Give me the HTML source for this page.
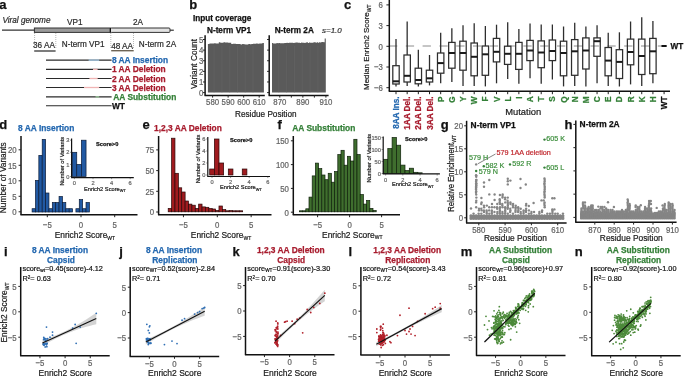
<!DOCTYPE html>
<html><head><meta charset="utf-8"><style>
html,body{margin:0;padding:0;background:#fff;}
svg{display:block;font-family:"Liberation Sans", sans-serif;will-change:transform;}
</style></head><body>
<svg width="685" height="376" viewBox="0 0 685 376">
<rect width="685" height="376" fill="#fff"/>
<text x="-0.8" y="9.1" font-size="13" font-weight="bold" fill="#111" stroke="#111" stroke-width="0.25">a</text>
<text x="2.4" y="23" font-size="8.2" font-style="italic" fill="#2a2a2a" stroke="#2a2a2a" stroke-width="0.2">Viral genome</text>
<text x="67" y="24.7" font-size="8.2" fill="#2a2a2a" stroke="#2a2a2a" stroke-width="0.2">VP1</text>
<text x="133" y="24.8" font-size="8.2" fill="#2a2a2a" stroke="#2a2a2a" stroke-width="0.2">2A</text>
<line x1="2" y1="30.2" x2="35" y2="30.2" stroke="#333" stroke-width="1.2"/>
<line x1="169" y1="30.2" x2="173.8" y2="30.2" stroke="#333" stroke-width="1.2"/>
<rect x="34.4" y="28" width="76" height="4.4" fill="#9a9a9a" stroke="#333" stroke-width="1.0"/>
<rect x="110.4" y="28" width="59.6" height="4.4" fill="#e2e2e2" stroke="#333" stroke-width="1.0" rx="1"/>
<line x1="110.4" y1="28" x2="110.4" y2="32.4" stroke="#111" stroke-width="1.2"/>
<line x1="34.6" y1="33" x2="34.6" y2="48" stroke="#999" stroke-width="0.7" stroke-dasharray="1 1"/>
<line x1="55.8" y1="33" x2="55.8" y2="48" stroke="#999" stroke-width="0.7" stroke-dasharray="1 1"/>
<line x1="110.8" y1="33" x2="110.8" y2="48" stroke="#999" stroke-width="0.7" stroke-dasharray="1 1"/>
<line x1="133.5" y1="33" x2="133.5" y2="48" stroke="#999" stroke-width="0.7" stroke-dasharray="1 1"/>
<text x="33" y="48.4" font-size="8.2" fill="#2a2a2a" stroke="#2a2a2a" stroke-width="0.2">36 AA</text>
<text x="111.2" y="48.6" font-size="8.2" fill="#2a2a2a" stroke="#2a2a2a" stroke-width="0.2">48 AA</text>
<line x1="34.2" y1="51" x2="55.6" y2="51" stroke="#444" stroke-width="1.4"/>
<line x1="111.2" y1="50.7" x2="133.7" y2="50.7" stroke="#6e6455" stroke-width="1.4"/>
<text x="61.8" y="46.9" font-size="8.2" fill="#2a2a2a" stroke="#2a2a2a" stroke-width="0.2">N-term VP1</text>
<text x="138.8" y="46.9" font-size="8.2" fill="#2a2a2a" stroke="#2a2a2a" stroke-width="0.2">N-term 2A</text>
<line x1="46" y1="60.1" x2="111.6" y2="60.1" stroke="#2a2a2a" stroke-width="1.15"/>
<line x1="88.6" y1="60.1" x2="99.2" y2="60.1" stroke="#a8cde8" stroke-width="1.3"/>
<text x="111.9" y="63.1" font-size="8.4" font-weight="bold" fill="#2468b0" stroke="#2468b0" stroke-width="0.25">8 AA Insertion</text>
<line x1="46" y1="69.4" x2="111.6" y2="69.4" stroke="#2a2a2a" stroke-width="1.15"/>
<line x1="93" y1="69.4" x2="97.6" y2="69.4" stroke="#f0b4b4" stroke-width="1.3"/>
<text x="111.9" y="72.4" font-size="8.4" font-weight="bold" fill="#a81c2e" stroke="#a81c2e" stroke-width="0.25">1 AA Deletion</text>
<line x1="46" y1="78.5" x2="111.6" y2="78.5" stroke="#2a2a2a" stroke-width="1.15"/>
<line x1="89.4" y1="78.5" x2="97.7" y2="78.5" stroke="#f0b4b4" stroke-width="1.3"/>
<text x="111.9" y="81.5" font-size="8.4" font-weight="bold" fill="#a81c2e" stroke="#a81c2e" stroke-width="0.25">2 AA Deletion</text>
<line x1="46" y1="87.5" x2="111.6" y2="87.5" stroke="#2a2a2a" stroke-width="1.15"/>
<line x1="84" y1="87.5" x2="99.2" y2="87.5" stroke="#f0b4b4" stroke-width="1.3"/>
<text x="111.9" y="90.5" font-size="8.4" font-weight="bold" fill="#a81c2e" stroke="#a81c2e" stroke-width="0.25">3 AA Deletion</text>
<line x1="46" y1="96.9" x2="111.6" y2="96.9" stroke="#2a2a2a" stroke-width="1.15"/>
<line x1="95.5" y1="96.9" x2="99.2" y2="96.9" stroke="#9ccc9c" stroke-width="1.3"/>
<text x="113.3" y="99.9" font-size="8.4" font-weight="bold" fill="#358039" stroke="#358039" stroke-width="0.25">AA Substitution</text>
<line x1="46" y1="105.7" x2="111.6" y2="105.7" stroke="#2a2a2a" stroke-width="1.15"/>
<text x="111.9" y="108.7" font-size="8.4" font-weight="bold" fill="#111" stroke="#111" stroke-width="0.25">WT</text>
<text x="189.2" y="9.4" font-size="13" font-weight="bold" fill="#111" stroke="#111" stroke-width="0.25">b</text>
<text x="193" y="20.8" font-size="8.2" font-weight="bold" fill="#111" stroke="#111" stroke-width="0.25">Input coverage</text>
<text x="207" y="33.2" font-size="8.2" font-weight="bold" fill="#111" stroke="#111" stroke-width="0.25">N-term VP1</text>
<text x="274.7" y="33.2" font-size="8.2" font-weight="bold" fill="#111" stroke="#111" stroke-width="0.25">N-term 2A</text>
<text x="322" y="32.6" font-size="8.0" font-style="italic" fill="#333" stroke="#333" stroke-width="0.2">s=1.0</text>
<polygon points="207.9,92.6 207.9,43.91 209.46,43.91 209.46,43.61 211.01,43.61 211.01,43.62 212.57,43.62 212.57,43.38 214.12,43.38 214.12,43.29 215.68,43.29 215.68,43.58 217.23,43.58 217.23,43.56 218.79,43.56 218.79,42.27 220.34,42.27 220.34,42.63 221.9,42.63 221.9,42.66 223.46,42.66 223.46,42.21 225.01,42.21 225.01,42.59 226.57,42.59 226.57,42.43 228.12,42.43 228.12,42.75 229.68,42.75 229.68,42.74 231.23,42.74 231.23,43.9 232.79,43.9 232.79,43.69 234.34,43.69 234.34,43.65 235.9,43.65 235.9,43.97 237.46,43.97 237.46,43.92 239.01,43.92 239.01,44.04 240.57,44.04 240.57,44.49 242.12,44.49 242.12,44.09 243.68,44.09 243.68,44.22 245.23,44.22 245.23,44.4 246.79,44.4 246.79,44.56 248.34,44.56 248.34,43.98 249.9,43.98 249.9,44.18 251.46,44.18 251.46,43.94 253.01,43.94 253.01,43.75 254.57,43.75 254.57,43.76 256.12,43.76 256.12,43.52 257.68,43.52 257.68,43.75 259.23,43.75 259.23,43.39 260.79,43.39 260.79,43.52 262.34,43.52 262.34,43.12 263.9,43.12 263.9,92.6" fill="#5a5a5a"/>
<line x1="214.12" y1="46" x2="214.12" y2="92.6" stroke="#6a6a6a" stroke-width="0.4"/>
<line x1="221.9" y1="46" x2="221.9" y2="92.6" stroke="#6a6a6a" stroke-width="0.4"/>
<line x1="229.68" y1="46" x2="229.68" y2="92.6" stroke="#6a6a6a" stroke-width="0.4"/>
<line x1="237.46" y1="46" x2="237.46" y2="92.6" stroke="#6a6a6a" stroke-width="0.4"/>
<line x1="245.23" y1="46" x2="245.23" y2="92.6" stroke="#6a6a6a" stroke-width="0.4"/>
<line x1="253.01" y1="46" x2="253.01" y2="92.6" stroke="#6a6a6a" stroke-width="0.4"/>
<polygon points="272,92.6 272,43.08 273.12,43.08 273.12,43.56 274.24,43.56 274.24,43.51 275.36,43.51 275.36,43.44 276.48,43.44 276.48,42.94 277.6,42.94 277.6,43.25 278.73,43.25 278.73,43.11 279.85,43.11 279.85,43.3 280.97,43.3 280.97,43.14 282.09,43.14 282.09,43.2 283.21,43.2 283.21,43.2 284.33,43.2 284.33,43.03 285.45,43.03 285.45,43 286.57,43 286.57,42.78 287.69,42.78 287.69,42.9 288.81,42.9 288.81,42.72 289.93,42.72 289.93,42.74 291.05,42.74 291.05,42.63 292.18,42.63 292.18,42.82 293.3,42.82 293.3,43.12 294.42,43.12 294.42,42.65 295.54,42.65 295.54,42.56 296.66,42.56 296.66,42.58 297.78,42.58 297.78,42.77 298.9,42.77 298.9,42.66 300.02,42.66 300.02,42.95 301.14,42.95 301.14,42.54 302.26,42.54 302.26,42.68 303.38,42.68 303.38,42.84 304.5,42.84 304.5,42.96 305.62,42.96 305.62,42.43 306.75,42.43 306.75,42.33 307.87,42.33 307.87,42.88 308.99,42.88 308.99,42.4 310.11,42.4 310.11,42.63 311.23,42.63 311.23,42.77 312.35,42.77 312.35,42.66 313.47,42.66 313.47,42.33 314.59,42.33 314.59,42.24 315.71,42.24 315.71,42.75 316.83,42.75 316.83,42.37 317.95,42.37 317.95,42.71 319.07,42.71 319.07,42.25 320.2,42.25 320.2,42.48 321.32,42.48 321.32,42.11 322.44,42.11 322.44,42.02 323.56,42.02 323.56,42.3 324.68,42.3 324.68,38.44 325.8,38.44 325.8,92.6" fill="#5a5a5a"/>
<line x1="278.73" y1="46" x2="278.73" y2="92.6" stroke="#6a6a6a" stroke-width="0.4"/>
<line x1="286.57" y1="46" x2="286.57" y2="92.6" stroke="#6a6a6a" stroke-width="0.4"/>
<line x1="294.42" y1="46" x2="294.42" y2="92.6" stroke="#6a6a6a" stroke-width="0.4"/>
<line x1="302.26" y1="46" x2="302.26" y2="92.6" stroke="#6a6a6a" stroke-width="0.4"/>
<line x1="310.11" y1="46" x2="310.11" y2="92.6" stroke="#6a6a6a" stroke-width="0.4"/>
<line x1="317.95" y1="46" x2="317.95" y2="92.6" stroke="#6a6a6a" stroke-width="0.4"/>
<line x1="205.1" y1="35.3" x2="205.1" y2="95.4" stroke="#111" stroke-width="1.5"/>
<line x1="204.5" y1="95.4" x2="264.8" y2="95.4" stroke="#111" stroke-width="1.5"/>
<line x1="269.2" y1="35.3" x2="269.2" y2="95.4" stroke="#111" stroke-width="1.5"/>
<line x1="268.6" y1="95.4" x2="328.6" y2="95.4" stroke="#111" stroke-width="1.5"/>
<line x1="203" y1="92.6" x2="205.1" y2="92.6" stroke="#222" stroke-width="1.0"/>
<text x="203.4" y="95.4" font-size="7.8" fill="#646464" stroke="#646464" stroke-width="0.2" text-anchor="end" transform="matrix(1 0 0 1.18 0 -16.67)">0</text>
<line x1="267.1" y1="92.6" x2="269.2" y2="92.6" stroke="#222" stroke-width="1.0"/>
<line x1="203" y1="81.98" x2="205.1" y2="81.98" stroke="#222" stroke-width="1.0"/>
<text x="203.4" y="84.78" font-size="7.8" fill="#646464" stroke="#646464" stroke-width="0.2" text-anchor="end" transform="matrix(1 0 0 1.18 0 -14.75)">1</text>
<line x1="267.1" y1="81.98" x2="269.2" y2="81.98" stroke="#222" stroke-width="1.0"/>
<line x1="203" y1="71.36" x2="205.1" y2="71.36" stroke="#222" stroke-width="1.0"/>
<text x="203.4" y="74.16" font-size="7.8" fill="#646464" stroke="#646464" stroke-width="0.2" text-anchor="end" transform="matrix(1 0 0 1.18 0 -12.84)">2</text>
<line x1="267.1" y1="71.36" x2="269.2" y2="71.36" stroke="#222" stroke-width="1.0"/>
<line x1="203" y1="60.74" x2="205.1" y2="60.74" stroke="#222" stroke-width="1.0"/>
<text x="203.4" y="63.54" font-size="7.8" fill="#646464" stroke="#646464" stroke-width="0.2" text-anchor="end" transform="matrix(1 0 0 1.18 0 -10.93)">3</text>
<line x1="267.1" y1="60.74" x2="269.2" y2="60.74" stroke="#222" stroke-width="1.0"/>
<line x1="203" y1="50.12" x2="205.1" y2="50.12" stroke="#222" stroke-width="1.0"/>
<text x="203.4" y="52.92" font-size="7.8" fill="#646464" stroke="#646464" stroke-width="0.2" text-anchor="end" transform="matrix(1 0 0 1.18 0 -9.02)">4</text>
<line x1="267.1" y1="50.12" x2="269.2" y2="50.12" stroke="#222" stroke-width="1.0"/>
<line x1="203" y1="39.5" x2="205.1" y2="39.5" stroke="#222" stroke-width="1.0"/>
<text x="203.4" y="42.3" font-size="7.8" fill="#646464" stroke="#646464" stroke-width="0.2" text-anchor="end" transform="matrix(1 0 0 1.18 0 -7.11)">5</text>
<line x1="267.1" y1="39.5" x2="269.2" y2="39.5" stroke="#222" stroke-width="1.0"/>
<line x1="212.6" y1="95.4" x2="212.6" y2="97.6" stroke="#222" stroke-width="1.0"/>
<text x="212.6" y="104.4" font-size="7.8" fill="#646464" stroke="#646464" stroke-width="0.2" text-anchor="middle" transform="matrix(1 0 0 1.18 0 -18.29)">580</text>
<line x1="228.13" y1="95.4" x2="228.13" y2="97.6" stroke="#222" stroke-width="1.0"/>
<text x="228.13" y="104.4" font-size="7.8" fill="#646464" stroke="#646464" stroke-width="0.2" text-anchor="middle" transform="matrix(1 0 0 1.18 0 -18.29)">590</text>
<line x1="243.66" y1="95.4" x2="243.66" y2="97.6" stroke="#222" stroke-width="1.0"/>
<text x="243.66" y="104.4" font-size="7.8" fill="#646464" stroke="#646464" stroke-width="0.2" text-anchor="middle" transform="matrix(1 0 0 1.18 0 -18.29)">600</text>
<line x1="259.19" y1="95.4" x2="259.19" y2="97.6" stroke="#222" stroke-width="1.0"/>
<text x="259.19" y="104.4" font-size="7.8" fill="#646464" stroke="#646464" stroke-width="0.2" text-anchor="middle" transform="matrix(1 0 0 1.18 0 -18.29)">610</text>
<line x1="279.8" y1="95.4" x2="279.8" y2="97.6" stroke="#222" stroke-width="1.0"/>
<text x="279.8" y="104.4" font-size="7.8" fill="#646464" stroke="#646464" stroke-width="0.2" text-anchor="middle" transform="matrix(1 0 0 1.18 0 -18.29)">870</text>
<line x1="291.33" y1="95.4" x2="291.33" y2="97.6" stroke="#222" stroke-width="1.0"/>
<line x1="302.86" y1="95.4" x2="302.86" y2="97.6" stroke="#222" stroke-width="1.0"/>
<text x="302.86" y="104.4" font-size="7.8" fill="#646464" stroke="#646464" stroke-width="0.2" text-anchor="middle" transform="matrix(1 0 0 1.18 0 -18.29)">890</text>
<line x1="314.39" y1="95.4" x2="314.39" y2="97.6" stroke="#222" stroke-width="1.0"/>
<line x1="325.92" y1="95.4" x2="325.92" y2="97.6" stroke="#222" stroke-width="1.0"/>
<text x="325.92" y="104.4" font-size="7.8" fill="#646464" stroke="#646464" stroke-width="0.2" text-anchor="middle" transform="matrix(1 0 0 1.18 0 -18.29)">910</text>
<text x="265.8" y="116.6" font-size="8.2" fill="#1a1a1a" stroke="#1a1a1a" stroke-width="0.2" text-anchor="middle">Residue Position</text>
<text x="196.7" y="64" font-size="8.3" fill="#1a1a1a" stroke="#1a1a1a" stroke-width="0.2" text-anchor="middle" transform="rotate(-90 196.7 64)">Variant Count</text>
<text x="344" y="8.8" font-size="13" font-weight="bold" fill="#111" stroke="#111" stroke-width="0.25">c</text>
<line x1="386.4" y1="4.9" x2="389.3" y2="4.9" stroke="#222" stroke-width="1.0"/>
<text x="382.8" y="7.7" font-size="7.8" fill="#646464" stroke="#646464" stroke-width="0.2" text-anchor="end" transform="matrix(1 0 0 1.18 0 -0.88)">6</text>
<line x1="386.4" y1="25.6" x2="389.3" y2="25.6" stroke="#222" stroke-width="1.0"/>
<text x="382.8" y="28.4" font-size="7.8" fill="#646464" stroke="#646464" stroke-width="0.2" text-anchor="end" transform="matrix(1 0 0 1.18 0 -4.61)">3</text>
<line x1="386.4" y1="46.3" x2="389.3" y2="46.3" stroke="#222" stroke-width="1.0"/>
<text x="382.8" y="49.1" font-size="7.8" fill="#646464" stroke="#646464" stroke-width="0.2" text-anchor="end" transform="matrix(1 0 0 1.18 0 -8.33)">0</text>
<line x1="386.4" y1="67" x2="389.3" y2="67" stroke="#222" stroke-width="1.0"/>
<text x="382.8" y="69.8" font-size="7.8" fill="#646464" stroke="#646464" stroke-width="0.2" text-anchor="end" transform="matrix(1 0 0 1.18 0 -12.06)">−3</text>
<line x1="386.4" y1="87.7" x2="389.3" y2="87.7" stroke="#222" stroke-width="1.0"/>
<text x="382.8" y="90.5" font-size="7.8" fill="#646464" stroke="#646464" stroke-width="0.2" text-anchor="end" transform="matrix(1 0 0 1.18 0 -15.78)">−6</text>
<line x1="389" y1="46" x2="666" y2="46" stroke="#8c8c8c" stroke-width="1.0" stroke-dasharray="8.3 8.5"/>
<line x1="396" y1="39" x2="396" y2="65.7" stroke="#2e2e2e" stroke-width="1.3"/>
<line x1="396" y1="84" x2="396" y2="86.6" stroke="#2e2e2e" stroke-width="1.3"/>
<rect x="392.8" y="65.7" width="6.4" height="18.3" fill="none" stroke="#2e2e2e" stroke-width="1.25"/>
<line x1="392.8" y1="81.3" x2="399.2" y2="81.3" stroke="#1a1a1a" stroke-width="2.0"/>
<line x1="396" y1="91.2" x2="396" y2="94.2" stroke="#222" stroke-width="1.0"/>
<text x="399" y="96.4" font-size="8.2" font-weight="bold" fill="#2468b0" stroke="#2468b0" stroke-width="0.25" text-anchor="end" transform="rotate(-90 399 96.4)">8AA Ins.</text>
<line x1="407.17" y1="21.5" x2="407.17" y2="55" stroke="#2e2e2e" stroke-width="1.3"/>
<line x1="407.17" y1="82" x2="407.17" y2="86" stroke="#2e2e2e" stroke-width="1.3"/>
<rect x="403.97" y="55" width="6.4" height="27" fill="none" stroke="#2e2e2e" stroke-width="1.25"/>
<line x1="403.97" y1="75.8" x2="410.37" y2="75.8" stroke="#1a1a1a" stroke-width="2.0"/>
<line x1="407.17" y1="91.2" x2="407.17" y2="94.2" stroke="#222" stroke-width="1.0"/>
<text x="410.17" y="96.4" font-size="8.2" font-weight="bold" fill="#a81c2e" stroke="#a81c2e" stroke-width="0.25" text-anchor="end" transform="rotate(-90 410.17 96.4)">1AA Del.</text>
<line x1="418.34" y1="49.7" x2="418.34" y2="68.2" stroke="#2e2e2e" stroke-width="1.3"/>
<line x1="418.34" y1="83.8" x2="418.34" y2="86.6" stroke="#2e2e2e" stroke-width="1.3"/>
<rect x="415.14" y="68.2" width="6.4" height="15.6" fill="none" stroke="#2e2e2e" stroke-width="1.25"/>
<line x1="415.14" y1="80" x2="421.54" y2="80" stroke="#1a1a1a" stroke-width="2.0"/>
<line x1="418.34" y1="91.2" x2="418.34" y2="94.2" stroke="#222" stroke-width="1.0"/>
<text x="421.34" y="96.4" font-size="8.2" font-weight="bold" fill="#a81c2e" stroke="#a81c2e" stroke-width="0.25" text-anchor="end" transform="rotate(-90 421.34 96.4)">2AA Del.</text>
<line x1="429.51" y1="55" x2="429.51" y2="70.2" stroke="#2e2e2e" stroke-width="1.3"/>
<line x1="429.51" y1="82" x2="429.51" y2="85.4" stroke="#2e2e2e" stroke-width="1.3"/>
<rect x="426.31" y="70.2" width="6.4" height="11.8" fill="none" stroke="#2e2e2e" stroke-width="1.25"/>
<line x1="426.31" y1="78.3" x2="432.71" y2="78.3" stroke="#1a1a1a" stroke-width="2.0"/>
<line x1="429.51" y1="91.2" x2="429.51" y2="94.2" stroke="#222" stroke-width="1.0"/>
<text x="432.51" y="96.4" font-size="8.2" font-weight="bold" fill="#a81c2e" stroke="#a81c2e" stroke-width="0.25" text-anchor="end" transform="rotate(-90 432.51 96.4)">3AA Del.</text>
<line x1="440.68" y1="32.8" x2="440.68" y2="53" stroke="#2e2e2e" stroke-width="1.3"/>
<line x1="440.68" y1="73.2" x2="440.68" y2="83.3" stroke="#2e2e2e" stroke-width="1.3"/>
<rect x="437.48" y="53" width="6.4" height="20.2" fill="none" stroke="#2e2e2e" stroke-width="1.25"/>
<line x1="437.48" y1="63.1" x2="443.88" y2="63.1" stroke="#1a1a1a" stroke-width="2.0"/>
<line x1="440.68" y1="91.2" x2="440.68" y2="94.2" stroke="#222" stroke-width="1.0"/>
<text x="443.68" y="96.4" font-size="8.2" font-weight="bold" fill="#358039" stroke="#358039" stroke-width="0.25" text-anchor="end" transform="rotate(-90 443.68 96.4)">P</text>
<line x1="451.85" y1="28.3" x2="451.85" y2="42.4" stroke="#2e2e2e" stroke-width="1.3"/>
<line x1="451.85" y1="68.2" x2="451.85" y2="82" stroke="#2e2e2e" stroke-width="1.3"/>
<rect x="448.65" y="42.4" width="6.4" height="25.8" fill="none" stroke="#2e2e2e" stroke-width="1.25"/>
<line x1="448.65" y1="53" x2="455.05" y2="53" stroke="#1a1a1a" stroke-width="2.0"/>
<line x1="451.85" y1="91.2" x2="451.85" y2="94.2" stroke="#222" stroke-width="1.0"/>
<text x="454.85" y="96.4" font-size="8.2" font-weight="bold" fill="#358039" stroke="#358039" stroke-width="0.25" text-anchor="end" transform="rotate(-90 454.85 96.4)">G</text>
<line x1="463.02" y1="25.3" x2="463.02" y2="41.2" stroke="#2e2e2e" stroke-width="1.3"/>
<line x1="463.02" y1="70.2" x2="463.02" y2="85.9" stroke="#2e2e2e" stroke-width="1.3"/>
<rect x="459.82" y="41.2" width="6.4" height="29" fill="none" stroke="#2e2e2e" stroke-width="1.25"/>
<line x1="459.82" y1="53" x2="466.22" y2="53" stroke="#1a1a1a" stroke-width="2.0"/>
<line x1="463.02" y1="91.2" x2="463.02" y2="94.2" stroke="#222" stroke-width="1.0"/>
<text x="466.02" y="96.4" font-size="8.2" font-weight="bold" fill="#358039" stroke="#358039" stroke-width="0.25" text-anchor="end" transform="rotate(-90 466.02 96.4)">Y</text>
<line x1="474.19" y1="23.2" x2="474.19" y2="43" stroke="#2e2e2e" stroke-width="1.3"/>
<line x1="474.19" y1="75.8" x2="474.19" y2="85.9" stroke="#2e2e2e" stroke-width="1.3"/>
<rect x="470.99" y="43" width="6.4" height="32.8" fill="none" stroke="#2e2e2e" stroke-width="1.25"/>
<line x1="470.99" y1="56.8" x2="477.39" y2="56.8" stroke="#1a1a1a" stroke-width="2.0"/>
<line x1="474.19" y1="91.2" x2="474.19" y2="94.2" stroke="#222" stroke-width="1.0"/>
<text x="477.19" y="96.4" font-size="8.2" font-weight="bold" fill="#358039" stroke="#358039" stroke-width="0.25" text-anchor="end" transform="rotate(-90 477.19 96.4)">W</text>
<line x1="485.36" y1="26" x2="485.36" y2="46" stroke="#2e2e2e" stroke-width="1.3"/>
<line x1="485.36" y1="75.3" x2="485.36" y2="86.4" stroke="#2e2e2e" stroke-width="1.3"/>
<rect x="482.16" y="46" width="6.4" height="29.3" fill="none" stroke="#2e2e2e" stroke-width="1.25"/>
<line x1="482.16" y1="54.3" x2="488.56" y2="54.3" stroke="#1a1a1a" stroke-width="2.0"/>
<line x1="485.36" y1="91.2" x2="485.36" y2="94.2" stroke="#222" stroke-width="1.0"/>
<text x="488.36" y="96.4" font-size="8.2" font-weight="bold" fill="#358039" stroke="#358039" stroke-width="0.25" text-anchor="end" transform="rotate(-90 488.36 96.4)">F</text>
<line x1="496.53" y1="24.7" x2="496.53" y2="38.4" stroke="#2e2e2e" stroke-width="1.3"/>
<line x1="496.53" y1="61.9" x2="496.53" y2="83.3" stroke="#2e2e2e" stroke-width="1.3"/>
<rect x="493.33" y="38.4" width="6.4" height="23.5" fill="none" stroke="#2e2e2e" stroke-width="1.25"/>
<line x1="493.33" y1="51.8" x2="499.73" y2="51.8" stroke="#1a1a1a" stroke-width="2.0"/>
<line x1="496.53" y1="91.2" x2="496.53" y2="94.2" stroke="#222" stroke-width="1.0"/>
<text x="499.53" y="96.4" font-size="8.2" font-weight="bold" fill="#358039" stroke="#358039" stroke-width="0.25" text-anchor="end" transform="rotate(-90 499.53 96.4)">V</text>
<line x1="507.7" y1="22.2" x2="507.7" y2="46.2" stroke="#2e2e2e" stroke-width="1.3"/>
<line x1="507.7" y1="64.4" x2="507.7" y2="79" stroke="#2e2e2e" stroke-width="1.3"/>
<rect x="504.5" y="46.2" width="6.4" height="18.2" fill="none" stroke="#2e2e2e" stroke-width="1.25"/>
<line x1="504.5" y1="53.8" x2="510.9" y2="53.8" stroke="#1a1a1a" stroke-width="2.0"/>
<line x1="507.7" y1="91.2" x2="507.7" y2="94.2" stroke="#222" stroke-width="1.0"/>
<text x="510.7" y="96.4" font-size="8.2" font-weight="bold" fill="#358039" stroke="#358039" stroke-width="0.25" text-anchor="end" transform="rotate(-90 510.7 96.4)">L</text>
<line x1="518.87" y1="29" x2="518.87" y2="42.4" stroke="#2e2e2e" stroke-width="1.3"/>
<line x1="518.87" y1="69.4" x2="518.87" y2="83.8" stroke="#2e2e2e" stroke-width="1.3"/>
<rect x="515.67" y="42.4" width="6.4" height="27" fill="none" stroke="#2e2e2e" stroke-width="1.25"/>
<line x1="515.67" y1="53.8" x2="522.07" y2="53.8" stroke="#1a1a1a" stroke-width="2.0"/>
<line x1="518.87" y1="91.2" x2="518.87" y2="94.2" stroke="#222" stroke-width="1.0"/>
<text x="521.87" y="96.4" font-size="8.2" font-weight="bold" fill="#358039" stroke="#358039" stroke-width="0.25" text-anchor="end" transform="rotate(-90 521.87 96.4)">I</text>
<line x1="530.04" y1="23.5" x2="530.04" y2="40.4" stroke="#2e2e2e" stroke-width="1.3"/>
<line x1="530.04" y1="60.6" x2="530.04" y2="78.3" stroke="#2e2e2e" stroke-width="1.3"/>
<rect x="526.84" y="40.4" width="6.4" height="20.2" fill="none" stroke="#2e2e2e" stroke-width="1.25"/>
<line x1="526.84" y1="50.5" x2="533.24" y2="50.5" stroke="#1a1a1a" stroke-width="2.0"/>
<line x1="530.04" y1="91.2" x2="530.04" y2="94.2" stroke="#222" stroke-width="1.0"/>
<text x="533.04" y="96.4" font-size="8.2" font-weight="bold" fill="#358039" stroke="#358039" stroke-width="0.25" text-anchor="end" transform="rotate(-90 533.04 96.4)">A</text>
<line x1="541.21" y1="24.5" x2="541.21" y2="40.9" stroke="#2e2e2e" stroke-width="1.3"/>
<line x1="541.21" y1="67.7" x2="541.21" y2="83.8" stroke="#2e2e2e" stroke-width="1.3"/>
<rect x="538.01" y="40.9" width="6.4" height="26.8" fill="none" stroke="#2e2e2e" stroke-width="1.25"/>
<line x1="538.01" y1="52.5" x2="544.41" y2="52.5" stroke="#1a1a1a" stroke-width="2.0"/>
<line x1="541.21" y1="91.2" x2="541.21" y2="94.2" stroke="#222" stroke-width="1.0"/>
<text x="544.21" y="96.4" font-size="8.2" font-weight="bold" fill="#358039" stroke="#358039" stroke-width="0.25" text-anchor="end" transform="rotate(-90 544.21 96.4)">T</text>
<line x1="552.38" y1="24.5" x2="552.38" y2="40" stroke="#2e2e2e" stroke-width="1.3"/>
<line x1="552.38" y1="60.6" x2="552.38" y2="79.5" stroke="#2e2e2e" stroke-width="1.3"/>
<rect x="549.18" y="40" width="6.4" height="20.6" fill="none" stroke="#2e2e2e" stroke-width="1.25"/>
<line x1="549.18" y1="51" x2="555.58" y2="51" stroke="#1a1a1a" stroke-width="2.0"/>
<line x1="552.38" y1="91.2" x2="552.38" y2="94.2" stroke="#222" stroke-width="1.0"/>
<text x="555.38" y="96.4" font-size="8.2" font-weight="bold" fill="#358039" stroke="#358039" stroke-width="0.25" text-anchor="end" transform="rotate(-90 555.38 96.4)">S</text>
<line x1="563.55" y1="26.5" x2="563.55" y2="41.2" stroke="#2e2e2e" stroke-width="1.3"/>
<line x1="563.55" y1="75.8" x2="563.55" y2="86.4" stroke="#2e2e2e" stroke-width="1.3"/>
<rect x="560.35" y="41.2" width="6.4" height="34.6" fill="none" stroke="#2e2e2e" stroke-width="1.25"/>
<line x1="560.35" y1="53" x2="566.75" y2="53" stroke="#1a1a1a" stroke-width="2.0"/>
<line x1="563.55" y1="91.2" x2="563.55" y2="94.2" stroke="#222" stroke-width="1.0"/>
<text x="566.55" y="96.4" font-size="8.2" font-weight="bold" fill="#358039" stroke="#358039" stroke-width="0.25" text-anchor="end" transform="rotate(-90 566.55 96.4)">Q</text>
<line x1="574.72" y1="22.7" x2="574.72" y2="39.6" stroke="#2e2e2e" stroke-width="1.3"/>
<line x1="574.72" y1="75.3" x2="574.72" y2="85.9" stroke="#2e2e2e" stroke-width="1.3"/>
<rect x="571.52" y="39.6" width="6.4" height="35.7" fill="none" stroke="#2e2e2e" stroke-width="1.25"/>
<line x1="571.52" y1="51.3" x2="577.92" y2="51.3" stroke="#1a1a1a" stroke-width="2.0"/>
<line x1="574.72" y1="91.2" x2="574.72" y2="94.2" stroke="#222" stroke-width="1.0"/>
<text x="577.72" y="96.4" font-size="8.2" font-weight="bold" fill="#358039" stroke="#358039" stroke-width="0.25" text-anchor="end" transform="rotate(-90 577.72 96.4)">N</text>
<line x1="585.89" y1="26.5" x2="585.89" y2="37.9" stroke="#2e2e2e" stroke-width="1.3"/>
<line x1="585.89" y1="69" x2="585.89" y2="86.4" stroke="#2e2e2e" stroke-width="1.3"/>
<rect x="582.69" y="37.9" width="6.4" height="31.1" fill="none" stroke="#2e2e2e" stroke-width="1.25"/>
<line x1="582.69" y1="50.5" x2="589.09" y2="50.5" stroke="#1a1a1a" stroke-width="2.0"/>
<line x1="585.89" y1="91.2" x2="585.89" y2="94.2" stroke="#222" stroke-width="1.0"/>
<text x="588.89" y="96.4" font-size="8.2" font-weight="bold" fill="#358039" stroke="#358039" stroke-width="0.25" text-anchor="end" transform="rotate(-90 588.89 96.4)">M</text>
<line x1="597.06" y1="25.3" x2="597.06" y2="37.9" stroke="#2e2e2e" stroke-width="1.3"/>
<line x1="597.06" y1="56.3" x2="597.06" y2="83.3" stroke="#2e2e2e" stroke-width="1.3"/>
<rect x="593.86" y="37.9" width="6.4" height="18.4" fill="none" stroke="#2e2e2e" stroke-width="1.25"/>
<line x1="593.86" y1="41.2" x2="600.26" y2="41.2" stroke="#1a1a1a" stroke-width="2.0"/>
<line x1="597.06" y1="91.2" x2="597.06" y2="94.2" stroke="#222" stroke-width="1.0"/>
<text x="600.06" y="96.4" font-size="8.2" font-weight="bold" fill="#358039" stroke="#358039" stroke-width="0.25" text-anchor="end" transform="rotate(-90 600.06 96.4)">C</text>
<line x1="608.23" y1="32.8" x2="608.23" y2="47.5" stroke="#2e2e2e" stroke-width="1.3"/>
<line x1="608.23" y1="75.8" x2="608.23" y2="85.9" stroke="#2e2e2e" stroke-width="1.3"/>
<rect x="605.03" y="47.5" width="6.4" height="28.3" fill="none" stroke="#2e2e2e" stroke-width="1.25"/>
<line x1="605.03" y1="60.6" x2="611.43" y2="60.6" stroke="#1a1a1a" stroke-width="2.0"/>
<line x1="608.23" y1="91.2" x2="608.23" y2="94.2" stroke="#222" stroke-width="1.0"/>
<text x="611.23" y="96.4" font-size="8.2" font-weight="bold" fill="#358039" stroke="#358039" stroke-width="0.25" text-anchor="end" transform="rotate(-90 611.23 96.4)">E</text>
<line x1="619.4" y1="32.3" x2="619.4" y2="49.7" stroke="#2e2e2e" stroke-width="1.3"/>
<line x1="619.4" y1="78.5" x2="619.4" y2="86.5" stroke="#2e2e2e" stroke-width="1.3"/>
<rect x="616.2" y="49.7" width="6.4" height="28.8" fill="none" stroke="#2e2e2e" stroke-width="1.25"/>
<line x1="616.2" y1="61.9" x2="622.6" y2="61.9" stroke="#1a1a1a" stroke-width="2.0"/>
<line x1="619.4" y1="91.2" x2="619.4" y2="94.2" stroke="#222" stroke-width="1.0"/>
<text x="622.4" y="96.4" font-size="8.2" font-weight="bold" fill="#358039" stroke="#358039" stroke-width="0.25" text-anchor="end" transform="rotate(-90 622.4 96.4)">D</text>
<line x1="630.57" y1="21.5" x2="630.57" y2="39.1" stroke="#2e2e2e" stroke-width="1.3"/>
<line x1="630.57" y1="64.8" x2="630.57" y2="84.4" stroke="#2e2e2e" stroke-width="1.3"/>
<rect x="627.37" y="39.1" width="6.4" height="25.7" fill="none" stroke="#2e2e2e" stroke-width="1.25"/>
<line x1="627.37" y1="52" x2="633.77" y2="52" stroke="#1a1a1a" stroke-width="2.0"/>
<line x1="630.57" y1="91.2" x2="630.57" y2="94.2" stroke="#222" stroke-width="1.0"/>
<text x="633.57" y="96.4" font-size="8.2" font-weight="bold" fill="#358039" stroke="#358039" stroke-width="0.25" text-anchor="end" transform="rotate(-90 633.57 96.4)">R</text>
<line x1="641.74" y1="17.2" x2="641.74" y2="39.1" stroke="#2e2e2e" stroke-width="1.3"/>
<line x1="641.74" y1="74.5" x2="641.74" y2="85.9" stroke="#2e2e2e" stroke-width="1.3"/>
<rect x="638.54" y="39.1" width="6.4" height="35.4" fill="none" stroke="#2e2e2e" stroke-width="1.25"/>
<line x1="638.54" y1="56" x2="644.94" y2="56" stroke="#1a1a1a" stroke-width="2.0"/>
<line x1="641.74" y1="91.2" x2="641.74" y2="94.2" stroke="#222" stroke-width="1.0"/>
<text x="644.74" y="96.4" font-size="8.2" font-weight="bold" fill="#358039" stroke="#358039" stroke-width="0.25" text-anchor="end" transform="rotate(-90 644.74 96.4)">K</text>
<line x1="652.91" y1="21" x2="652.91" y2="38.4" stroke="#2e2e2e" stroke-width="1.3"/>
<line x1="652.91" y1="73.7" x2="652.91" y2="83.3" stroke="#2e2e2e" stroke-width="1.3"/>
<rect x="649.71" y="38.4" width="6.4" height="35.3" fill="none" stroke="#2e2e2e" stroke-width="1.25"/>
<line x1="649.71" y1="51.3" x2="656.11" y2="51.3" stroke="#1a1a1a" stroke-width="2.0"/>
<line x1="652.91" y1="91.2" x2="652.91" y2="94.2" stroke="#222" stroke-width="1.0"/>
<text x="655.91" y="96.4" font-size="8.2" font-weight="bold" fill="#358039" stroke="#358039" stroke-width="0.25" text-anchor="end" transform="rotate(-90 655.91 96.4)">H</text>
<line x1="661.48" y1="46" x2="666.68" y2="46" stroke="#111" stroke-width="2.0"/>
<line x1="664.08" y1="91.2" x2="664.08" y2="94.2" stroke="#222" stroke-width="1.0"/>
<text x="667.08" y="96.4" font-size="8.2" font-weight="bold" fill="#111" stroke="#111" stroke-width="0.25" text-anchor="end" transform="rotate(-90 667.08 96.4)">WT</text>
<text x="670.6" y="49" font-size="8.2" font-weight="bold" fill="#111" stroke="#111" stroke-width="0.25">WT</text>
<text x="505.2" y="115.3" font-size="9.4" fill="#1a1a1a" stroke="#1a1a1a" stroke-width="0.2">Mutation</text>
<text x="368.7" y="47.2" font-size="7.9" fill="#1a1a1a" stroke="#1a1a1a" stroke-width="0.2" text-anchor="middle" transform="rotate(-90 368.7 47.2)">Median Enrich2 Score<tspan font-size="5" dy="1.8">WT</tspan></text>
<line x1="389.3" y1="0" x2="389.3" y2="91.2" stroke="#111" stroke-width="1.5"/>
<line x1="388.7" y1="91.2" x2="670" y2="91.2" stroke="#111" stroke-width="1.5"/>
<text x="-0.8" y="128.6" font-size="13" font-weight="bold" fill="#111" stroke="#111" stroke-width="0.25">d</text>
<text x="18.1" y="131.1" font-size="8.4" font-weight="bold" fill="#2468b0" stroke="#2468b0" stroke-width="0.25">8 AA Insertion</text>
<rect x="32.1" y="208.7" width="3.37" height="3.3" fill="#2159a3" stroke="#0c1c38" stroke-width="0.7"/>
<rect x="35.47" y="180.4" width="3.37" height="31.6" fill="#2159a3" stroke="#0c1c38" stroke-width="0.7"/>
<rect x="38.84" y="155.4" width="3.37" height="56.6" fill="#2159a3" stroke="#0c1c38" stroke-width="0.7"/>
<rect x="42.21" y="139.4" width="3.37" height="72.6" fill="#2159a3" stroke="#0c1c38" stroke-width="0.7"/>
<rect x="45.58" y="193" width="3.37" height="19" fill="#2159a3" stroke="#0c1c38" stroke-width="0.7"/>
<rect x="48.95" y="208.7" width="3.37" height="3.3" fill="#2159a3" stroke="#0c1c38" stroke-width="0.7"/>
<rect x="52.32" y="202.5" width="3.37" height="9.5" fill="#2159a3" stroke="#0c1c38" stroke-width="0.7"/>
<rect x="55.69" y="202.5" width="3.37" height="9.5" fill="#2159a3" stroke="#0c1c38" stroke-width="0.7"/>
<rect x="59.06" y="196.5" width="3.37" height="15.5" fill="#2159a3" stroke="#0c1c38" stroke-width="0.7"/>
<rect x="62.43" y="202.5" width="3.37" height="9.5" fill="#2159a3" stroke="#0c1c38" stroke-width="0.7"/>
<rect x="65.8" y="208.7" width="3.37" height="3.3" fill="#2159a3" stroke="#0c1c38" stroke-width="0.7"/>
<rect x="69.17" y="208.7" width="3.37" height="3.3" fill="#2159a3" stroke="#0c1c38" stroke-width="0.7"/>
<rect x="75.91" y="208.7" width="3.37" height="3.3" fill="#2159a3" stroke="#0c1c38" stroke-width="0.7"/>
<rect x="79.28" y="199.6" width="3.37" height="12.4" fill="#2159a3" stroke="#0c1c38" stroke-width="0.7"/>
<rect x="82.65" y="208.7" width="3.37" height="3.3" fill="#2159a3" stroke="#0c1c38" stroke-width="0.7"/>
<rect x="86.02" y="202.5" width="3.37" height="9.5" fill="#2159a3" stroke="#0c1c38" stroke-width="0.7"/>
<line x1="21" y1="136" x2="21" y2="214.8" stroke="#111" stroke-width="1.5"/>
<line x1="20.4" y1="214.8" x2="137.5" y2="214.8" stroke="#111" stroke-width="1.5"/>
<line x1="18.6" y1="211.8" x2="21" y2="211.8" stroke="#222" stroke-width="1.0"/>
<text x="16.6" y="214.6" font-size="7.8" fill="#646464" stroke="#646464" stroke-width="0.2" text-anchor="end" transform="matrix(1 0 0 1.18 0 -38.12)">0</text>
<line x1="18.6" y1="196.3" x2="21" y2="196.3" stroke="#222" stroke-width="1.0"/>
<text x="16.6" y="199.1" font-size="7.8" fill="#646464" stroke="#646464" stroke-width="0.2" text-anchor="end" transform="matrix(1 0 0 1.18 0 -35.33)">5</text>
<line x1="18.6" y1="180.8" x2="21" y2="180.8" stroke="#222" stroke-width="1.0"/>
<text x="16.6" y="183.6" font-size="7.8" fill="#646464" stroke="#646464" stroke-width="0.2" text-anchor="end" transform="matrix(1 0 0 1.18 0 -32.54)">10</text>
<line x1="18.6" y1="165.3" x2="21" y2="165.3" stroke="#222" stroke-width="1.0"/>
<text x="16.6" y="168.1" font-size="7.8" fill="#646464" stroke="#646464" stroke-width="0.2" text-anchor="end" transform="matrix(1 0 0 1.18 0 -29.75)">15</text>
<line x1="18.6" y1="149.8" x2="21" y2="149.8" stroke="#222" stroke-width="1.0"/>
<text x="16.6" y="152.6" font-size="7.8" fill="#646464" stroke="#646464" stroke-width="0.2" text-anchor="end" transform="matrix(1 0 0 1.18 0 -26.96)">20</text>
<line x1="47.3" y1="214.8" x2="47.3" y2="217.2" stroke="#222" stroke-width="1.0"/>
<text x="47.3" y="227.2" font-size="7.8" fill="#646464" stroke="#646464" stroke-width="0.2" text-anchor="middle" transform="matrix(1 0 0 1.18 0 -40.39)">−5</text>
<line x1="81" y1="214.8" x2="81" y2="217.2" stroke="#222" stroke-width="1.0"/>
<text x="81" y="227.2" font-size="7.8" fill="#646464" stroke="#646464" stroke-width="0.2" text-anchor="middle" transform="matrix(1 0 0 1.18 0 -40.39)">0</text>
<line x1="114.7" y1="214.8" x2="114.7" y2="217.2" stroke="#222" stroke-width="1.0"/>
<text x="114.7" y="227.2" font-size="7.8" fill="#646464" stroke="#646464" stroke-width="0.2" text-anchor="middle" transform="matrix(1 0 0 1.18 0 -40.39)">5</text>
<text x="5.9" y="177.7" font-size="8.3" fill="#1a1a1a" stroke="#1a1a1a" stroke-width="0.2" text-anchor="middle" transform="rotate(-90 5.9 177.7)">Number of Variants</text>
<text x="54.7" y="237.8" font-size="8.4" fill="#1a1a1a" stroke="#1a1a1a" stroke-width="0.2">Enrich2 Score<tspan font-size="5" dy="1.8">WT</tspan></text>
<rect x="72.1" y="152.3" width="4.65" height="24.2" fill="#2159a3" stroke="#0c1c38" stroke-width="0.7"/>
<rect x="76.75" y="164.4" width="4.65" height="12.1" fill="#2159a3" stroke="#0c1c38" stroke-width="0.7"/>
<rect x="81.4" y="140.2" width="4.65" height="36.3" fill="#2159a3" stroke="#0c1c38" stroke-width="0.7"/>
<line x1="71.6" y1="138.5" x2="71.6" y2="177.6" stroke="#111" stroke-width="1.2"/>
<line x1="71.1" y1="177.6" x2="133.8" y2="177.6" stroke="#111" stroke-width="1.2"/>
<line x1="70" y1="176.5" x2="71.6" y2="176.5" stroke="#333" stroke-width="0.5"/>
<text x="69.3" y="178.6" font-size="5.7" fill="#646464" stroke="#646464" stroke-width="0.2" text-anchor="end">0</text>
<line x1="70" y1="164.4" x2="71.6" y2="164.4" stroke="#333" stroke-width="0.5"/>
<text x="69.3" y="166.5" font-size="5.7" fill="#646464" stroke="#646464" stroke-width="0.2" text-anchor="end">1</text>
<line x1="70" y1="152.3" x2="71.6" y2="152.3" stroke="#333" stroke-width="0.5"/>
<text x="69.3" y="154.4" font-size="5.7" fill="#646464" stroke="#646464" stroke-width="0.2" text-anchor="end">2</text>
<line x1="70" y1="140.2" x2="71.6" y2="140.2" stroke="#333" stroke-width="0.5"/>
<text x="69.3" y="142.3" font-size="5.7" fill="#646464" stroke="#646464" stroke-width="0.2" text-anchor="end">3</text>
<line x1="74.4" y1="177.6" x2="74.4" y2="179.2" stroke="#333" stroke-width="0.5"/>
<text x="74.4" y="185.4" font-size="5.7" fill="#646464" stroke="#646464" stroke-width="0.2" text-anchor="middle">0</text>
<line x1="93" y1="177.6" x2="93" y2="179.2" stroke="#333" stroke-width="0.5"/>
<text x="93" y="185.4" font-size="5.7" fill="#646464" stroke="#646464" stroke-width="0.2" text-anchor="middle">2</text>
<line x1="111.6" y1="177.6" x2="111.6" y2="179.2" stroke="#333" stroke-width="0.5"/>
<text x="111.6" y="185.4" font-size="5.7" fill="#646464" stroke="#646464" stroke-width="0.2" text-anchor="middle">4</text>
<line x1="130.2" y1="177.6" x2="130.2" y2="179.2" stroke="#333" stroke-width="0.5"/>
<text x="130.2" y="185.4" font-size="5.7" fill="#646464" stroke="#646464" stroke-width="0.2" text-anchor="middle">6</text>
<text x="63.8" y="161.2" font-size="5.7" fill="#1a1a1a" stroke="#1a1a1a" stroke-width="0.2" text-anchor="middle" transform="rotate(-90 63.8 161.2)">Number of Variants</text>
<text x="96" y="146" font-size="5.7" font-weight="bold" fill="#111" stroke="#111" stroke-width="0.25">Score&gt;0</text>
<text x="84" y="190.8" font-size="5.7" fill="#1a1a1a" stroke="#1a1a1a" stroke-width="0.2">Enrich2 Score<tspan font-size="3.9" dy="1.3">WT</tspan></text>
<text x="142.6" y="128.7" font-size="13" font-weight="bold" fill="#111" stroke="#111" stroke-width="0.25">e</text>
<text x="154" y="131.1" font-size="8.4" font-weight="bold" fill="#a81c2e" stroke="#a81c2e" stroke-width="0.25">1,2,3 AA Deletion</text>
<rect x="168.2" y="208.4" width="3.38" height="3.4" fill="#a01b1f" stroke="#2a0808" stroke-width="0.7"/>
<rect x="171.58" y="138.2" width="3.38" height="73.6" fill="#a01b1f" stroke="#2a0808" stroke-width="0.7"/>
<rect x="174.97" y="173.3" width="3.38" height="38.5" fill="#a01b1f" stroke="#2a0808" stroke-width="0.7"/>
<rect x="178.35" y="187.8" width="3.38" height="24" fill="#a01b1f" stroke="#2a0808" stroke-width="0.7"/>
<rect x="181.74" y="192" width="3.38" height="19.8" fill="#a01b1f" stroke="#2a0808" stroke-width="0.7"/>
<rect x="185.12" y="201" width="3.38" height="10.8" fill="#a01b1f" stroke="#2a0808" stroke-width="0.7"/>
<rect x="188.51" y="204.1" width="3.38" height="7.7" fill="#a01b1f" stroke="#2a0808" stroke-width="0.7"/>
<rect x="191.89" y="205.2" width="3.38" height="6.6" fill="#a01b1f" stroke="#2a0808" stroke-width="0.7"/>
<rect x="195.28" y="208.4" width="3.38" height="3.4" fill="#a01b1f" stroke="#2a0808" stroke-width="0.7"/>
<rect x="198.66" y="204.1" width="3.38" height="7.7" fill="#a01b1f" stroke="#2a0808" stroke-width="0.7"/>
<rect x="202.05" y="206.9" width="3.38" height="4.9" fill="#a01b1f" stroke="#2a0808" stroke-width="0.7"/>
<rect x="205.44" y="207.3" width="3.38" height="4.5" fill="#a01b1f" stroke="#2a0808" stroke-width="0.7"/>
<rect x="208.82" y="208.5" width="3.38" height="3.3" fill="#a01b1f" stroke="#2a0808" stroke-width="0.7"/>
<rect x="212.2" y="209" width="3.38" height="2.8" fill="#a01b1f" stroke="#2a0808" stroke-width="0.7"/>
<rect x="215.59" y="210.5" width="3.38" height="1.3" fill="#a01b1f" stroke="#2a0808" stroke-width="0.7"/>
<rect x="218.97" y="206" width="3.38" height="5.8" fill="#a01b1f" stroke="#2a0808" stroke-width="0.7"/>
<rect x="222.36" y="209.6" width="3.38" height="2.2" fill="#a01b1f" stroke="#2a0808" stroke-width="0.7"/>
<rect x="225.74" y="210.8" width="3.38" height="1" fill="#a01b1f" stroke="#2a0808" stroke-width="0.7"/>
<rect x="229.13" y="210.6" width="3.38" height="1.2" fill="#a01b1f" stroke="#2a0808" stroke-width="0.7"/>
<rect x="232.51" y="210.8" width="3.38" height="1" fill="#a01b1f" stroke="#2a0808" stroke-width="0.7"/>
<rect x="235.9" y="210.8" width="3.38" height="1" fill="#a01b1f" stroke="#2a0808" stroke-width="0.7"/>
<rect x="239.28" y="210.8" width="3.38" height="1" fill="#a01b1f" stroke="#2a0808" stroke-width="0.7"/>
<line x1="158.6" y1="136" x2="158.6" y2="214.8" stroke="#111" stroke-width="1.5"/>
<line x1="158" y1="214.8" x2="271.5" y2="214.8" stroke="#111" stroke-width="1.5"/>
<line x1="156.2" y1="212" x2="158.6" y2="212" stroke="#222" stroke-width="1.0"/>
<text x="154.2" y="214.8" font-size="7.8" fill="#646464" stroke="#646464" stroke-width="0.2" text-anchor="end" transform="matrix(1 0 0 1.18 0 -38.16)">0</text>
<line x1="156.2" y1="191.3" x2="158.6" y2="191.3" stroke="#222" stroke-width="1.0"/>
<text x="154.2" y="194.1" font-size="7.8" fill="#646464" stroke="#646464" stroke-width="0.2" text-anchor="end" transform="matrix(1 0 0 1.18 0 -34.43)">25</text>
<line x1="156.2" y1="170.6" x2="158.6" y2="170.6" stroke="#222" stroke-width="1.0"/>
<text x="154.2" y="173.4" font-size="7.8" fill="#646464" stroke="#646464" stroke-width="0.2" text-anchor="end" transform="matrix(1 0 0 1.18 0 -30.71)">50</text>
<line x1="156.2" y1="149.9" x2="158.6" y2="149.9" stroke="#222" stroke-width="1.0"/>
<text x="154.2" y="152.7" font-size="7.8" fill="#646464" stroke="#646464" stroke-width="0.2" text-anchor="end" transform="matrix(1 0 0 1.18 0 -26.98)">75</text>
<line x1="183.45" y1="214.8" x2="183.45" y2="217.2" stroke="#222" stroke-width="1.0"/>
<text x="183.45" y="227.2" font-size="7.8" fill="#646464" stroke="#646464" stroke-width="0.2" text-anchor="middle" transform="matrix(1 0 0 1.18 0 -40.39)">−5</text>
<line x1="217.3" y1="214.8" x2="217.3" y2="217.2" stroke="#222" stroke-width="1.0"/>
<text x="217.3" y="227.2" font-size="7.8" fill="#646464" stroke="#646464" stroke-width="0.2" text-anchor="middle" transform="matrix(1 0 0 1.18 0 -40.39)">0</text>
<line x1="251.15" y1="214.8" x2="251.15" y2="217.2" stroke="#222" stroke-width="1.0"/>
<text x="251.15" y="227.2" font-size="7.8" fill="#646464" stroke="#646464" stroke-width="0.2" text-anchor="middle" transform="matrix(1 0 0 1.18 0 -40.39)">5</text>
<text x="190.8" y="237.8" font-size="8.4" fill="#1a1a1a" stroke="#1a1a1a" stroke-width="0.2">Enrich2 Score<tspan font-size="5" dy="1.8">WT</tspan></text>
<rect x="209.7" y="169" width="4.65" height="6" fill="#a01b1f" stroke="#2a0808" stroke-width="0.7"/>
<rect x="214.35" y="139" width="4.65" height="36" fill="#a01b1f" stroke="#2a0808" stroke-width="0.7"/>
<rect x="219" y="163" width="4.65" height="12" fill="#a01b1f" stroke="#2a0808" stroke-width="0.7"/>
<rect x="228.3" y="169" width="4.65" height="6" fill="#a01b1f" stroke="#2a0808" stroke-width="0.7"/>
<rect x="242.25" y="169" width="4.65" height="6" fill="#a01b1f" stroke="#2a0808" stroke-width="0.7"/>
<line x1="207.8" y1="137" x2="207.8" y2="176.5" stroke="#111" stroke-width="1.2"/>
<line x1="207.3" y1="176.5" x2="270" y2="176.5" stroke="#111" stroke-width="1.2"/>
<line x1="206.2" y1="175" x2="207.8" y2="175" stroke="#333" stroke-width="0.5"/>
<text x="205.5" y="177.1" font-size="5.7" fill="#646464" stroke="#646464" stroke-width="0.2" text-anchor="end">0</text>
<line x1="206.2" y1="163" x2="207.8" y2="163" stroke="#333" stroke-width="0.5"/>
<text x="205.5" y="165.1" font-size="5.7" fill="#646464" stroke="#646464" stroke-width="0.2" text-anchor="end">2</text>
<line x1="206.2" y1="151" x2="207.8" y2="151" stroke="#333" stroke-width="0.5"/>
<text x="205.5" y="153.1" font-size="5.7" fill="#646464" stroke="#646464" stroke-width="0.2" text-anchor="end">4</text>
<line x1="206.2" y1="139" x2="207.8" y2="139" stroke="#333" stroke-width="0.5"/>
<text x="205.5" y="141.1" font-size="5.7" fill="#646464" stroke="#646464" stroke-width="0.2" text-anchor="end">6</text>
<line x1="212" y1="176.5" x2="212" y2="178.1" stroke="#333" stroke-width="0.5"/>
<text x="212" y="184.3" font-size="5.7" fill="#646464" stroke="#646464" stroke-width="0.2" text-anchor="middle">0</text>
<line x1="230.6" y1="176.5" x2="230.6" y2="178.1" stroke="#333" stroke-width="0.5"/>
<text x="230.6" y="184.3" font-size="5.7" fill="#646464" stroke="#646464" stroke-width="0.2" text-anchor="middle">2</text>
<line x1="249.2" y1="176.5" x2="249.2" y2="178.1" stroke="#333" stroke-width="0.5"/>
<text x="249.2" y="184.3" font-size="5.7" fill="#646464" stroke="#646464" stroke-width="0.2" text-anchor="middle">4</text>
<line x1="267.8" y1="176.5" x2="267.8" y2="178.1" stroke="#333" stroke-width="0.5"/>
<text x="267.8" y="184.3" font-size="5.7" fill="#646464" stroke="#646464" stroke-width="0.2" text-anchor="middle">6</text>
<text x="200.1" y="159" font-size="5.7" fill="#1a1a1a" stroke="#1a1a1a" stroke-width="0.2" text-anchor="middle" transform="rotate(-90 200.1 159)">Number of Variants</text>
<text x="230" y="142" font-size="5.7" font-weight="bold" fill="#111" stroke="#111" stroke-width="0.25">Score&gt;0</text>
<text x="220" y="189.2" font-size="5.7" fill="#1a1a1a" stroke="#1a1a1a" stroke-width="0.2">Enrich2 Score<tspan font-size="3.9" dy="1.3">WT</tspan></text>
<text x="277.6" y="128.7" font-size="13" font-weight="bold" fill="#111" stroke="#111" stroke-width="0.25">f</text>
<text x="292.3" y="131.1" font-size="8.4" font-weight="bold" fill="#358039" stroke="#358039" stroke-width="0.25">AA Substitution</text>
<rect x="299.4" y="210.8" width="3.2" height="1" fill="#3f6e2e" stroke="#0f200b" stroke-width="0.7"/>
<rect x="302.6" y="210.8" width="3.2" height="1" fill="#3f6e2e" stroke="#0f200b" stroke-width="0.7"/>
<rect x="305.8" y="208.8" width="3.2" height="3" fill="#3f6e2e" stroke="#0f200b" stroke-width="0.7"/>
<rect x="309" y="197.1" width="3.2" height="14.7" fill="#3f6e2e" stroke="#0f200b" stroke-width="0.7"/>
<rect x="312.2" y="175.9" width="3.2" height="35.9" fill="#3f6e2e" stroke="#0f200b" stroke-width="0.7"/>
<rect x="315.4" y="163.1" width="3.2" height="48.7" fill="#3f6e2e" stroke="#0f200b" stroke-width="0.7"/>
<rect x="318.6" y="168.6" width="3.2" height="43.2" fill="#3f6e2e" stroke="#0f200b" stroke-width="0.7"/>
<rect x="321.8" y="175" width="3.2" height="36.8" fill="#3f6e2e" stroke="#0f200b" stroke-width="0.7"/>
<rect x="325" y="179.7" width="3.2" height="32.1" fill="#3f6e2e" stroke="#0f200b" stroke-width="0.7"/>
<rect x="328.2" y="173.3" width="3.2" height="38.5" fill="#3f6e2e" stroke="#0f200b" stroke-width="0.7"/>
<rect x="331.4" y="182.2" width="3.2" height="29.6" fill="#3f6e2e" stroke="#0f200b" stroke-width="0.7"/>
<rect x="334.6" y="171.6" width="3.2" height="40.2" fill="#3f6e2e" stroke="#0f200b" stroke-width="0.7"/>
<rect x="337.8" y="154.6" width="3.2" height="57.2" fill="#3f6e2e" stroke="#0f200b" stroke-width="0.7"/>
<rect x="341" y="150.3" width="3.2" height="61.5" fill="#3f6e2e" stroke="#0f200b" stroke-width="0.7"/>
<rect x="344.2" y="165.2" width="3.2" height="46.6" fill="#3f6e2e" stroke="#0f200b" stroke-width="0.7"/>
<rect x="347.4" y="156.3" width="3.2" height="55.5" fill="#3f6e2e" stroke="#0f200b" stroke-width="0.7"/>
<rect x="350.6" y="161" width="3.2" height="50.8" fill="#3f6e2e" stroke="#0f200b" stroke-width="0.7"/>
<rect x="353.8" y="139.3" width="3.2" height="72.5" fill="#3f6e2e" stroke="#0f200b" stroke-width="0.7"/>
<rect x="357" y="154.6" width="3.2" height="57.2" fill="#3f6e2e" stroke="#0f200b" stroke-width="0.7"/>
<rect x="360.2" y="194.6" width="3.2" height="17.2" fill="#3f6e2e" stroke="#0f200b" stroke-width="0.7"/>
<rect x="363.4" y="204.1" width="3.2" height="7.7" fill="#3f6e2e" stroke="#0f200b" stroke-width="0.7"/>
<rect x="366.6" y="200.5" width="3.2" height="11.3" fill="#3f6e2e" stroke="#0f200b" stroke-width="0.7"/>
<rect x="369.8" y="208.4" width="3.2" height="3.4" fill="#3f6e2e" stroke="#0f200b" stroke-width="0.7"/>
<rect x="373" y="210.5" width="3.2" height="1.3" fill="#3f6e2e" stroke="#0f200b" stroke-width="0.7"/>
<line x1="293.3" y1="136" x2="293.3" y2="214.8" stroke="#111" stroke-width="1.5"/>
<line x1="292.7" y1="214.8" x2="400" y2="214.8" stroke="#111" stroke-width="1.5"/>
<line x1="290.9" y1="212.2" x2="293.3" y2="212.2" stroke="#222" stroke-width="1.0"/>
<text x="288.9" y="215" font-size="7.8" fill="#646464" stroke="#646464" stroke-width="0.2" text-anchor="end" transform="matrix(1 0 0 1.18 0 -38.19)">0</text>
<line x1="290.9" y1="188.4" x2="293.3" y2="188.4" stroke="#222" stroke-width="1.0"/>
<text x="288.9" y="191.2" font-size="7.8" fill="#646464" stroke="#646464" stroke-width="0.2" text-anchor="end" transform="matrix(1 0 0 1.18 0 -33.91)">50</text>
<line x1="290.9" y1="164.6" x2="293.3" y2="164.6" stroke="#222" stroke-width="1.0"/>
<text x="288.9" y="167.4" font-size="7.8" fill="#646464" stroke="#646464" stroke-width="0.2" text-anchor="end" transform="matrix(1 0 0 1.18 0 -29.63)">100</text>
<line x1="290.9" y1="140.8" x2="293.3" y2="140.8" stroke="#222" stroke-width="1.0"/>
<text x="288.9" y="143.6" font-size="7.8" fill="#646464" stroke="#646464" stroke-width="0.2" text-anchor="end" transform="matrix(1 0 0 1.18 0 -25.34)">150</text>
<line x1="317.6" y1="214.8" x2="317.6" y2="217.2" stroke="#222" stroke-width="1.0"/>
<text x="317.6" y="227.2" font-size="7.8" fill="#646464" stroke="#646464" stroke-width="0.2" text-anchor="middle" transform="matrix(1 0 0 1.18 0 -40.39)">−5</text>
<line x1="349.6" y1="214.8" x2="349.6" y2="217.2" stroke="#222" stroke-width="1.0"/>
<text x="349.6" y="227.2" font-size="7.8" fill="#646464" stroke="#646464" stroke-width="0.2" text-anchor="middle" transform="matrix(1 0 0 1.18 0 -40.39)">0</text>
<line x1="381.6" y1="214.8" x2="381.6" y2="217.2" stroke="#222" stroke-width="1.0"/>
<text x="381.6" y="227.2" font-size="7.8" fill="#646464" stroke="#646464" stroke-width="0.2" text-anchor="middle" transform="matrix(1 0 0 1.18 0 -40.39)">5</text>
<text x="322.1" y="237.6" font-size="8.4" fill="#1a1a1a" stroke="#1a1a1a" stroke-width="0.2">Enrich2 Score<tspan font-size="5" dy="1.8">WT</tspan></text>
<rect x="383.5" y="159.3" width="4.3" height="14.2" fill="#3f6e2e" stroke="#0f200b" stroke-width="0.7"/>
<rect x="387.8" y="148.6" width="4.3" height="24.9" fill="#3f6e2e" stroke="#0f200b" stroke-width="0.7"/>
<rect x="392.1" y="137.5" width="4.3" height="36" fill="#3f6e2e" stroke="#0f200b" stroke-width="0.7"/>
<rect x="396.4" y="145.2" width="4.3" height="28.3" fill="#3f6e2e" stroke="#0f200b" stroke-width="0.7"/>
<rect x="400.7" y="165.1" width="4.3" height="8.4" fill="#3f6e2e" stroke="#0f200b" stroke-width="0.7"/>
<rect x="405" y="170.6" width="4.3" height="2.9" fill="#3f6e2e" stroke="#0f200b" stroke-width="0.7"/>
<rect x="409.3" y="168.2" width="4.3" height="5.3" fill="#3f6e2e" stroke="#0f200b" stroke-width="0.7"/>
<rect x="413.6" y="172.3" width="4.3" height="1.2" fill="#3f6e2e" stroke="#0f200b" stroke-width="0.7"/>
<rect x="417.9" y="172.8" width="4.3" height="0.7" fill="#3f6e2e" stroke="#0f200b" stroke-width="0.7"/>
<line x1="383.2" y1="136.5" x2="383.2" y2="173.9" stroke="#111" stroke-width="1.2"/>
<line x1="382.7" y1="173.9" x2="439.9" y2="173.9" stroke="#111" stroke-width="1.2"/>
<line x1="381.6" y1="173.5" x2="383.2" y2="173.5" stroke="#333" stroke-width="0.5"/>
<text x="380.9" y="175.6" font-size="5.7" fill="#646464" stroke="#646464" stroke-width="0.2" text-anchor="end">0</text>
<line x1="381.6" y1="161.5" x2="383.2" y2="161.5" stroke="#333" stroke-width="0.5"/>
<text x="380.9" y="163.6" font-size="5.7" fill="#646464" stroke="#646464" stroke-width="0.2" text-anchor="end">50</text>
<line x1="381.6" y1="149.5" x2="383.2" y2="149.5" stroke="#333" stroke-width="0.5"/>
<text x="380.9" y="151.6" font-size="5.7" fill="#646464" stroke="#646464" stroke-width="0.2" text-anchor="end">100</text>
<line x1="381.6" y1="137.5" x2="383.2" y2="137.5" stroke="#333" stroke-width="0.5"/>
<text x="380.9" y="139.6" font-size="5.7" fill="#646464" stroke="#646464" stroke-width="0.2" text-anchor="end">150</text>
<line x1="385.6" y1="173.9" x2="385.6" y2="175.5" stroke="#333" stroke-width="0.5"/>
<text x="385.6" y="181.7" font-size="5.7" fill="#646464" stroke="#646464" stroke-width="0.2" text-anchor="middle">0</text>
<line x1="402.8" y1="173.9" x2="402.8" y2="175.5" stroke="#333" stroke-width="0.5"/>
<text x="402.8" y="181.7" font-size="5.7" fill="#646464" stroke="#646464" stroke-width="0.2" text-anchor="middle">2</text>
<line x1="420" y1="173.9" x2="420" y2="175.5" stroke="#333" stroke-width="0.5"/>
<text x="420" y="181.7" font-size="5.7" fill="#646464" stroke="#646464" stroke-width="0.2" text-anchor="middle">4</text>
<line x1="437.2" y1="173.9" x2="437.2" y2="175.5" stroke="#333" stroke-width="0.5"/>
<text x="437.2" y="181.7" font-size="5.7" fill="#646464" stroke="#646464" stroke-width="0.2" text-anchor="middle">6</text>
<text x="371.3" y="158.1" font-size="5.7" fill="#1a1a1a" stroke="#1a1a1a" stroke-width="0.2" text-anchor="middle" transform="rotate(-90 371.3 158.1)">Number of Variants</text>
<text x="405" y="140.6" font-size="5.7" font-weight="bold" fill="#111" stroke="#111" stroke-width="0.25">Score&gt;0</text>
<text x="392" y="186.2" font-size="5.7" fill="#1a1a1a" stroke="#1a1a1a" stroke-width="0.2">Enrich2 Score<tspan font-size="3.9" dy="1.3">WT</tspan></text>
<text x="440.8" y="129" font-size="13" font-weight="bold" fill="#111" stroke="#111" stroke-width="0.25">g</text>
<text x="564.6" y="128.8" font-size="13" font-weight="bold" fill="#111" stroke="#111" stroke-width="0.25">h</text>
<rect x="469.71" y="215" width="94.45" height="4.6" fill="#858585"/>
<circle cx="470.91" cy="218.4" r="1.3" fill="#858585"/>
<circle cx="470.91" cy="217" r="1.3" fill="#858585"/>
<circle cx="470.91" cy="215.6" r="1.3" fill="#858585"/>
<circle cx="473.54" cy="218.4" r="1.3" fill="#858585"/>
<circle cx="473.54" cy="217" r="1.3" fill="#858585"/>
<circle cx="473.54" cy="215.6" r="1.3" fill="#858585"/>
<circle cx="473.56" cy="213.6" r="1.2" fill="#858585"/>
<circle cx="476.17" cy="218.4" r="1.3" fill="#858585"/>
<circle cx="476.17" cy="217" r="1.3" fill="#858585"/>
<circle cx="476.17" cy="215.6" r="1.3" fill="#858585"/>
<circle cx="476.17" cy="207.2" r="1.2" fill="#858585"/>
<circle cx="476.09" cy="202.4" r="1.2" fill="#858585"/>
<circle cx="476.29" cy="200.8" r="1.2" fill="#858585"/>
<circle cx="476.36" cy="197.6" r="1.2" fill="#858585"/>
<circle cx="476.03" cy="192.8" r="1.2" fill="#858585"/>
<circle cx="476.18" cy="191.2" r="1.2" fill="#858585"/>
<circle cx="476.05" cy="189.6" r="1.2" fill="#858585"/>
<circle cx="475.98" cy="188" r="1.2" fill="#858585"/>
<circle cx="476.15" cy="186.4" r="1.2" fill="#858585"/>
<circle cx="476.18" cy="184.8" r="1.2" fill="#858585"/>
<circle cx="476.17" cy="183.2" r="1.2" fill="#858585"/>
<circle cx="476.15" cy="181.6" r="1.2" fill="#858585"/>
<circle cx="476.37" cy="180" r="1.2" fill="#858585"/>
<circle cx="476.25" cy="176.8" r="1.2" fill="#858585"/>
<circle cx="476.06" cy="175.2" r="1.2" fill="#858585"/>
<circle cx="478.8" cy="218.4" r="1.3" fill="#858585"/>
<circle cx="478.8" cy="217" r="1.3" fill="#858585"/>
<circle cx="478.8" cy="215.6" r="1.3" fill="#858585"/>
<circle cx="478.63" cy="213.6" r="1.2" fill="#858585"/>
<circle cx="478.94" cy="210.4" r="1.2" fill="#858585"/>
<circle cx="478.98" cy="208.8" r="1.2" fill="#858585"/>
<circle cx="481.43" cy="218.4" r="1.3" fill="#858585"/>
<circle cx="481.43" cy="217" r="1.3" fill="#858585"/>
<circle cx="481.43" cy="215.6" r="1.3" fill="#858585"/>
<circle cx="481.31" cy="213.6" r="1.2" fill="#858585"/>
<circle cx="481.62" cy="210.4" r="1.2" fill="#858585"/>
<circle cx="481.26" cy="208.8" r="1.2" fill="#858585"/>
<circle cx="481.26" cy="204" r="1.2" fill="#858585"/>
<circle cx="481.62" cy="202.4" r="1.2" fill="#858585"/>
<circle cx="484.06" cy="218.4" r="1.3" fill="#858585"/>
<circle cx="484.06" cy="217" r="1.3" fill="#858585"/>
<circle cx="484.06" cy="215.6" r="1.3" fill="#858585"/>
<circle cx="483.96" cy="212" r="1.2" fill="#858585"/>
<circle cx="483.88" cy="210.4" r="1.2" fill="#858585"/>
<circle cx="484.08" cy="207.2" r="1.2" fill="#858585"/>
<circle cx="483.94" cy="205.6" r="1.2" fill="#858585"/>
<circle cx="486.69" cy="218.4" r="1.3" fill="#858585"/>
<circle cx="486.69" cy="217" r="1.3" fill="#858585"/>
<circle cx="486.69" cy="215.6" r="1.3" fill="#858585"/>
<circle cx="486.75" cy="213.6" r="1.2" fill="#858585"/>
<circle cx="486.66" cy="212" r="1.2" fill="#858585"/>
<circle cx="486.6" cy="210.4" r="1.2" fill="#858585"/>
<circle cx="486.84" cy="205.6" r="1.2" fill="#858585"/>
<circle cx="489.32" cy="218.4" r="1.3" fill="#858585"/>
<circle cx="489.32" cy="217" r="1.3" fill="#858585"/>
<circle cx="489.32" cy="215.6" r="1.3" fill="#858585"/>
<circle cx="489.28" cy="213.6" r="1.2" fill="#858585"/>
<circle cx="489.16" cy="210.4" r="1.2" fill="#858585"/>
<circle cx="489.22" cy="207.2" r="1.2" fill="#858585"/>
<circle cx="491.95" cy="218.4" r="1.3" fill="#858585"/>
<circle cx="491.95" cy="217" r="1.3" fill="#858585"/>
<circle cx="491.95" cy="215.6" r="1.3" fill="#858585"/>
<circle cx="491.87" cy="213.6" r="1.2" fill="#858585"/>
<circle cx="491.79" cy="212" r="1.2" fill="#858585"/>
<circle cx="491.85" cy="210.4" r="1.2" fill="#858585"/>
<circle cx="491.93" cy="207.2" r="1.2" fill="#858585"/>
<circle cx="491.98" cy="204" r="1.2" fill="#858585"/>
<circle cx="494.58" cy="218.4" r="1.3" fill="#858585"/>
<circle cx="494.58" cy="217" r="1.3" fill="#858585"/>
<circle cx="494.58" cy="215.6" r="1.3" fill="#858585"/>
<circle cx="494.44" cy="212" r="1.2" fill="#858585"/>
<circle cx="494.46" cy="207.2" r="1.2" fill="#858585"/>
<circle cx="497.21" cy="218.4" r="1.3" fill="#858585"/>
<circle cx="497.21" cy="217" r="1.3" fill="#858585"/>
<circle cx="497.21" cy="215.6" r="1.3" fill="#858585"/>
<circle cx="497.39" cy="213.6" r="1.2" fill="#858585"/>
<circle cx="497.39" cy="212" r="1.2" fill="#858585"/>
<circle cx="497.18" cy="208.8" r="1.2" fill="#858585"/>
<circle cx="497.03" cy="207.2" r="1.2" fill="#858585"/>
<circle cx="497.29" cy="204" r="1.2" fill="#858585"/>
<circle cx="499.84" cy="218.4" r="1.3" fill="#858585"/>
<circle cx="499.84" cy="217" r="1.3" fill="#858585"/>
<circle cx="499.84" cy="215.6" r="1.3" fill="#858585"/>
<circle cx="499.97" cy="213.6" r="1.2" fill="#858585"/>
<circle cx="499.76" cy="212" r="1.2" fill="#858585"/>
<circle cx="499.93" cy="210.4" r="1.2" fill="#858585"/>
<circle cx="499.73" cy="208.8" r="1.2" fill="#858585"/>
<circle cx="499.98" cy="207.2" r="1.2" fill="#858585"/>
<circle cx="500.01" cy="204" r="1.2" fill="#858585"/>
<circle cx="499.65" cy="202.4" r="1.2" fill="#858585"/>
<circle cx="499.82" cy="200.8" r="1.2" fill="#858585"/>
<circle cx="499.71" cy="199.2" r="1.2" fill="#858585"/>
<circle cx="502.47" cy="218.4" r="1.3" fill="#858585"/>
<circle cx="502.47" cy="217" r="1.3" fill="#858585"/>
<circle cx="502.47" cy="215.6" r="1.3" fill="#858585"/>
<circle cx="502.5" cy="213.6" r="1.2" fill="#858585"/>
<circle cx="502.41" cy="212" r="1.2" fill="#858585"/>
<circle cx="502.55" cy="207.2" r="1.2" fill="#858585"/>
<circle cx="502.33" cy="205.6" r="1.2" fill="#858585"/>
<circle cx="502.28" cy="204" r="1.2" fill="#858585"/>
<circle cx="502.52" cy="197.6" r="1.2" fill="#858585"/>
<circle cx="502.56" cy="196" r="1.2" fill="#858585"/>
<circle cx="502.67" cy="194.4" r="1.2" fill="#858585"/>
<circle cx="505.1" cy="218.4" r="1.3" fill="#858585"/>
<circle cx="505.1" cy="217" r="1.3" fill="#858585"/>
<circle cx="505.1" cy="215.6" r="1.3" fill="#858585"/>
<circle cx="505.12" cy="213.6" r="1.2" fill="#858585"/>
<circle cx="505.26" cy="212" r="1.2" fill="#858585"/>
<circle cx="505.18" cy="210.4" r="1.2" fill="#858585"/>
<circle cx="505.27" cy="208.8" r="1.2" fill="#858585"/>
<circle cx="505.17" cy="207.2" r="1.2" fill="#858585"/>
<circle cx="505.22" cy="202.4" r="1.2" fill="#858585"/>
<circle cx="505.15" cy="199.2" r="1.2" fill="#858585"/>
<circle cx="505.13" cy="197.6" r="1.2" fill="#858585"/>
<circle cx="507.73" cy="218.4" r="1.3" fill="#858585"/>
<circle cx="507.73" cy="217" r="1.3" fill="#858585"/>
<circle cx="507.73" cy="215.6" r="1.3" fill="#858585"/>
<circle cx="507.79" cy="213.6" r="1.2" fill="#858585"/>
<circle cx="507.69" cy="208.8" r="1.2" fill="#858585"/>
<circle cx="507.76" cy="207.2" r="1.2" fill="#858585"/>
<circle cx="507.87" cy="205.6" r="1.2" fill="#858585"/>
<circle cx="507.83" cy="204" r="1.2" fill="#858585"/>
<circle cx="507.77" cy="202.4" r="1.2" fill="#858585"/>
<circle cx="507.62" cy="200.8" r="1.2" fill="#858585"/>
<circle cx="507.78" cy="197.6" r="1.2" fill="#858585"/>
<circle cx="510.36" cy="218.4" r="1.3" fill="#858585"/>
<circle cx="510.36" cy="217" r="1.3" fill="#858585"/>
<circle cx="510.36" cy="215.6" r="1.3" fill="#858585"/>
<circle cx="510.16" cy="212" r="1.2" fill="#858585"/>
<circle cx="510.43" cy="210.4" r="1.2" fill="#858585"/>
<circle cx="510.23" cy="208.8" r="1.2" fill="#858585"/>
<circle cx="510.52" cy="204" r="1.2" fill="#858585"/>
<circle cx="510.43" cy="202.4" r="1.2" fill="#858585"/>
<circle cx="512.99" cy="218.4" r="1.3" fill="#858585"/>
<circle cx="512.99" cy="217" r="1.3" fill="#858585"/>
<circle cx="512.99" cy="215.6" r="1.3" fill="#858585"/>
<circle cx="512.96" cy="213.6" r="1.2" fill="#858585"/>
<circle cx="513.02" cy="207.2" r="1.2" fill="#858585"/>
<circle cx="512.84" cy="205.6" r="1.2" fill="#858585"/>
<circle cx="513.12" cy="204" r="1.2" fill="#858585"/>
<circle cx="515.62" cy="218.4" r="1.3" fill="#858585"/>
<circle cx="515.62" cy="217" r="1.3" fill="#858585"/>
<circle cx="515.62" cy="215.6" r="1.3" fill="#858585"/>
<circle cx="515.49" cy="212" r="1.2" fill="#858585"/>
<circle cx="515.53" cy="210.4" r="1.2" fill="#858585"/>
<circle cx="515.59" cy="208.8" r="1.2" fill="#858585"/>
<circle cx="515.62" cy="207.2" r="1.2" fill="#858585"/>
<circle cx="515.76" cy="205.6" r="1.2" fill="#858585"/>
<circle cx="518.25" cy="218.4" r="1.3" fill="#858585"/>
<circle cx="518.25" cy="217" r="1.3" fill="#858585"/>
<circle cx="518.25" cy="215.6" r="1.3" fill="#858585"/>
<circle cx="518.08" cy="212" r="1.2" fill="#858585"/>
<circle cx="518.4" cy="210.4" r="1.2" fill="#858585"/>
<circle cx="518.33" cy="208.8" r="1.2" fill="#858585"/>
<circle cx="518.17" cy="207.2" r="1.2" fill="#858585"/>
<circle cx="520.88" cy="218.4" r="1.3" fill="#858585"/>
<circle cx="520.88" cy="217" r="1.3" fill="#858585"/>
<circle cx="520.88" cy="215.6" r="1.3" fill="#858585"/>
<circle cx="520.73" cy="213.6" r="1.2" fill="#858585"/>
<circle cx="520.69" cy="212" r="1.2" fill="#858585"/>
<circle cx="520.74" cy="208.8" r="1.2" fill="#858585"/>
<circle cx="523.51" cy="218.4" r="1.3" fill="#858585"/>
<circle cx="523.51" cy="217" r="1.3" fill="#858585"/>
<circle cx="523.51" cy="215.6" r="1.3" fill="#858585"/>
<circle cx="523.56" cy="213.6" r="1.2" fill="#858585"/>
<circle cx="523.56" cy="212" r="1.2" fill="#858585"/>
<circle cx="523.63" cy="210.4" r="1.2" fill="#858585"/>
<circle cx="526.14" cy="218.4" r="1.3" fill="#858585"/>
<circle cx="526.14" cy="217" r="1.3" fill="#858585"/>
<circle cx="526.14" cy="215.6" r="1.3" fill="#858585"/>
<circle cx="526.02" cy="212" r="1.2" fill="#858585"/>
<circle cx="526.01" cy="210.4" r="1.2" fill="#858585"/>
<circle cx="526.13" cy="208.8" r="1.2" fill="#858585"/>
<circle cx="526.05" cy="205.6" r="1.2" fill="#858585"/>
<circle cx="526.22" cy="204" r="1.2" fill="#858585"/>
<circle cx="528.77" cy="218.4" r="1.3" fill="#858585"/>
<circle cx="528.77" cy="217" r="1.3" fill="#858585"/>
<circle cx="528.77" cy="215.6" r="1.3" fill="#858585"/>
<circle cx="528.89" cy="213.6" r="1.2" fill="#858585"/>
<circle cx="528.94" cy="210.4" r="1.2" fill="#858585"/>
<circle cx="531.4" cy="218.4" r="1.3" fill="#858585"/>
<circle cx="531.4" cy="217" r="1.3" fill="#858585"/>
<circle cx="531.4" cy="215.6" r="1.3" fill="#858585"/>
<circle cx="531.25" cy="213.6" r="1.2" fill="#858585"/>
<circle cx="531.45" cy="212" r="1.2" fill="#858585"/>
<circle cx="534.03" cy="218.4" r="1.3" fill="#858585"/>
<circle cx="534.03" cy="217" r="1.3" fill="#858585"/>
<circle cx="534.03" cy="215.6" r="1.3" fill="#858585"/>
<circle cx="534.06" cy="212" r="1.2" fill="#858585"/>
<circle cx="536.66" cy="218.4" r="1.3" fill="#858585"/>
<circle cx="536.66" cy="217" r="1.3" fill="#858585"/>
<circle cx="536.66" cy="215.6" r="1.3" fill="#858585"/>
<circle cx="539.29" cy="218.4" r="1.3" fill="#858585"/>
<circle cx="539.29" cy="217" r="1.3" fill="#858585"/>
<circle cx="539.29" cy="215.6" r="1.3" fill="#858585"/>
<circle cx="539.35" cy="213.6" r="1.2" fill="#858585"/>
<circle cx="539.38" cy="212" r="1.2" fill="#858585"/>
<circle cx="541.92" cy="218.4" r="1.3" fill="#858585"/>
<circle cx="541.92" cy="217" r="1.3" fill="#858585"/>
<circle cx="541.92" cy="215.6" r="1.3" fill="#858585"/>
<circle cx="542.01" cy="212" r="1.2" fill="#858585"/>
<circle cx="542.08" cy="210.4" r="1.2" fill="#858585"/>
<circle cx="544.55" cy="218.4" r="1.3" fill="#858585"/>
<circle cx="544.55" cy="217" r="1.3" fill="#858585"/>
<circle cx="544.55" cy="215.6" r="1.3" fill="#858585"/>
<circle cx="544.71" cy="207.2" r="1.2" fill="#858585"/>
<circle cx="544.38" cy="204" r="1.2" fill="#858585"/>
<circle cx="544.57" cy="202.4" r="1.2" fill="#858585"/>
<circle cx="544.67" cy="197.6" r="1.2" fill="#858585"/>
<circle cx="544.67" cy="196" r="1.2" fill="#858585"/>
<circle cx="544.48" cy="194.4" r="1.2" fill="#858585"/>
<circle cx="544.41" cy="192.8" r="1.2" fill="#858585"/>
<circle cx="544.56" cy="191.2" r="1.2" fill="#858585"/>
<circle cx="544.69" cy="189.6" r="1.2" fill="#858585"/>
<circle cx="544.73" cy="188" r="1.2" fill="#858585"/>
<circle cx="544.73" cy="186.4" r="1.2" fill="#858585"/>
<circle cx="544.44" cy="184.8" r="1.2" fill="#858585"/>
<circle cx="544.47" cy="183.2" r="1.2" fill="#858585"/>
<circle cx="544.61" cy="181.6" r="1.2" fill="#858585"/>
<circle cx="544.69" cy="180" r="1.2" fill="#858585"/>
<circle cx="544.47" cy="178.4" r="1.2" fill="#858585"/>
<circle cx="547.18" cy="218.4" r="1.3" fill="#858585"/>
<circle cx="547.18" cy="217" r="1.3" fill="#858585"/>
<circle cx="547.18" cy="215.6" r="1.3" fill="#858585"/>
<circle cx="547.32" cy="213.6" r="1.2" fill="#858585"/>
<circle cx="549.81" cy="218.4" r="1.3" fill="#858585"/>
<circle cx="549.81" cy="217" r="1.3" fill="#858585"/>
<circle cx="549.81" cy="215.6" r="1.3" fill="#858585"/>
<circle cx="549.95" cy="213.6" r="1.2" fill="#858585"/>
<circle cx="552.44" cy="218.4" r="1.3" fill="#858585"/>
<circle cx="552.44" cy="217" r="1.3" fill="#858585"/>
<circle cx="552.44" cy="215.6" r="1.3" fill="#858585"/>
<circle cx="552.47" cy="213.6" r="1.2" fill="#858585"/>
<circle cx="552.45" cy="212" r="1.2" fill="#858585"/>
<circle cx="552.48" cy="210.4" r="1.2" fill="#858585"/>
<circle cx="555.07" cy="218.4" r="1.3" fill="#858585"/>
<circle cx="555.07" cy="217" r="1.3" fill="#858585"/>
<circle cx="555.07" cy="215.6" r="1.3" fill="#858585"/>
<circle cx="555.26" cy="213.6" r="1.2" fill="#858585"/>
<circle cx="557.7" cy="218.4" r="1.3" fill="#858585"/>
<circle cx="557.7" cy="217" r="1.3" fill="#858585"/>
<circle cx="557.7" cy="215.6" r="1.3" fill="#858585"/>
<circle cx="557.66" cy="213.6" r="1.2" fill="#858585"/>
<circle cx="560.33" cy="218.4" r="1.3" fill="#858585"/>
<circle cx="560.33" cy="217" r="1.3" fill="#858585"/>
<circle cx="560.33" cy="215.6" r="1.3" fill="#858585"/>
<circle cx="562.96" cy="218.4" r="1.3" fill="#858585"/>
<circle cx="562.96" cy="217" r="1.3" fill="#858585"/>
<circle cx="562.96" cy="215.6" r="1.3" fill="#858585"/>
<circle cx="562.96" cy="213.6" r="1.2" fill="#858585"/>
<circle cx="471" cy="208.5" r="1.2" fill="#858585"/>
<circle cx="476.2" cy="175.6" r="1.2" fill="#858585"/>
<circle cx="476.2" cy="180" r="1.2" fill="#858585"/>
<circle cx="476.2" cy="183.4" r="1.2" fill="#858585"/>
<circle cx="476.2" cy="185.2" r="1.2" fill="#858585"/>
<circle cx="476.2" cy="187.7" r="1.2" fill="#858585"/>
<circle cx="476.2" cy="194.6" r="1.2" fill="#858585"/>
<circle cx="484" cy="182.5" r="1.2" fill="#858585"/>
<circle cx="484" cy="186.8" r="1.2" fill="#858585"/>
<circle cx="489.3" cy="180" r="1.2" fill="#858585"/>
<circle cx="489.3" cy="194.4" r="1.2" fill="#858585"/>
<circle cx="494.6" cy="200" r="1.2" fill="#858585"/>
<circle cx="494.6" cy="194.5" r="1.2" fill="#858585"/>
<circle cx="507.8" cy="181.3" r="1.2" fill="#858585"/>
<circle cx="507.8" cy="184.4" r="1.2" fill="#858585"/>
<circle cx="507.8" cy="178.8" r="1.2" fill="#858585"/>
<circle cx="510.4" cy="180.6" r="1.2" fill="#858585"/>
<circle cx="520.5" cy="179" r="1.2" fill="#858585"/>
<circle cx="520.5" cy="188" r="1.2" fill="#858585"/>
<circle cx="525.8" cy="184.5" r="1.2" fill="#858585"/>
<circle cx="528.8" cy="206" r="1.2" fill="#858585"/>
<circle cx="533.6" cy="203" r="1.2" fill="#858585"/>
<circle cx="543.7" cy="200.4" r="1.2" fill="#858585"/>
<circle cx="541.5" cy="200.4" r="1.2" fill="#858585"/>
<circle cx="552.3" cy="198.3" r="1.2" fill="#858585"/>
<circle cx="554.4" cy="198.3" r="1.2" fill="#858585"/>
<circle cx="552.3" cy="209.4" r="1.2" fill="#858585"/>
<circle cx="554.4" cy="209.4" r="1.2" fill="#858585"/>
<circle cx="544.6" cy="205.6" r="1.2" fill="#858585"/>
<circle cx="499.9" cy="195" r="1.2" fill="#858585"/>
<circle cx="481.4" cy="198" r="1.2" fill="#858585"/>
<circle cx="476.17" cy="164.4" r="1.2" fill="#858585"/>
<circle cx="476.17" cy="171" r="1.2" fill="#358039"/>
<circle cx="483.8" cy="166.3" r="1.2" fill="#358039"/>
<circle cx="510" cy="164.4" r="1.2" fill="#358039"/>
<circle cx="544.5" cy="139.6" r="1.2" fill="#358039"/>
<circle cx="544.5" cy="167.6" r="1.2" fill="#358039"/>
<line x1="477.8" y1="163.8" x2="495.5" y2="154" stroke="#333" stroke-width="0.6"/>
<text x="468.9" y="160.4" font-size="7.2" fill="#3d8f3d" stroke="#3d8f3d" stroke-width="0.2">579 H</text>
<text x="496.5" y="155.4" font-size="7.2" fill="#c0272d" stroke="#c0272d" stroke-width="0.2">579 1AA deletion</text>
<text x="485.6" y="167.9" font-size="7.2" fill="#3d8f3d" stroke="#3d8f3d" stroke-width="0.2">582 K</text>
<text x="512.3" y="166.4" font-size="7.2" fill="#3d8f3d" stroke="#3d8f3d" stroke-width="0.2">592 R</text>
<text x="478.8" y="173.5" font-size="7.2" fill="#3d8f3d" stroke="#3d8f3d" stroke-width="0.2">579 N</text>
<text x="546.3" y="141.3" font-size="7.2" fill="#3d8f3d" stroke="#3d8f3d" stroke-width="0.2">605 K</text>
<text x="546.3" y="169.8" font-size="7.2" fill="#3d8f3d" stroke="#3d8f3d" stroke-width="0.2">605 L</text>
<rect x="580.12" y="212.4" width="95.32" height="6.6" fill="#858585"/>
<circle cx="581.22" cy="218.4" r="1.2" fill="#858585"/>
<circle cx="581.22" cy="217" r="1.2" fill="#858585"/>
<circle cx="581.22" cy="215.6" r="1.2" fill="#858585"/>
<circle cx="581.22" cy="214.2" r="1.2" fill="#858585"/>
<circle cx="581.29" cy="213" r="1.2" fill="#858585"/>
<circle cx="581.37" cy="211.5" r="1.2" fill="#858585"/>
<circle cx="581.49" cy="210" r="1.2" fill="#858585"/>
<circle cx="581.47" cy="208.5" r="1.2" fill="#858585"/>
<circle cx="583.16" cy="218.4" r="1.2" fill="#858585"/>
<circle cx="583.16" cy="217" r="1.2" fill="#858585"/>
<circle cx="583.16" cy="215.6" r="1.2" fill="#858585"/>
<circle cx="583.16" cy="214.2" r="1.2" fill="#858585"/>
<circle cx="582.88" cy="213" r="1.2" fill="#858585"/>
<circle cx="583.14" cy="211.5" r="1.2" fill="#858585"/>
<circle cx="583.4" cy="208.5" r="1.2" fill="#858585"/>
<circle cx="583.14" cy="207" r="1.2" fill="#858585"/>
<circle cx="583.19" cy="205.5" r="1.2" fill="#858585"/>
<circle cx="582.87" cy="204" r="1.2" fill="#858585"/>
<circle cx="583.03" cy="202.5" r="1.2" fill="#858585"/>
<circle cx="585.1" cy="218.4" r="1.2" fill="#858585"/>
<circle cx="585.1" cy="217" r="1.2" fill="#858585"/>
<circle cx="585.1" cy="215.6" r="1.2" fill="#858585"/>
<circle cx="585.1" cy="214.2" r="1.2" fill="#858585"/>
<circle cx="585.26" cy="213" r="1.2" fill="#858585"/>
<circle cx="584.9" cy="211.5" r="1.2" fill="#858585"/>
<circle cx="584.88" cy="210" r="1.2" fill="#858585"/>
<circle cx="584.88" cy="208.5" r="1.2" fill="#858585"/>
<circle cx="585.32" cy="207" r="1.2" fill="#858585"/>
<circle cx="584.93" cy="205.5" r="1.2" fill="#858585"/>
<circle cx="584.97" cy="202.5" r="1.2" fill="#858585"/>
<circle cx="587.04" cy="218.4" r="1.2" fill="#858585"/>
<circle cx="587.04" cy="217" r="1.2" fill="#858585"/>
<circle cx="587.04" cy="215.6" r="1.2" fill="#858585"/>
<circle cx="587.04" cy="214.2" r="1.2" fill="#858585"/>
<circle cx="587.06" cy="213" r="1.2" fill="#858585"/>
<circle cx="587.15" cy="211.5" r="1.2" fill="#858585"/>
<circle cx="587.3" cy="210" r="1.2" fill="#858585"/>
<circle cx="587.32" cy="208.5" r="1.2" fill="#858585"/>
<circle cx="588.98" cy="218.4" r="1.2" fill="#858585"/>
<circle cx="588.98" cy="217" r="1.2" fill="#858585"/>
<circle cx="588.98" cy="215.6" r="1.2" fill="#858585"/>
<circle cx="588.98" cy="214.2" r="1.2" fill="#858585"/>
<circle cx="588.86" cy="213" r="1.2" fill="#858585"/>
<circle cx="588.9" cy="211.5" r="1.2" fill="#858585"/>
<circle cx="588.77" cy="210" r="1.2" fill="#858585"/>
<circle cx="588.86" cy="208.5" r="1.2" fill="#858585"/>
<circle cx="588.68" cy="207" r="1.2" fill="#858585"/>
<circle cx="590.92" cy="218.4" r="1.2" fill="#858585"/>
<circle cx="590.92" cy="217" r="1.2" fill="#858585"/>
<circle cx="590.92" cy="215.6" r="1.2" fill="#858585"/>
<circle cx="590.92" cy="214.2" r="1.2" fill="#858585"/>
<circle cx="591.03" cy="213" r="1.2" fill="#858585"/>
<circle cx="590.82" cy="211.5" r="1.2" fill="#858585"/>
<circle cx="591.11" cy="210" r="1.2" fill="#858585"/>
<circle cx="590.81" cy="208.5" r="1.2" fill="#858585"/>
<circle cx="591.04" cy="207" r="1.2" fill="#858585"/>
<circle cx="591.21" cy="205.5" r="1.2" fill="#858585"/>
<circle cx="592.86" cy="218.4" r="1.2" fill="#858585"/>
<circle cx="592.86" cy="217" r="1.2" fill="#858585"/>
<circle cx="592.86" cy="215.6" r="1.2" fill="#858585"/>
<circle cx="592.86" cy="214.2" r="1.2" fill="#858585"/>
<circle cx="592.57" cy="213" r="1.2" fill="#858585"/>
<circle cx="593.01" cy="211.5" r="1.2" fill="#858585"/>
<circle cx="592.57" cy="210" r="1.2" fill="#858585"/>
<circle cx="592.78" cy="208.5" r="1.2" fill="#858585"/>
<circle cx="592.57" cy="207" r="1.2" fill="#858585"/>
<circle cx="592.67" cy="205.5" r="1.2" fill="#858585"/>
<circle cx="594.8" cy="218.4" r="1.2" fill="#858585"/>
<circle cx="594.8" cy="217" r="1.2" fill="#858585"/>
<circle cx="594.8" cy="215.6" r="1.2" fill="#858585"/>
<circle cx="594.8" cy="214.2" r="1.2" fill="#858585"/>
<circle cx="595.07" cy="213" r="1.2" fill="#858585"/>
<circle cx="594.62" cy="211.5" r="1.2" fill="#858585"/>
<circle cx="595.06" cy="210" r="1.2" fill="#858585"/>
<circle cx="596.74" cy="218.4" r="1.2" fill="#858585"/>
<circle cx="596.74" cy="217" r="1.2" fill="#858585"/>
<circle cx="596.74" cy="215.6" r="1.2" fill="#858585"/>
<circle cx="596.74" cy="214.2" r="1.2" fill="#858585"/>
<circle cx="597.01" cy="213" r="1.2" fill="#858585"/>
<circle cx="596.65" cy="211.5" r="1.2" fill="#858585"/>
<circle cx="596.75" cy="210" r="1.2" fill="#858585"/>
<circle cx="598.68" cy="218.4" r="1.2" fill="#858585"/>
<circle cx="598.68" cy="217" r="1.2" fill="#858585"/>
<circle cx="598.68" cy="215.6" r="1.2" fill="#858585"/>
<circle cx="598.68" cy="214.2" r="1.2" fill="#858585"/>
<circle cx="598.85" cy="213" r="1.2" fill="#858585"/>
<circle cx="598.44" cy="211.5" r="1.2" fill="#858585"/>
<circle cx="598.86" cy="210" r="1.2" fill="#858585"/>
<circle cx="600.62" cy="218.4" r="1.2" fill="#858585"/>
<circle cx="600.62" cy="217" r="1.2" fill="#858585"/>
<circle cx="600.62" cy="215.6" r="1.2" fill="#858585"/>
<circle cx="600.62" cy="214.2" r="1.2" fill="#858585"/>
<circle cx="600.84" cy="213" r="1.2" fill="#858585"/>
<circle cx="600.34" cy="211.5" r="1.2" fill="#858585"/>
<circle cx="600.52" cy="208.5" r="1.2" fill="#858585"/>
<circle cx="600.87" cy="207" r="1.2" fill="#858585"/>
<circle cx="602.56" cy="218.4" r="1.2" fill="#858585"/>
<circle cx="602.56" cy="217" r="1.2" fill="#858585"/>
<circle cx="602.56" cy="215.6" r="1.2" fill="#858585"/>
<circle cx="602.56" cy="214.2" r="1.2" fill="#858585"/>
<circle cx="602.46" cy="213" r="1.2" fill="#858585"/>
<circle cx="602.81" cy="211.5" r="1.2" fill="#858585"/>
<circle cx="602.45" cy="210" r="1.2" fill="#858585"/>
<circle cx="602.37" cy="208.5" r="1.2" fill="#858585"/>
<circle cx="602.35" cy="207" r="1.2" fill="#858585"/>
<circle cx="604.5" cy="218.4" r="1.2" fill="#858585"/>
<circle cx="604.5" cy="217" r="1.2" fill="#858585"/>
<circle cx="604.5" cy="215.6" r="1.2" fill="#858585"/>
<circle cx="604.5" cy="214.2" r="1.2" fill="#858585"/>
<circle cx="604.61" cy="213" r="1.2" fill="#858585"/>
<circle cx="604.8" cy="211.5" r="1.2" fill="#858585"/>
<circle cx="604.23" cy="210" r="1.2" fill="#858585"/>
<circle cx="604.44" cy="207" r="1.2" fill="#858585"/>
<circle cx="606.44" cy="218.4" r="1.2" fill="#858585"/>
<circle cx="606.44" cy="217" r="1.2" fill="#858585"/>
<circle cx="606.44" cy="215.6" r="1.2" fill="#858585"/>
<circle cx="606.44" cy="214.2" r="1.2" fill="#858585"/>
<circle cx="606.28" cy="213" r="1.2" fill="#858585"/>
<circle cx="606.5" cy="211.5" r="1.2" fill="#858585"/>
<circle cx="606.41" cy="210" r="1.2" fill="#858585"/>
<circle cx="606.17" cy="208.5" r="1.2" fill="#858585"/>
<circle cx="608.38" cy="218.4" r="1.2" fill="#858585"/>
<circle cx="608.38" cy="217" r="1.2" fill="#858585"/>
<circle cx="608.38" cy="215.6" r="1.2" fill="#858585"/>
<circle cx="608.38" cy="214.2" r="1.2" fill="#858585"/>
<circle cx="608.1" cy="213" r="1.2" fill="#858585"/>
<circle cx="608.38" cy="211.5" r="1.2" fill="#858585"/>
<circle cx="608.16" cy="210" r="1.2" fill="#858585"/>
<circle cx="610.32" cy="218.4" r="1.2" fill="#858585"/>
<circle cx="610.32" cy="217" r="1.2" fill="#858585"/>
<circle cx="610.32" cy="215.6" r="1.2" fill="#858585"/>
<circle cx="610.32" cy="214.2" r="1.2" fill="#858585"/>
<circle cx="610.46" cy="213" r="1.2" fill="#858585"/>
<circle cx="610.59" cy="211.5" r="1.2" fill="#858585"/>
<circle cx="610.49" cy="210" r="1.2" fill="#858585"/>
<circle cx="612.26" cy="218.4" r="1.2" fill="#858585"/>
<circle cx="612.26" cy="217" r="1.2" fill="#858585"/>
<circle cx="612.26" cy="215.6" r="1.2" fill="#858585"/>
<circle cx="612.26" cy="214.2" r="1.2" fill="#858585"/>
<circle cx="612.02" cy="213" r="1.2" fill="#858585"/>
<circle cx="612.22" cy="211.5" r="1.2" fill="#858585"/>
<circle cx="612.47" cy="210" r="1.2" fill="#858585"/>
<circle cx="614.2" cy="218.4" r="1.2" fill="#858585"/>
<circle cx="614.2" cy="217" r="1.2" fill="#858585"/>
<circle cx="614.2" cy="215.6" r="1.2" fill="#858585"/>
<circle cx="614.2" cy="214.2" r="1.2" fill="#858585"/>
<circle cx="614.08" cy="213" r="1.2" fill="#858585"/>
<circle cx="614.17" cy="211.5" r="1.2" fill="#858585"/>
<circle cx="616.14" cy="218.4" r="1.2" fill="#858585"/>
<circle cx="616.14" cy="217" r="1.2" fill="#858585"/>
<circle cx="616.14" cy="215.6" r="1.2" fill="#858585"/>
<circle cx="616.14" cy="214.2" r="1.2" fill="#858585"/>
<circle cx="616.35" cy="213" r="1.2" fill="#858585"/>
<circle cx="616.43" cy="211.5" r="1.2" fill="#858585"/>
<circle cx="618.08" cy="218.4" r="1.2" fill="#858585"/>
<circle cx="618.08" cy="217" r="1.2" fill="#858585"/>
<circle cx="618.08" cy="215.6" r="1.2" fill="#858585"/>
<circle cx="618.08" cy="214.2" r="1.2" fill="#858585"/>
<circle cx="618.05" cy="213" r="1.2" fill="#858585"/>
<circle cx="618.07" cy="211.5" r="1.2" fill="#858585"/>
<circle cx="620.02" cy="218.4" r="1.2" fill="#858585"/>
<circle cx="620.02" cy="217" r="1.2" fill="#858585"/>
<circle cx="620.02" cy="215.6" r="1.2" fill="#858585"/>
<circle cx="620.02" cy="214.2" r="1.2" fill="#858585"/>
<circle cx="620.16" cy="213" r="1.2" fill="#858585"/>
<circle cx="620.01" cy="211.5" r="1.2" fill="#858585"/>
<circle cx="621.96" cy="218.4" r="1.2" fill="#858585"/>
<circle cx="621.96" cy="217" r="1.2" fill="#858585"/>
<circle cx="621.96" cy="215.6" r="1.2" fill="#858585"/>
<circle cx="621.96" cy="214.2" r="1.2" fill="#858585"/>
<circle cx="621.83" cy="213" r="1.2" fill="#858585"/>
<circle cx="621.9" cy="211.5" r="1.2" fill="#858585"/>
<circle cx="623.9" cy="218.4" r="1.2" fill="#858585"/>
<circle cx="623.9" cy="217" r="1.2" fill="#858585"/>
<circle cx="623.9" cy="215.6" r="1.2" fill="#858585"/>
<circle cx="623.9" cy="214.2" r="1.2" fill="#858585"/>
<circle cx="623.69" cy="213" r="1.2" fill="#858585"/>
<circle cx="623.83" cy="211.5" r="1.2" fill="#858585"/>
<circle cx="625.84" cy="218.4" r="1.2" fill="#858585"/>
<circle cx="625.84" cy="217" r="1.2" fill="#858585"/>
<circle cx="625.84" cy="215.6" r="1.2" fill="#858585"/>
<circle cx="625.84" cy="214.2" r="1.2" fill="#858585"/>
<circle cx="626.13" cy="213" r="1.2" fill="#858585"/>
<circle cx="626.12" cy="211.5" r="1.2" fill="#858585"/>
<circle cx="625.84" cy="210" r="1.2" fill="#858585"/>
<circle cx="627.78" cy="218.4" r="1.2" fill="#858585"/>
<circle cx="627.78" cy="217" r="1.2" fill="#858585"/>
<circle cx="627.78" cy="215.6" r="1.2" fill="#858585"/>
<circle cx="627.78" cy="214.2" r="1.2" fill="#858585"/>
<circle cx="627.68" cy="213" r="1.2" fill="#858585"/>
<circle cx="627.53" cy="211.5" r="1.2" fill="#858585"/>
<circle cx="627.95" cy="210" r="1.2" fill="#858585"/>
<circle cx="627.7" cy="208.5" r="1.2" fill="#858585"/>
<circle cx="627.94" cy="207" r="1.2" fill="#858585"/>
<circle cx="627.88" cy="205.5" r="1.2" fill="#858585"/>
<circle cx="627.7" cy="204" r="1.2" fill="#858585"/>
<circle cx="627.65" cy="202.5" r="1.2" fill="#858585"/>
<circle cx="627.94" cy="201" r="1.2" fill="#858585"/>
<circle cx="627.66" cy="199.5" r="1.2" fill="#858585"/>
<circle cx="629.72" cy="218.4" r="1.2" fill="#858585"/>
<circle cx="629.72" cy="217" r="1.2" fill="#858585"/>
<circle cx="629.72" cy="215.6" r="1.2" fill="#858585"/>
<circle cx="629.72" cy="214.2" r="1.2" fill="#858585"/>
<circle cx="629.99" cy="213" r="1.2" fill="#858585"/>
<circle cx="629.81" cy="211.5" r="1.2" fill="#858585"/>
<circle cx="629.43" cy="210" r="1.2" fill="#858585"/>
<circle cx="629.57" cy="208.5" r="1.2" fill="#858585"/>
<circle cx="629.7" cy="207" r="1.2" fill="#858585"/>
<circle cx="629.81" cy="205.5" r="1.2" fill="#858585"/>
<circle cx="629.63" cy="204" r="1.2" fill="#858585"/>
<circle cx="631.66" cy="218.4" r="1.2" fill="#858585"/>
<circle cx="631.66" cy="217" r="1.2" fill="#858585"/>
<circle cx="631.66" cy="215.6" r="1.2" fill="#858585"/>
<circle cx="631.66" cy="214.2" r="1.2" fill="#858585"/>
<circle cx="631.75" cy="213" r="1.2" fill="#858585"/>
<circle cx="631.8" cy="211.5" r="1.2" fill="#858585"/>
<circle cx="633.6" cy="218.4" r="1.2" fill="#858585"/>
<circle cx="633.6" cy="217" r="1.2" fill="#858585"/>
<circle cx="633.6" cy="215.6" r="1.2" fill="#858585"/>
<circle cx="633.6" cy="214.2" r="1.2" fill="#858585"/>
<circle cx="633.8" cy="213" r="1.2" fill="#858585"/>
<circle cx="633.51" cy="211.5" r="1.2" fill="#858585"/>
<circle cx="635.54" cy="218.4" r="1.2" fill="#858585"/>
<circle cx="635.54" cy="217" r="1.2" fill="#858585"/>
<circle cx="635.54" cy="215.6" r="1.2" fill="#858585"/>
<circle cx="635.54" cy="214.2" r="1.2" fill="#858585"/>
<circle cx="635.75" cy="213" r="1.2" fill="#858585"/>
<circle cx="635.76" cy="211.5" r="1.2" fill="#858585"/>
<circle cx="635.83" cy="210" r="1.2" fill="#858585"/>
<circle cx="635.56" cy="207" r="1.2" fill="#858585"/>
<circle cx="635.74" cy="205.5" r="1.2" fill="#858585"/>
<circle cx="637.48" cy="218.4" r="1.2" fill="#858585"/>
<circle cx="637.48" cy="217" r="1.2" fill="#858585"/>
<circle cx="637.48" cy="215.6" r="1.2" fill="#858585"/>
<circle cx="637.48" cy="214.2" r="1.2" fill="#858585"/>
<circle cx="637.47" cy="213" r="1.2" fill="#858585"/>
<circle cx="637.59" cy="211.5" r="1.2" fill="#858585"/>
<circle cx="637.62" cy="210" r="1.2" fill="#858585"/>
<circle cx="637.65" cy="208.5" r="1.2" fill="#858585"/>
<circle cx="637.58" cy="207" r="1.2" fill="#858585"/>
<circle cx="639.42" cy="218.4" r="1.2" fill="#858585"/>
<circle cx="639.42" cy="217" r="1.2" fill="#858585"/>
<circle cx="639.42" cy="215.6" r="1.2" fill="#858585"/>
<circle cx="639.42" cy="214.2" r="1.2" fill="#858585"/>
<circle cx="639.37" cy="213" r="1.2" fill="#858585"/>
<circle cx="639.49" cy="211.5" r="1.2" fill="#858585"/>
<circle cx="639.5" cy="210" r="1.2" fill="#858585"/>
<circle cx="639.14" cy="208.5" r="1.2" fill="#858585"/>
<circle cx="639.38" cy="207" r="1.2" fill="#858585"/>
<circle cx="641.36" cy="218.4" r="1.2" fill="#858585"/>
<circle cx="641.36" cy="217" r="1.2" fill="#858585"/>
<circle cx="641.36" cy="215.6" r="1.2" fill="#858585"/>
<circle cx="641.36" cy="214.2" r="1.2" fill="#858585"/>
<circle cx="641.45" cy="213" r="1.2" fill="#858585"/>
<circle cx="641.19" cy="211.5" r="1.2" fill="#858585"/>
<circle cx="643.3" cy="218.4" r="1.2" fill="#858585"/>
<circle cx="643.3" cy="217" r="1.2" fill="#858585"/>
<circle cx="643.3" cy="215.6" r="1.2" fill="#858585"/>
<circle cx="643.3" cy="214.2" r="1.2" fill="#858585"/>
<circle cx="643.41" cy="213" r="1.2" fill="#858585"/>
<circle cx="643.38" cy="211.5" r="1.2" fill="#858585"/>
<circle cx="645.24" cy="218.4" r="1.2" fill="#858585"/>
<circle cx="645.24" cy="217" r="1.2" fill="#858585"/>
<circle cx="645.24" cy="215.6" r="1.2" fill="#858585"/>
<circle cx="645.24" cy="214.2" r="1.2" fill="#858585"/>
<circle cx="644.97" cy="213" r="1.2" fill="#858585"/>
<circle cx="645.22" cy="211.5" r="1.2" fill="#858585"/>
<circle cx="644.97" cy="210" r="1.2" fill="#858585"/>
<circle cx="645.13" cy="208.5" r="1.2" fill="#858585"/>
<circle cx="645.06" cy="207" r="1.2" fill="#858585"/>
<circle cx="647.18" cy="218.4" r="1.2" fill="#858585"/>
<circle cx="647.18" cy="217" r="1.2" fill="#858585"/>
<circle cx="647.18" cy="215.6" r="1.2" fill="#858585"/>
<circle cx="647.18" cy="214.2" r="1.2" fill="#858585"/>
<circle cx="646.9" cy="213" r="1.2" fill="#858585"/>
<circle cx="647.16" cy="211.5" r="1.2" fill="#858585"/>
<circle cx="647.25" cy="210" r="1.2" fill="#858585"/>
<circle cx="647.02" cy="208.5" r="1.2" fill="#858585"/>
<circle cx="649.12" cy="218.4" r="1.2" fill="#858585"/>
<circle cx="649.12" cy="217" r="1.2" fill="#858585"/>
<circle cx="649.12" cy="215.6" r="1.2" fill="#858585"/>
<circle cx="649.12" cy="214.2" r="1.2" fill="#858585"/>
<circle cx="648.82" cy="213" r="1.2" fill="#858585"/>
<circle cx="649.06" cy="211.5" r="1.2" fill="#858585"/>
<circle cx="649.07" cy="210" r="1.2" fill="#858585"/>
<circle cx="649.32" cy="208.5" r="1.2" fill="#858585"/>
<circle cx="648.84" cy="207" r="1.2" fill="#858585"/>
<circle cx="648.88" cy="205.5" r="1.2" fill="#858585"/>
<circle cx="649.02" cy="204" r="1.2" fill="#858585"/>
<circle cx="649.39" cy="202.5" r="1.2" fill="#858585"/>
<circle cx="649.07" cy="201" r="1.2" fill="#858585"/>
<circle cx="651.06" cy="218.4" r="1.2" fill="#858585"/>
<circle cx="651.06" cy="217" r="1.2" fill="#858585"/>
<circle cx="651.06" cy="215.6" r="1.2" fill="#858585"/>
<circle cx="651.06" cy="214.2" r="1.2" fill="#858585"/>
<circle cx="651.25" cy="213" r="1.2" fill="#858585"/>
<circle cx="651.15" cy="211.5" r="1.2" fill="#858585"/>
<circle cx="650.85" cy="210" r="1.2" fill="#858585"/>
<circle cx="651.1" cy="208.5" r="1.2" fill="#858585"/>
<circle cx="650.97" cy="204" r="1.2" fill="#858585"/>
<circle cx="650.82" cy="201" r="1.2" fill="#858585"/>
<circle cx="653" cy="218.4" r="1.2" fill="#858585"/>
<circle cx="653" cy="217" r="1.2" fill="#858585"/>
<circle cx="653" cy="215.6" r="1.2" fill="#858585"/>
<circle cx="653" cy="214.2" r="1.2" fill="#858585"/>
<circle cx="654.94" cy="218.4" r="1.2" fill="#858585"/>
<circle cx="654.94" cy="217" r="1.2" fill="#858585"/>
<circle cx="654.94" cy="215.6" r="1.2" fill="#858585"/>
<circle cx="654.94" cy="214.2" r="1.2" fill="#858585"/>
<circle cx="654.98" cy="213" r="1.2" fill="#858585"/>
<circle cx="656.88" cy="218.4" r="1.2" fill="#858585"/>
<circle cx="656.88" cy="217" r="1.2" fill="#858585"/>
<circle cx="656.88" cy="215.6" r="1.2" fill="#858585"/>
<circle cx="656.88" cy="214.2" r="1.2" fill="#858585"/>
<circle cx="656.95" cy="213" r="1.2" fill="#858585"/>
<circle cx="658.82" cy="218.4" r="1.2" fill="#858585"/>
<circle cx="658.82" cy="217" r="1.2" fill="#858585"/>
<circle cx="658.82" cy="215.6" r="1.2" fill="#858585"/>
<circle cx="658.82" cy="214.2" r="1.2" fill="#858585"/>
<circle cx="658.6" cy="213" r="1.2" fill="#858585"/>
<circle cx="658.9" cy="211.5" r="1.2" fill="#858585"/>
<circle cx="660.76" cy="218.4" r="1.2" fill="#858585"/>
<circle cx="660.76" cy="217" r="1.2" fill="#858585"/>
<circle cx="660.76" cy="215.6" r="1.2" fill="#858585"/>
<circle cx="660.76" cy="214.2" r="1.2" fill="#858585"/>
<circle cx="660.99" cy="213" r="1.2" fill="#858585"/>
<circle cx="660.69" cy="211.5" r="1.2" fill="#858585"/>
<circle cx="662.7" cy="218.4" r="1.2" fill="#858585"/>
<circle cx="662.7" cy="217" r="1.2" fill="#858585"/>
<circle cx="662.7" cy="215.6" r="1.2" fill="#858585"/>
<circle cx="662.7" cy="214.2" r="1.2" fill="#858585"/>
<circle cx="662.66" cy="213" r="1.2" fill="#858585"/>
<circle cx="662.54" cy="211.5" r="1.2" fill="#858585"/>
<circle cx="662.98" cy="210" r="1.2" fill="#858585"/>
<circle cx="662.98" cy="208.5" r="1.2" fill="#858585"/>
<circle cx="662.56" cy="205.5" r="1.2" fill="#858585"/>
<circle cx="664.64" cy="218.4" r="1.2" fill="#858585"/>
<circle cx="664.64" cy="217" r="1.2" fill="#858585"/>
<circle cx="664.64" cy="215.6" r="1.2" fill="#858585"/>
<circle cx="664.64" cy="214.2" r="1.2" fill="#858585"/>
<circle cx="664.64" cy="213" r="1.2" fill="#858585"/>
<circle cx="664.59" cy="211.5" r="1.2" fill="#858585"/>
<circle cx="664.93" cy="210" r="1.2" fill="#858585"/>
<circle cx="664.51" cy="208.5" r="1.2" fill="#858585"/>
<circle cx="664.41" cy="207" r="1.2" fill="#858585"/>
<circle cx="664.61" cy="205.5" r="1.2" fill="#858585"/>
<circle cx="664.81" cy="204" r="1.2" fill="#858585"/>
<circle cx="666.58" cy="218.4" r="1.2" fill="#858585"/>
<circle cx="666.58" cy="217" r="1.2" fill="#858585"/>
<circle cx="666.58" cy="215.6" r="1.2" fill="#858585"/>
<circle cx="666.58" cy="214.2" r="1.2" fill="#858585"/>
<circle cx="666.78" cy="213" r="1.2" fill="#858585"/>
<circle cx="666.29" cy="211.5" r="1.2" fill="#858585"/>
<circle cx="666.44" cy="210" r="1.2" fill="#858585"/>
<circle cx="668.52" cy="218.4" r="1.2" fill="#858585"/>
<circle cx="668.52" cy="217" r="1.2" fill="#858585"/>
<circle cx="668.52" cy="215.6" r="1.2" fill="#858585"/>
<circle cx="668.52" cy="214.2" r="1.2" fill="#858585"/>
<circle cx="668.78" cy="213" r="1.2" fill="#858585"/>
<circle cx="668.69" cy="211.5" r="1.2" fill="#858585"/>
<circle cx="668.38" cy="210" r="1.2" fill="#858585"/>
<circle cx="668.81" cy="208.5" r="1.2" fill="#858585"/>
<circle cx="668.58" cy="207" r="1.2" fill="#858585"/>
<circle cx="668.61" cy="205.5" r="1.2" fill="#858585"/>
<circle cx="668.67" cy="204" r="1.2" fill="#858585"/>
<circle cx="668.68" cy="202.5" r="1.2" fill="#858585"/>
<circle cx="670.46" cy="218.4" r="1.2" fill="#858585"/>
<circle cx="670.46" cy="217" r="1.2" fill="#858585"/>
<circle cx="670.46" cy="215.6" r="1.2" fill="#858585"/>
<circle cx="670.46" cy="214.2" r="1.2" fill="#858585"/>
<circle cx="670.34" cy="213" r="1.2" fill="#858585"/>
<circle cx="670.48" cy="211.5" r="1.2" fill="#858585"/>
<circle cx="670.34" cy="210" r="1.2" fill="#858585"/>
<circle cx="670.44" cy="208.5" r="1.2" fill="#858585"/>
<circle cx="670.61" cy="207" r="1.2" fill="#858585"/>
<circle cx="670.18" cy="205.5" r="1.2" fill="#858585"/>
<circle cx="670.43" cy="204" r="1.2" fill="#858585"/>
<circle cx="672.4" cy="218.4" r="1.2" fill="#858585"/>
<circle cx="672.4" cy="217" r="1.2" fill="#858585"/>
<circle cx="672.4" cy="215.6" r="1.2" fill="#858585"/>
<circle cx="672.4" cy="214.2" r="1.2" fill="#858585"/>
<circle cx="672.63" cy="213" r="1.2" fill="#858585"/>
<circle cx="672.43" cy="211.5" r="1.2" fill="#858585"/>
<circle cx="672.57" cy="210" r="1.2" fill="#858585"/>
<circle cx="672.45" cy="208.5" r="1.2" fill="#858585"/>
<circle cx="672.48" cy="207" r="1.2" fill="#858585"/>
<circle cx="672.65" cy="205.5" r="1.2" fill="#858585"/>
<circle cx="672.34" cy="204" r="1.2" fill="#858585"/>
<circle cx="674.34" cy="218.4" r="1.2" fill="#858585"/>
<circle cx="674.34" cy="217" r="1.2" fill="#858585"/>
<circle cx="674.34" cy="215.6" r="1.2" fill="#858585"/>
<circle cx="674.34" cy="214.2" r="1.2" fill="#858585"/>
<circle cx="674.55" cy="213" r="1.2" fill="#858585"/>
<circle cx="674.16" cy="211.5" r="1.2" fill="#858585"/>
<circle cx="674.54" cy="210" r="1.2" fill="#858585"/>
<circle cx="598.3" cy="206.6" r="1.2" fill="#858585"/>
<circle cx="608" cy="202.3" r="1.2" fill="#858585"/>
<circle cx="613.9" cy="207" r="1.2" fill="#858585"/>
<circle cx="622" cy="210" r="1.2" fill="#858585"/>
<circle cx="640.8" cy="205.3" r="1.2" fill="#858585"/>
<circle cx="656.7" cy="207.9" r="1.2" fill="#858585"/>
<line x1="466.6" y1="120.8" x2="466.6" y2="222.9" stroke="#111" stroke-width="1.5"/>
<line x1="466" y1="222.9" x2="566.6" y2="222.9" stroke="#111" stroke-width="1.5"/>
<line x1="464.2" y1="217.8" x2="466.6" y2="217.8" stroke="#222" stroke-width="1.0"/>
<text x="463" y="220.6" font-size="7.8" fill="#646464" stroke="#646464" stroke-width="0.2" text-anchor="end" transform="matrix(1 0 0 1.18 0 -39.2)">0</text>
<line x1="464.2" y1="194.8" x2="466.6" y2="194.8" stroke="#222" stroke-width="1.0"/>
<text x="463" y="197.6" font-size="7.8" fill="#646464" stroke="#646464" stroke-width="0.2" text-anchor="end" transform="matrix(1 0 0 1.18 0 -35.06)">5</text>
<line x1="464.2" y1="171.8" x2="466.6" y2="171.8" stroke="#222" stroke-width="1.0"/>
<text x="463" y="174.6" font-size="7.8" fill="#646464" stroke="#646464" stroke-width="0.2" text-anchor="end" transform="matrix(1 0 0 1.18 0 -30.92)">10</text>
<line x1="464.2" y1="148.8" x2="466.6" y2="148.8" stroke="#222" stroke-width="1.0"/>
<text x="463" y="151.6" font-size="7.8" fill="#646464" stroke="#646464" stroke-width="0.2" text-anchor="end" transform="matrix(1 0 0 1.18 0 -26.78)">15</text>
<line x1="464.2" y1="125.8" x2="466.6" y2="125.8" stroke="#222" stroke-width="1.0"/>
<text x="463" y="128.6" font-size="7.8" fill="#646464" stroke="#646464" stroke-width="0.2" text-anchor="end" transform="matrix(1 0 0 1.18 0 -22.64)">20</text>
<line x1="478.8" y1="222.9" x2="478.8" y2="225.3" stroke="#222" stroke-width="1.0"/>
<text x="478.8" y="232.1" font-size="7.8" fill="#646464" stroke="#646464" stroke-width="0.2" text-anchor="middle" transform="matrix(1 0 0 1.18 0 -41.27)">580</text>
<line x1="505.1" y1="222.9" x2="505.1" y2="225.3" stroke="#222" stroke-width="1.0"/>
<text x="505.1" y="232.1" font-size="7.8" fill="#646464" stroke="#646464" stroke-width="0.2" text-anchor="middle" transform="matrix(1 0 0 1.18 0 -41.27)">590</text>
<line x1="531.4" y1="222.9" x2="531.4" y2="225.3" stroke="#222" stroke-width="1.0"/>
<text x="531.4" y="232.1" font-size="7.8" fill="#646464" stroke="#646464" stroke-width="0.2" text-anchor="middle" transform="matrix(1 0 0 1.18 0 -41.27)">600</text>
<line x1="557.7" y1="222.9" x2="557.7" y2="225.3" stroke="#222" stroke-width="1.0"/>
<text x="557.7" y="232.1" font-size="7.8" fill="#646464" stroke="#646464" stroke-width="0.2" text-anchor="middle" transform="matrix(1 0 0 1.18 0 -41.27)">610</text>
<text x="515.4" y="241.2" font-size="8.4" fill="#1a1a1a" stroke="#1a1a1a" stroke-width="0.2" text-anchor="middle">Residue Position</text>
<text x="453.4" y="173.4" font-size="7.7" fill="#1a1a1a" stroke="#1a1a1a" stroke-width="0.2" text-anchor="middle" transform="rotate(-90 453.4 173.4) matrix(1 0 0 1.2 0 -34.13)">Relative Enrichment<tspan font-size="5" dy="1.8">WT</tspan></text>
<text x="470.6" y="128.1" font-size="8.4" font-weight="bold" fill="#111" stroke="#111" stroke-width="0.25">N-term VP1</text>
<line x1="575.8" y1="120.6" x2="575.8" y2="222.2" stroke="#111" stroke-width="1.5"/>
<line x1="575.2" y1="222.2" x2="676.6" y2="222.2" stroke="#111" stroke-width="1.5"/>
<line x1="573.4" y1="217.4" x2="575.8" y2="217.4" stroke="#222" stroke-width="1.0"/>
<line x1="573.4" y1="194.15" x2="575.8" y2="194.15" stroke="#222" stroke-width="1.0"/>
<line x1="573.4" y1="170.9" x2="575.8" y2="170.9" stroke="#222" stroke-width="1.0"/>
<line x1="573.4" y1="147.65" x2="575.8" y2="147.65" stroke="#222" stroke-width="1.0"/>
<line x1="573.4" y1="124.4" x2="575.8" y2="124.4" stroke="#222" stroke-width="1.0"/>
<line x1="594.8" y1="222.2" x2="594.8" y2="224.6" stroke="#222" stroke-width="1.0"/>
<text x="594.8" y="232.1" font-size="7.8" fill="#646464" stroke="#646464" stroke-width="0.2" text-anchor="middle" transform="matrix(1 0 0 1.18 0 -41.27)">870</text>
<line x1="614.2" y1="222.2" x2="614.2" y2="224.6" stroke="#222" stroke-width="1.0"/>
<text x="614.2" y="232.1" font-size="7.8" fill="#646464" stroke="#646464" stroke-width="0.2" text-anchor="middle" transform="matrix(1 0 0 1.18 0 -41.27)">880</text>
<line x1="633.6" y1="222.2" x2="633.6" y2="224.6" stroke="#222" stroke-width="1.0"/>
<text x="633.6" y="232.1" font-size="7.8" fill="#646464" stroke="#646464" stroke-width="0.2" text-anchor="middle" transform="matrix(1 0 0 1.18 0 -41.27)">890</text>
<line x1="653" y1="222.2" x2="653" y2="224.6" stroke="#222" stroke-width="1.0"/>
<text x="653" y="232.1" font-size="7.8" fill="#646464" stroke="#646464" stroke-width="0.2" text-anchor="middle" transform="matrix(1 0 0 1.18 0 -41.27)">900</text>
<line x1="672.4" y1="222.2" x2="672.4" y2="224.6" stroke="#222" stroke-width="1.0"/>
<text x="672.4" y="232.1" font-size="7.8" fill="#646464" stroke="#646464" stroke-width="0.2" text-anchor="middle" transform="matrix(1 0 0 1.18 0 -41.27)">910</text>
<text x="631.3" y="241.3" font-size="8.4" fill="#1a1a1a" stroke="#1a1a1a" stroke-width="0.2" text-anchor="middle">Residue Position</text>
<text x="579.6" y="127.2" font-size="8.4" font-weight="bold" fill="#111" stroke="#111" stroke-width="0.25">N-term 2A</text>
<text x="4" y="255.9" font-size="13" font-weight="bold" fill="#111" stroke="#111" stroke-width="0.25">i</text>
<text x="31.9" y="253.3" font-size="8.4" font-weight="bold" fill="#2468b0" stroke="#2468b0" stroke-width="0.25">8 AA Insertion</text>
<text x="47" y="263" font-size="8.4" font-weight="bold" fill="#2468b0" stroke="#2468b0" stroke-width="0.25">Capsid</text>
<polygon points="42.46,340.14 45.83,339.04 49.19,337.86 52.56,336.6 55.92,335.25 59.28,333.83 62.65,332.32 66.01,330.73 69.38,329.06 72.74,327.3 76.1,325.47 79.47,323.55 82.83,321.55 86.19,319.47 89.56,317.31 92.92,315.07 96.29,312.74 96.29,324.37 92.92,325.1 89.56,325.92 86.19,326.81 82.83,327.79 79.47,328.85 76.1,329.99 72.74,331.21 69.38,332.52 66.01,333.9 62.65,335.37 59.28,336.92 55.92,338.55 52.56,340.27 49.19,342.06 45.83,343.94 42.46,345.9" fill="#c8c8c8" opacity="0.8"/>
<circle cx="43.87" cy="344.91" r="0.9" fill="#2f6fb5"/>
<circle cx="43.8" cy="339.21" r="0.9" fill="#2f6fb5"/>
<circle cx="44.77" cy="338.47" r="0.9" fill="#2f6fb5"/>
<circle cx="46.86" cy="346.66" r="0.9" fill="#2f6fb5"/>
<circle cx="45.41" cy="341.31" r="0.9" fill="#2f6fb5"/>
<circle cx="43.67" cy="343.28" r="0.9" fill="#2f6fb5"/>
<circle cx="44.28" cy="339.31" r="0.9" fill="#2f6fb5"/>
<circle cx="45.69" cy="338.95" r="0.9" fill="#2f6fb5"/>
<circle cx="44.78" cy="344.21" r="0.9" fill="#2f6fb5"/>
<circle cx="46.49" cy="344.2" r="0.9" fill="#2f6fb5"/>
<circle cx="43.11" cy="344.26" r="0.9" fill="#2f6fb5"/>
<circle cx="43.76" cy="337.46" r="0.9" fill="#2f6fb5"/>
<circle cx="44.04" cy="345.33" r="0.9" fill="#2f6fb5"/>
<circle cx="43.65" cy="339.56" r="0.9" fill="#2f6fb5"/>
<circle cx="45.92" cy="340.34" r="0.9" fill="#2f6fb5"/>
<circle cx="45.06" cy="343.73" r="0.9" fill="#2f6fb5"/>
<circle cx="46.51" cy="344.77" r="0.9" fill="#2f6fb5"/>
<circle cx="45.21" cy="346.94" r="0.9" fill="#2f6fb5"/>
<circle cx="46.24" cy="343.32" r="0.9" fill="#2f6fb5"/>
<circle cx="47.27" cy="338.85" r="0.9" fill="#2f6fb5"/>
<circle cx="45.54" cy="340.55" r="0.9" fill="#2f6fb5"/>
<circle cx="47.18" cy="343.47" r="0.9" fill="#2f6fb5"/>
<circle cx="46.49" cy="327.04" r="0.9" fill="#2f6fb5"/>
<circle cx="52.52" cy="332.12" r="0.9" fill="#2f6fb5"/>
<circle cx="50.01" cy="337.2" r="0.9" fill="#2f6fb5"/>
<circle cx="47.49" cy="338.72" r="0.9" fill="#2f6fb5"/>
<circle cx="75.16" cy="324.5" r="0.9" fill="#2f6fb5"/>
<circle cx="72.64" cy="328.06" r="0.9" fill="#2f6fb5"/>
<circle cx="76.17" cy="343.3" r="0.9" fill="#2f6fb5"/>
<circle cx="96.29" cy="313.32" r="0.9" fill="#2f6fb5"/>
<circle cx="80.19" cy="327.04" r="0.9" fill="#2f6fb5"/>
<circle cx="52.52" cy="335.17" r="0.9" fill="#2f6fb5"/>
<line x1="42.46" y1="343.02" x2="96.29" y2="318.56" stroke="#111" stroke-width="1.2"/>
<line x1="20.7" y1="267" x2="20.7" y2="355.8" stroke="#111" stroke-width="1.5"/>
<line x1="20.1" y1="355.8" x2="109.7" y2="355.8" stroke="#111" stroke-width="1.5"/>
<line x1="18.3" y1="337.2" x2="20.7" y2="337.2" stroke="#222" stroke-width="1.0"/>
<text x="16.7" y="340" font-size="7.8" fill="#646464" stroke="#646464" stroke-width="0.2" text-anchor="end" transform="matrix(1 0 0 1.18 0 -60.69)">−5</text>
<line x1="39.95" y1="355.8" x2="39.95" y2="358.2" stroke="#222" stroke-width="1.0"/>
<text x="39.95" y="365.9" font-size="7.8" fill="#646464" stroke="#646464" stroke-width="0.2" text-anchor="middle" transform="matrix(1 0 0 1.18 0 -65.36)">−5</text>
<line x1="18.3" y1="311.8" x2="20.7" y2="311.8" stroke="#222" stroke-width="1.0"/>
<text x="16.7" y="314.6" font-size="7.8" fill="#646464" stroke="#646464" stroke-width="0.2" text-anchor="end" transform="matrix(1 0 0 1.18 0 -56.12)">0</text>
<line x1="65.1" y1="355.8" x2="65.1" y2="358.2" stroke="#222" stroke-width="1.0"/>
<text x="65.1" y="365.9" font-size="7.8" fill="#646464" stroke="#646464" stroke-width="0.2" text-anchor="middle" transform="matrix(1 0 0 1.18 0 -65.36)">0</text>
<line x1="18.3" y1="286.4" x2="20.7" y2="286.4" stroke="#222" stroke-width="1.0"/>
<text x="16.7" y="289.2" font-size="7.8" fill="#646464" stroke="#646464" stroke-width="0.2" text-anchor="end" transform="matrix(1 0 0 1.18 0 -51.55)">5</text>
<line x1="90.25" y1="355.8" x2="90.25" y2="358.2" stroke="#222" stroke-width="1.0"/>
<text x="90.25" y="365.9" font-size="7.8" fill="#646464" stroke="#646464" stroke-width="0.2" text-anchor="middle" transform="matrix(1 0 0 1.18 0 -65.36)">5</text>
<text x="65.2" y="375.6" font-size="8.5" fill="#1a1a1a" stroke="#1a1a1a" stroke-width="0.2" text-anchor="middle">Enrich2 Score</text>
<text x="22.5" y="270.9" font-size="7.3" fill="#111" stroke="#111" stroke-width="0.2">score<tspan font-size="4.7" dy="1.5">wt</tspan><tspan dy="-1.5">=0.45(score)-4.12</tspan></text>
<text x="22.5" y="281.2" font-size="7.3" fill="#111" stroke="#111" stroke-width="0.2">R<tspan font-size="4.6" dy="-2.7">2</tspan><tspan dy="2.7">= 0.63</tspan></text>
<text x="119.3" y="255.9" font-size="13" font-weight="bold" fill="#111" stroke="#111" stroke-width="0.25">j</text>
<text x="145.9" y="253.3" font-size="8.4" font-weight="bold" fill="#2468b0" stroke="#2468b0" stroke-width="0.25">8 AA Insertion</text>
<text x="152.3" y="263" font-size="8.4" font-weight="bold" fill="#2468b0" stroke="#2468b0" stroke-width="0.25">Replication</text>
<polygon points="145.83,339.66 149.51,338.08 153.19,336.44 156.86,334.74 160.54,332.96 164.22,331.13 167.9,329.22 171.58,327.26 175.25,325.22 178.93,323.13 182.61,320.96 186.29,318.73 189.97,316.44 193.65,314.08 197.32,311.66 201,309.17 204.68,306.61 204.68,315.74 201,317.05 197.32,318.42 193.65,319.86 189.97,321.37 186.29,322.94 182.61,324.57 178.93,326.27 175.25,328.04 171.58,329.87 167.9,331.76 164.22,333.73 160.54,335.75 156.86,337.84 153.19,340 149.51,342.22 145.83,344.51" fill="#c8c8c8" opacity="0.8"/>
<circle cx="150.9" cy="343.08" r="0.9" fill="#2f6fb5"/>
<circle cx="150.04" cy="338.98" r="0.9" fill="#2f6fb5"/>
<circle cx="149.22" cy="339" r="0.9" fill="#2f6fb5"/>
<circle cx="146.93" cy="339.74" r="0.9" fill="#2f6fb5"/>
<circle cx="146.41" cy="338.63" r="0.9" fill="#2f6fb5"/>
<circle cx="147.96" cy="341.79" r="0.9" fill="#2f6fb5"/>
<circle cx="147.79" cy="342.4" r="0.9" fill="#2f6fb5"/>
<circle cx="150.53" cy="343.4" r="0.9" fill="#2f6fb5"/>
<circle cx="147.73" cy="339.73" r="0.9" fill="#2f6fb5"/>
<circle cx="148.93" cy="343.01" r="0.9" fill="#2f6fb5"/>
<circle cx="148.85" cy="343.48" r="0.9" fill="#2f6fb5"/>
<circle cx="150.49" cy="343.1" r="0.9" fill="#2f6fb5"/>
<circle cx="149.44" cy="339.06" r="0.9" fill="#2f6fb5"/>
<circle cx="150.27" cy="339.56" r="0.9" fill="#2f6fb5"/>
<circle cx="146.53" cy="339.93" r="0.9" fill="#2f6fb5"/>
<circle cx="147.92" cy="339.74" r="0.9" fill="#2f6fb5"/>
<circle cx="150.17" cy="339.95" r="0.9" fill="#2f6fb5"/>
<circle cx="147.7" cy="340.37" r="0.9" fill="#2f6fb5"/>
<circle cx="146.89" cy="339.61" r="0.9" fill="#2f6fb5"/>
<circle cx="147.71" cy="338.65" r="0.9" fill="#2f6fb5"/>
<circle cx="148.26" cy="344.5" r="0.9" fill="#2f6fb5"/>
<circle cx="147.8" cy="338.38" r="0.9" fill="#2f6fb5"/>
<circle cx="146.84" cy="324.28" r="0.9" fill="#2f6fb5"/>
<circle cx="149.35" cy="326.82" r="0.9" fill="#2f6fb5"/>
<circle cx="148.34" cy="330.38" r="0.9" fill="#2f6fb5"/>
<circle cx="149.35" cy="332.92" r="0.9" fill="#2f6fb5"/>
<circle cx="149.85" cy="325.81" r="0.9" fill="#2f6fb5"/>
<circle cx="164.44" cy="344.6" r="0.9" fill="#2f6fb5"/>
<circle cx="171.99" cy="341.05" r="0.9" fill="#2f6fb5"/>
<circle cx="177.01" cy="343.59" r="0.9" fill="#2f6fb5"/>
<circle cx="182.04" cy="320.22" r="0.9" fill="#2f6fb5"/>
<circle cx="184.56" cy="318.7" r="0.9" fill="#2f6fb5"/>
<circle cx="194.62" cy="314.12" r="0.9" fill="#2f6fb5"/>
<circle cx="199.65" cy="311.58" r="0.9" fill="#2f6fb5"/>
<circle cx="202.16" cy="308.54" r="0.9" fill="#2f6fb5"/>
<circle cx="204.68" cy="307.52" r="0.9" fill="#2f6fb5"/>
<circle cx="203.67" cy="308.03" r="0.9" fill="#2f6fb5"/>
<circle cx="197.64" cy="312.6" r="0.9" fill="#2f6fb5"/>
<line x1="145.83" y1="342.08" x2="204.68" y2="311.18" stroke="#111" stroke-width="1.2"/>
<line x1="130.2" y1="267" x2="130.2" y2="356.4" stroke="#111" stroke-width="1.5"/>
<line x1="129.6" y1="356.4" x2="219.2" y2="356.4" stroke="#111" stroke-width="1.5"/>
<line x1="127.8" y1="338" x2="130.2" y2="338" stroke="#222" stroke-width="1.0"/>
<text x="126.2" y="340.8" font-size="7.8" fill="#646464" stroke="#646464" stroke-width="0.2" text-anchor="end" transform="matrix(1 0 0 1.18 0 -60.84)">−5</text>
<line x1="149.35" y1="356.4" x2="149.35" y2="358.8" stroke="#222" stroke-width="1.0"/>
<text x="149.35" y="366.5" font-size="7.8" fill="#646464" stroke="#646464" stroke-width="0.2" text-anchor="middle" transform="matrix(1 0 0 1.18 0 -65.46)">−5</text>
<line x1="127.8" y1="312.6" x2="130.2" y2="312.6" stroke="#222" stroke-width="1.0"/>
<text x="126.2" y="315.4" font-size="7.8" fill="#646464" stroke="#646464" stroke-width="0.2" text-anchor="end" transform="matrix(1 0 0 1.18 0 -56.27)">0</text>
<line x1="174.5" y1="356.4" x2="174.5" y2="358.8" stroke="#222" stroke-width="1.0"/>
<text x="174.5" y="366.5" font-size="7.8" fill="#646464" stroke="#646464" stroke-width="0.2" text-anchor="middle" transform="matrix(1 0 0 1.18 0 -65.46)">0</text>
<line x1="127.8" y1="287.2" x2="130.2" y2="287.2" stroke="#222" stroke-width="1.0"/>
<text x="126.2" y="290" font-size="7.8" fill="#646464" stroke="#646464" stroke-width="0.2" text-anchor="end" transform="matrix(1 0 0 1.18 0 -51.69)">5</text>
<line x1="199.65" y1="356.4" x2="199.65" y2="358.8" stroke="#222" stroke-width="1.0"/>
<text x="199.65" y="366.5" font-size="7.8" fill="#646464" stroke="#646464" stroke-width="0.2" text-anchor="middle" transform="matrix(1 0 0 1.18 0 -65.46)">5</text>
<text x="174.7" y="375.6" font-size="8.5" fill="#1a1a1a" stroke="#1a1a1a" stroke-width="0.2" text-anchor="middle">Enrich2 Score</text>
<text x="132" y="270.9" font-size="7.3" fill="#111" stroke="#111" stroke-width="0.2">score<tspan font-size="4.7" dy="1.5">WT</tspan><tspan dy="-1.5">=0.52(score)-2.84</tspan></text>
<text x="132" y="281.2" font-size="7.3" fill="#111" stroke="#111" stroke-width="0.2">R<tspan font-size="4.6" dy="-2.7">2</tspan><tspan dy="2.7">= 0.71</tspan></text>
<text x="232.4" y="255.9" font-size="13" font-weight="bold" fill="#111" stroke="#111" stroke-width="0.25">k</text>
<text x="256.9" y="253.3" font-size="8.4" font-weight="bold" fill="#a81c2e" stroke="#a81c2e" stroke-width="0.25">1,2,3 AA Deletion</text>
<text x="277.3" y="263" font-size="8.4" font-weight="bold" fill="#a81c2e" stroke="#a81c2e" stroke-width="0.25">Capsid</text>
<polygon points="275.01,338.44 278.13,335.97 281.24,333.43 284.35,330.81 287.46,328.11 290.57,325.33 293.69,322.48 296.8,319.54 299.91,316.53 303.02,313.45 306.14,310.28 309.25,307.04 312.36,303.72 315.47,300.32 318.59,296.84 321.7,293.29 324.81,289.65 324.81,301.16 321.7,303.24 318.59,305.41 315.47,307.65 312.36,309.98 309.25,312.37 306.14,314.85 303.02,317.41 299.91,320.04 296.8,322.75 293.69,325.54 290.57,328.41 287.46,331.35 284.35,334.37 281.24,337.47 278.13,340.65 275.01,343.9" fill="#c8c8c8" opacity="0.8"/>
<circle cx="276.94" cy="338.99" r="0.9" fill="#b1212a"/>
<circle cx="275.18" cy="335.64" r="0.9" fill="#b1212a"/>
<circle cx="277.71" cy="333.39" r="0.9" fill="#b1212a"/>
<circle cx="277.47" cy="341" r="0.9" fill="#b1212a"/>
<circle cx="277.09" cy="341.93" r="0.9" fill="#b1212a"/>
<circle cx="275.02" cy="342.29" r="0.9" fill="#b1212a"/>
<circle cx="276.1" cy="342.28" r="0.9" fill="#b1212a"/>
<circle cx="276.68" cy="343.12" r="0.9" fill="#b1212a"/>
<circle cx="277.78" cy="338.06" r="0.9" fill="#b1212a"/>
<circle cx="277.85" cy="328.99" r="0.9" fill="#b1212a"/>
<circle cx="276.28" cy="336.37" r="0.9" fill="#b1212a"/>
<circle cx="275.42" cy="330.97" r="0.9" fill="#b1212a"/>
<circle cx="276.01" cy="338.98" r="0.9" fill="#b1212a"/>
<circle cx="277.08" cy="343.03" r="0.9" fill="#b1212a"/>
<circle cx="276.06" cy="344.14" r="0.9" fill="#b1212a"/>
<circle cx="275.02" cy="338.95" r="0.9" fill="#b1212a"/>
<circle cx="277.8" cy="338.15" r="0.9" fill="#b1212a"/>
<circle cx="277.81" cy="345.09" r="0.9" fill="#b1212a"/>
<circle cx="275.62" cy="329.93" r="0.9" fill="#b1212a"/>
<circle cx="276.29" cy="336.59" r="0.9" fill="#b1212a"/>
<circle cx="277.03" cy="343.94" r="0.9" fill="#b1212a"/>
<circle cx="277.43" cy="344.42" r="0.9" fill="#b1212a"/>
<circle cx="275.36" cy="335.09" r="0.9" fill="#b1212a"/>
<circle cx="275.64" cy="339.34" r="0.9" fill="#b1212a"/>
<circle cx="276.33" cy="332.11" r="0.9" fill="#b1212a"/>
<circle cx="276.77" cy="337.45" r="0.9" fill="#b1212a"/>
<circle cx="276.07" cy="334.18" r="0.9" fill="#b1212a"/>
<circle cx="276.83" cy="334.72" r="0.9" fill="#b1212a"/>
<circle cx="275.41" cy="329.73" r="0.9" fill="#b1212a"/>
<circle cx="276.34" cy="342.52" r="0.9" fill="#b1212a"/>
<circle cx="276.99" cy="345.16" r="0.9" fill="#b1212a"/>
<circle cx="277.64" cy="336.07" r="0.9" fill="#b1212a"/>
<circle cx="277.56" cy="344.85" r="0.9" fill="#b1212a"/>
<circle cx="278.03" cy="333.78" r="0.9" fill="#b1212a"/>
<circle cx="275.79" cy="341.88" r="0.9" fill="#b1212a"/>
<circle cx="275.94" cy="340.15" r="0.9" fill="#b1212a"/>
<circle cx="276.68" cy="331.9" r="0.9" fill="#b1212a"/>
<circle cx="277.49" cy="335.88" r="0.9" fill="#b1212a"/>
<circle cx="277.99" cy="332.27" r="0.9" fill="#b1212a"/>
<circle cx="277.66" cy="346.46" r="0.9" fill="#b1212a"/>
<circle cx="275.6" cy="340.18" r="0.9" fill="#b1212a"/>
<circle cx="277.44" cy="340.41" r="0.9" fill="#b1212a"/>
<circle cx="275.78" cy="341.71" r="0.9" fill="#b1212a"/>
<circle cx="275.05" cy="342.96" r="0.9" fill="#b1212a"/>
<circle cx="275.32" cy="329.55" r="0.9" fill="#b1212a"/>
<circle cx="276.06" cy="321.22" r="0.9" fill="#b1212a"/>
<circle cx="277.34" cy="327.68" r="0.9" fill="#b1212a"/>
<circle cx="277.61" cy="326.13" r="0.9" fill="#b1212a"/>
<circle cx="277.74" cy="322.9" r="0.9" fill="#b1212a"/>
<circle cx="276.94" cy="328.53" r="0.9" fill="#b1212a"/>
<circle cx="277.51" cy="327.06" r="0.9" fill="#b1212a"/>
<circle cx="277.82" cy="323.95" r="0.9" fill="#b1212a"/>
<circle cx="276.24" cy="327.6" r="0.9" fill="#b1212a"/>
<circle cx="284.57" cy="322.18" r="0.9" fill="#b1212a"/>
<circle cx="287.09" cy="321.16" r="0.9" fill="#b1212a"/>
<circle cx="285.58" cy="321.67" r="0.9" fill="#b1212a"/>
<circle cx="292.12" cy="321.16" r="0.9" fill="#b1212a"/>
<circle cx="297.15" cy="319.13" r="0.9" fill="#b1212a"/>
<circle cx="299.66" cy="318.11" r="0.9" fill="#b1212a"/>
<circle cx="302.68" cy="332.84" r="0.9" fill="#b1212a"/>
<circle cx="307.21" cy="309.48" r="0.9" fill="#b1212a"/>
<circle cx="310.73" cy="312.52" r="0.9" fill="#b1212a"/>
<circle cx="313.74" cy="307.44" r="0.9" fill="#b1212a"/>
<circle cx="319.78" cy="303.38" r="0.9" fill="#b1212a"/>
<circle cx="324.81" cy="293.22" r="0.9" fill="#b1212a"/>
<circle cx="294.63" cy="323.7" r="0.9" fill="#b1212a"/>
<circle cx="280.55" cy="335.38" r="0.9" fill="#b1212a"/>
<line x1="275.01" y1="341.17" x2="324.81" y2="295.4" stroke="#111" stroke-width="1.2"/>
<line x1="245.5" y1="267" x2="245.5" y2="354.7" stroke="#111" stroke-width="1.5"/>
<line x1="244.9" y1="354.7" x2="334.5" y2="354.7" stroke="#111" stroke-width="1.5"/>
<line x1="243.1" y1="336.4" x2="245.5" y2="336.4" stroke="#222" stroke-width="1.0"/>
<text x="241.5" y="339.2" font-size="7.8" fill="#646464" stroke="#646464" stroke-width="0.2" text-anchor="end" transform="matrix(1 0 0 1.18 0 -60.55)">−5</text>
<line x1="264.45" y1="354.7" x2="264.45" y2="357.1" stroke="#222" stroke-width="1.0"/>
<text x="264.45" y="364.8" font-size="7.8" fill="#646464" stroke="#646464" stroke-width="0.2" text-anchor="middle" transform="matrix(1 0 0 1.18 0 -65.16)">−5</text>
<line x1="243.1" y1="311" x2="245.5" y2="311" stroke="#222" stroke-width="1.0"/>
<text x="241.5" y="313.8" font-size="7.8" fill="#646464" stroke="#646464" stroke-width="0.2" text-anchor="end" transform="matrix(1 0 0 1.18 0 -55.98)">0</text>
<line x1="289.6" y1="354.7" x2="289.6" y2="357.1" stroke="#222" stroke-width="1.0"/>
<text x="289.6" y="364.8" font-size="7.8" fill="#646464" stroke="#646464" stroke-width="0.2" text-anchor="middle" transform="matrix(1 0 0 1.18 0 -65.16)">0</text>
<line x1="243.1" y1="285.6" x2="245.5" y2="285.6" stroke="#222" stroke-width="1.0"/>
<text x="241.5" y="288.4" font-size="7.8" fill="#646464" stroke="#646464" stroke-width="0.2" text-anchor="end" transform="matrix(1 0 0 1.18 0 -51.41)">5</text>
<line x1="314.75" y1="354.7" x2="314.75" y2="357.1" stroke="#222" stroke-width="1.0"/>
<text x="314.75" y="364.8" font-size="7.8" fill="#646464" stroke="#646464" stroke-width="0.2" text-anchor="middle" transform="matrix(1 0 0 1.18 0 -65.16)">5</text>
<text x="290" y="375.6" font-size="8.5" fill="#1a1a1a" stroke="#1a1a1a" stroke-width="0.2" text-anchor="middle">Enrich2 Score</text>
<text x="247.3" y="270.9" font-size="7.3" fill="#111" stroke="#111" stroke-width="0.2">score<tspan font-size="4.7" dy="1.5">WT</tspan><tspan dy="-1.5">=0.91(score)-3.30</tspan></text>
<text x="247.3" y="281.2" font-size="7.3" fill="#111" stroke="#111" stroke-width="0.2">R<tspan font-size="4.6" dy="-2.7">2</tspan><tspan dy="2.7">= 0.70</tspan></text>
<text x="348.4" y="255.9" font-size="13" font-weight="bold" fill="#111" stroke="#111" stroke-width="0.25">l</text>
<text x="373.3" y="253.3" font-size="8.4" font-weight="bold" fill="#a81c2e" stroke="#a81c2e" stroke-width="0.25">1,2,3 AA Deletion</text>
<text x="385.2" y="263" font-size="8.4" font-weight="bold" fill="#a81c2e" stroke="#a81c2e" stroke-width="0.25">Replication</text>
<polygon points="376.33,342.23 380.42,340.3 384.5,338.32 388.59,336.29 392.68,334.2 396.76,332.06 400.85,329.87 404.94,327.62 409.02,325.32 413.11,322.97 417.2,320.56 421.28,318.1 425.37,315.58 429.46,313.01 433.55,310.39 437.63,307.71 441.72,304.98 441.72,312.22 437.63,313.94 433.55,315.72 429.46,317.56 425.37,319.45 421.28,321.39 417.2,323.39 413.11,325.43 409.02,327.54 404.94,329.69 400.85,331.9 396.76,334.17 392.68,336.49 388.59,338.86 384.5,341.28 380.42,343.76 376.33,346.29" fill="#c8c8c8" opacity="0.8"/>
<circle cx="380.79" cy="344.93" r="0.9" fill="#b1212a"/>
<circle cx="380.38" cy="340.75" r="0.9" fill="#b1212a"/>
<circle cx="380.29" cy="339.78" r="0.9" fill="#b1212a"/>
<circle cx="381.28" cy="339.37" r="0.9" fill="#b1212a"/>
<circle cx="381.99" cy="340.68" r="0.9" fill="#b1212a"/>
<circle cx="382.15" cy="339.06" r="0.9" fill="#b1212a"/>
<circle cx="381.99" cy="341.43" r="0.9" fill="#b1212a"/>
<circle cx="383.03" cy="340.46" r="0.9" fill="#b1212a"/>
<circle cx="383.43" cy="338.59" r="0.9" fill="#b1212a"/>
<circle cx="380.86" cy="340.38" r="0.9" fill="#b1212a"/>
<circle cx="381.72" cy="341.84" r="0.9" fill="#b1212a"/>
<circle cx="383.4" cy="337.44" r="0.9" fill="#b1212a"/>
<circle cx="380.72" cy="337.8" r="0.9" fill="#b1212a"/>
<circle cx="382.06" cy="340.14" r="0.9" fill="#b1212a"/>
<circle cx="384.19" cy="339.23" r="0.9" fill="#b1212a"/>
<circle cx="381.06" cy="340.39" r="0.9" fill="#b1212a"/>
<circle cx="382.71" cy="337.41" r="0.9" fill="#b1212a"/>
<circle cx="384.59" cy="335.4" r="0.9" fill="#b1212a"/>
<circle cx="379.57" cy="341.15" r="0.9" fill="#b1212a"/>
<circle cx="379.98" cy="340.55" r="0.9" fill="#b1212a"/>
<circle cx="384.25" cy="341.78" r="0.9" fill="#b1212a"/>
<circle cx="383.38" cy="344.71" r="0.9" fill="#b1212a"/>
<circle cx="378.54" cy="339.51" r="0.9" fill="#b1212a"/>
<circle cx="381.84" cy="343.21" r="0.9" fill="#b1212a"/>
<circle cx="379.24" cy="344.08" r="0.9" fill="#b1212a"/>
<circle cx="380.71" cy="336.55" r="0.9" fill="#b1212a"/>
<circle cx="384.16" cy="336.21" r="0.9" fill="#b1212a"/>
<circle cx="379.13" cy="339.32" r="0.9" fill="#b1212a"/>
<circle cx="382.75" cy="342.41" r="0.9" fill="#b1212a"/>
<circle cx="381.21" cy="336.9" r="0.9" fill="#b1212a"/>
<circle cx="382.07" cy="341.65" r="0.9" fill="#b1212a"/>
<circle cx="383.02" cy="335.48" r="0.9" fill="#b1212a"/>
<circle cx="379.18" cy="338.49" r="0.9" fill="#b1212a"/>
<circle cx="382.47" cy="345.33" r="0.9" fill="#b1212a"/>
<circle cx="384.4" cy="336.6" r="0.9" fill="#b1212a"/>
<circle cx="380.81" cy="337.21" r="0.9" fill="#b1212a"/>
<circle cx="380.85" cy="338.77" r="0.9" fill="#b1212a"/>
<circle cx="382.32" cy="341.13" r="0.9" fill="#b1212a"/>
<circle cx="380.46" cy="335.02" r="0.9" fill="#b1212a"/>
<circle cx="381.23" cy="341.65" r="0.9" fill="#b1212a"/>
<circle cx="382.9" cy="339.58" r="0.9" fill="#b1212a"/>
<circle cx="384.82" cy="335.92" r="0.9" fill="#b1212a"/>
<circle cx="380.56" cy="343.36" r="0.9" fill="#b1212a"/>
<circle cx="380.43" cy="337.86" r="0.9" fill="#b1212a"/>
<circle cx="379.21" cy="336.81" r="0.9" fill="#b1212a"/>
<circle cx="380.7" cy="340.89" r="0.9" fill="#b1212a"/>
<circle cx="382.41" cy="338.14" r="0.9" fill="#b1212a"/>
<circle cx="378.86" cy="340.86" r="0.9" fill="#b1212a"/>
<circle cx="379.02" cy="336.2" r="0.9" fill="#b1212a"/>
<circle cx="384.74" cy="338.12" r="0.9" fill="#b1212a"/>
<circle cx="383.85" cy="335.22" r="0.9" fill="#b1212a"/>
<circle cx="382.93" cy="342.58" r="0.9" fill="#b1212a"/>
<circle cx="378.69" cy="341.34" r="0.9" fill="#b1212a"/>
<circle cx="381.23" cy="337.13" r="0.9" fill="#b1212a"/>
<circle cx="383.68" cy="341.01" r="0.9" fill="#b1212a"/>
<circle cx="383.92" cy="341.21" r="0.9" fill="#b1212a"/>
<circle cx="381.56" cy="337.17" r="0.9" fill="#b1212a"/>
<circle cx="381.09" cy="336.31" r="0.9" fill="#b1212a"/>
<circle cx="382.57" cy="334.29" r="0.9" fill="#b1212a"/>
<circle cx="381.52" cy="343.49" r="0.9" fill="#b1212a"/>
<circle cx="382.26" cy="341.69" r="0.9" fill="#b1212a"/>
<circle cx="381.78" cy="343.39" r="0.9" fill="#b1212a"/>
<circle cx="380.4" cy="343.91" r="0.9" fill="#b1212a"/>
<circle cx="383.99" cy="336.3" r="0.9" fill="#b1212a"/>
<circle cx="385.02" cy="340.43" r="0.9" fill="#b1212a"/>
<circle cx="383.24" cy="335.41" r="0.9" fill="#b1212a"/>
<circle cx="384.2" cy="338.75" r="0.9" fill="#b1212a"/>
<circle cx="384.19" cy="336.53" r="0.9" fill="#b1212a"/>
<circle cx="380.36" cy="340.51" r="0.9" fill="#b1212a"/>
<circle cx="380.5" cy="338.57" r="0.9" fill="#b1212a"/>
<circle cx="381.16" cy="347.51" r="0.9" fill="#b1212a"/>
<circle cx="378.96" cy="336.07" r="0.9" fill="#b1212a"/>
<circle cx="381.69" cy="338.64" r="0.9" fill="#b1212a"/>
<circle cx="382.13" cy="338.34" r="0.9" fill="#b1212a"/>
<circle cx="380.4" cy="336.48" r="0.9" fill="#b1212a"/>
<circle cx="381.12" cy="336.75" r="0.9" fill="#b1212a"/>
<circle cx="386.92" cy="335.25" r="0.9" fill="#b1212a"/>
<circle cx="381.41" cy="335.71" r="0.9" fill="#b1212a"/>
<circle cx="382.66" cy="340.61" r="0.9" fill="#b1212a"/>
<circle cx="384.44" cy="339.74" r="0.9" fill="#b1212a"/>
<circle cx="383.85" cy="333.99" r="0.9" fill="#b1212a"/>
<circle cx="380.69" cy="338.65" r="0.9" fill="#b1212a"/>
<circle cx="385.32" cy="343.44" r="0.9" fill="#b1212a"/>
<circle cx="379.28" cy="337.25" r="0.9" fill="#b1212a"/>
<circle cx="382.62" cy="337.51" r="0.9" fill="#b1212a"/>
<circle cx="383.19" cy="341.61" r="0.9" fill="#b1212a"/>
<circle cx="383.2" cy="340.17" r="0.9" fill="#b1212a"/>
<circle cx="382.45" cy="337.21" r="0.9" fill="#b1212a"/>
<circle cx="380.96" cy="338.74" r="0.9" fill="#b1212a"/>
<circle cx="383.01" cy="338.57" r="0.9" fill="#b1212a"/>
<circle cx="380.69" cy="327.3" r="0.9" fill="#b1212a"/>
<circle cx="380.97" cy="326.36" r="0.9" fill="#b1212a"/>
<circle cx="380.44" cy="326.41" r="0.9" fill="#b1212a"/>
<circle cx="380.46" cy="329.99" r="0.9" fill="#b1212a"/>
<circle cx="382.5" cy="328.14" r="0.9" fill="#b1212a"/>
<circle cx="380.73" cy="329.1" r="0.9" fill="#b1212a"/>
<circle cx="383.25" cy="324.19" r="0.9" fill="#b1212a"/>
<circle cx="382.76" cy="330.71" r="0.9" fill="#b1212a"/>
<circle cx="382.96" cy="332.55" r="0.9" fill="#b1212a"/>
<circle cx="383.36" cy="332.74" r="0.9" fill="#b1212a"/>
<circle cx="389.91" cy="341.68" r="0.9" fill="#b1212a"/>
<circle cx="390.92" cy="342.7" r="0.9" fill="#b1212a"/>
<circle cx="399.97" cy="315.26" r="0.9" fill="#b1212a"/>
<circle cx="405" cy="330.5" r="0.9" fill="#b1212a"/>
<circle cx="406.51" cy="334.06" r="0.9" fill="#b1212a"/>
<circle cx="409.02" cy="331.52" r="0.9" fill="#b1212a"/>
<circle cx="410.03" cy="328.98" r="0.9" fill="#b1212a"/>
<circle cx="411.04" cy="334.06" r="0.9" fill="#b1212a"/>
<circle cx="412.55" cy="326.44" r="0.9" fill="#b1212a"/>
<circle cx="415.06" cy="335.58" r="0.9" fill="#b1212a"/>
<circle cx="417.57" cy="321.36" r="0.9" fill="#b1212a"/>
<circle cx="409.02" cy="308.15" r="0.9" fill="#b1212a"/>
<circle cx="432.67" cy="308.66" r="0.9" fill="#b1212a"/>
<circle cx="440.21" cy="303.58" r="0.9" fill="#b1212a"/>
<circle cx="440.21" cy="308.15" r="0.9" fill="#b1212a"/>
<circle cx="435.18" cy="307.14" r="0.9" fill="#b1212a"/>
<circle cx="425.12" cy="313.74" r="0.9" fill="#b1212a"/>
<circle cx="397.45" cy="335.58" r="0.9" fill="#b1212a"/>
<circle cx="376.83" cy="328.98" r="0.9" fill="#b1212a"/>
<circle cx="376.83" cy="332.54" r="0.9" fill="#b1212a"/>
<line x1="376.33" y1="344.26" x2="441.72" y2="308.6" stroke="#111" stroke-width="1.2"/>
<line x1="360.9" y1="267" x2="360.9" y2="355.1" stroke="#111" stroke-width="1.5"/>
<line x1="360.3" y1="355.1" x2="449.9" y2="355.1" stroke="#111" stroke-width="1.5"/>
<line x1="358.5" y1="336.6" x2="360.9" y2="336.6" stroke="#222" stroke-width="1.0"/>
<text x="356.9" y="339.4" font-size="7.8" fill="#646464" stroke="#646464" stroke-width="0.2" text-anchor="end" transform="matrix(1 0 0 1.18 0 -60.59)">−5</text>
<line x1="379.85" y1="355.1" x2="379.85" y2="357.5" stroke="#222" stroke-width="1.0"/>
<text x="379.85" y="365.2" font-size="7.8" fill="#646464" stroke="#646464" stroke-width="0.2" text-anchor="middle" transform="matrix(1 0 0 1.18 0 -65.23)">−5</text>
<line x1="358.5" y1="311.2" x2="360.9" y2="311.2" stroke="#222" stroke-width="1.0"/>
<text x="356.9" y="314" font-size="7.8" fill="#646464" stroke="#646464" stroke-width="0.2" text-anchor="end" transform="matrix(1 0 0 1.18 0 -56.01)">0</text>
<line x1="405" y1="355.1" x2="405" y2="357.5" stroke="#222" stroke-width="1.0"/>
<text x="405" y="365.2" font-size="7.8" fill="#646464" stroke="#646464" stroke-width="0.2" text-anchor="middle" transform="matrix(1 0 0 1.18 0 -65.23)">0</text>
<line x1="358.5" y1="285.8" x2="360.9" y2="285.8" stroke="#222" stroke-width="1.0"/>
<text x="356.9" y="288.6" font-size="7.8" fill="#646464" stroke="#646464" stroke-width="0.2" text-anchor="end" transform="matrix(1 0 0 1.18 0 -51.44)">5</text>
<line x1="430.15" y1="355.1" x2="430.15" y2="357.5" stroke="#222" stroke-width="1.0"/>
<text x="430.15" y="365.2" font-size="7.8" fill="#646464" stroke="#646464" stroke-width="0.2" text-anchor="middle" transform="matrix(1 0 0 1.18 0 -65.23)">5</text>
<text x="405.4" y="375.6" font-size="8.5" fill="#1a1a1a" stroke="#1a1a1a" stroke-width="0.2" text-anchor="middle">Enrich2 Score</text>
<text x="362.7" y="270.9" font-size="7.3" fill="#111" stroke="#111" stroke-width="0.2">score<tspan font-size="4.7" dy="1.5">WT</tspan><tspan dy="-1.5">=0.54(score)-3.43</tspan></text>
<text x="362.7" y="281.2" font-size="7.3" fill="#111" stroke="#111" stroke-width="0.2">R<tspan font-size="4.6" dy="-2.7">2</tspan><tspan dy="2.7">= 0.72</tspan></text>
<text x="460.8" y="255.9" font-size="13" font-weight="bold" fill="#111" stroke="#111" stroke-width="0.25">m</text>
<text x="489.1" y="253.3" font-size="8.4" font-weight="bold" fill="#358039" stroke="#358039" stroke-width="0.25">AA Substitution</text>
<text x="502" y="263" font-size="8.4" font-weight="bold" fill="#358039" stroke="#358039" stroke-width="0.25">Capsid</text>
<polygon points="484.48,340.91 487.63,337.97 490.77,335 493.92,332.01 497.06,329.01 500.2,325.98 503.35,322.93 506.49,319.87 509.63,316.78 512.78,313.68 515.92,310.55 519.07,307.41 522.21,304.24 525.35,301.06 528.5,297.85 531.64,294.63 534.78,291.38 534.78,295.05 531.64,297.9 528.5,300.78 525.35,303.67 522.21,306.58 519.07,309.51 515.92,312.46 512.78,315.43 509.63,318.42 506.49,321.43 503.35,324.46 500.2,327.51 497.06,330.58 493.92,333.67 490.77,336.78 487.63,339.91 484.48,343.06" fill="#c8c8c8" opacity="0.8"/>
<circle cx="502.37" cy="325.07" r="0.9" fill="#4c8a3a"/>
<circle cx="502.38" cy="327.74" r="0.9" fill="#4c8a3a"/>
<circle cx="500.98" cy="322.47" r="0.9" fill="#4c8a3a"/>
<circle cx="496.88" cy="333.78" r="0.9" fill="#4c8a3a"/>
<circle cx="502.48" cy="324.69" r="0.9" fill="#4c8a3a"/>
<circle cx="499.15" cy="326.65" r="0.9" fill="#4c8a3a"/>
<circle cx="498.48" cy="329.36" r="0.9" fill="#4c8a3a"/>
<circle cx="495.96" cy="339.25" r="0.9" fill="#4c8a3a"/>
<circle cx="498.96" cy="324.53" r="0.9" fill="#4c8a3a"/>
<circle cx="493.81" cy="326.79" r="0.9" fill="#4c8a3a"/>
<circle cx="500.04" cy="324.2" r="0.9" fill="#4c8a3a"/>
<circle cx="499.28" cy="324.84" r="0.9" fill="#4c8a3a"/>
<circle cx="498.29" cy="329.24" r="0.9" fill="#4c8a3a"/>
<circle cx="497.83" cy="321.42" r="0.9" fill="#4c8a3a"/>
<circle cx="495.57" cy="322.41" r="0.9" fill="#4c8a3a"/>
<circle cx="497.67" cy="312.37" r="0.9" fill="#4c8a3a"/>
<circle cx="499.68" cy="324.9" r="0.9" fill="#4c8a3a"/>
<circle cx="496.55" cy="318.44" r="0.9" fill="#4c8a3a"/>
<circle cx="497.53" cy="336.41" r="0.9" fill="#4c8a3a"/>
<circle cx="500.55" cy="313" r="0.9" fill="#4c8a3a"/>
<circle cx="499.27" cy="318.06" r="0.9" fill="#4c8a3a"/>
<circle cx="499.33" cy="326" r="0.9" fill="#4c8a3a"/>
<circle cx="496.8" cy="323.19" r="0.9" fill="#4c8a3a"/>
<circle cx="501.51" cy="337.32" r="0.9" fill="#4c8a3a"/>
<circle cx="502.02" cy="342.9" r="0.9" fill="#4c8a3a"/>
<circle cx="501.78" cy="317.7" r="0.9" fill="#4c8a3a"/>
<circle cx="494.27" cy="326.41" r="0.9" fill="#4c8a3a"/>
<circle cx="495.56" cy="332.44" r="0.9" fill="#4c8a3a"/>
<circle cx="495.64" cy="317.92" r="0.9" fill="#4c8a3a"/>
<circle cx="499.56" cy="333.81" r="0.9" fill="#4c8a3a"/>
<circle cx="496.78" cy="333.36" r="0.9" fill="#4c8a3a"/>
<circle cx="496.38" cy="327.22" r="0.9" fill="#4c8a3a"/>
<circle cx="497.74" cy="328.64" r="0.9" fill="#4c8a3a"/>
<circle cx="497.03" cy="324.93" r="0.9" fill="#4c8a3a"/>
<circle cx="498.33" cy="338.95" r="0.9" fill="#4c8a3a"/>
<circle cx="498.96" cy="329.65" r="0.9" fill="#4c8a3a"/>
<circle cx="499.02" cy="331.37" r="0.9" fill="#4c8a3a"/>
<circle cx="495.34" cy="331.32" r="0.9" fill="#4c8a3a"/>
<circle cx="499.35" cy="331.7" r="0.9" fill="#4c8a3a"/>
<circle cx="496.58" cy="328.39" r="0.9" fill="#4c8a3a"/>
<circle cx="496.03" cy="320.59" r="0.9" fill="#4c8a3a"/>
<circle cx="493.48" cy="327.66" r="0.9" fill="#4c8a3a"/>
<circle cx="498.36" cy="327.56" r="0.9" fill="#4c8a3a"/>
<circle cx="500.26" cy="335.06" r="0.9" fill="#4c8a3a"/>
<circle cx="494.71" cy="329.6" r="0.9" fill="#4c8a3a"/>
<circle cx="496.29" cy="326.59" r="0.9" fill="#4c8a3a"/>
<circle cx="497.47" cy="338.08" r="0.9" fill="#4c8a3a"/>
<circle cx="499.29" cy="324.45" r="0.9" fill="#4c8a3a"/>
<circle cx="500.95" cy="327.67" r="0.9" fill="#4c8a3a"/>
<circle cx="497.47" cy="326.06" r="0.9" fill="#4c8a3a"/>
<circle cx="497.94" cy="342.92" r="0.9" fill="#4c8a3a"/>
<circle cx="500.95" cy="328.43" r="0.9" fill="#4c8a3a"/>
<circle cx="497.42" cy="332.89" r="0.9" fill="#4c8a3a"/>
<circle cx="498.71" cy="324.16" r="0.9" fill="#4c8a3a"/>
<circle cx="498.2" cy="334.13" r="0.9" fill="#4c8a3a"/>
<circle cx="501.82" cy="328.04" r="0.9" fill="#4c8a3a"/>
<circle cx="498.66" cy="329.43" r="0.9" fill="#4c8a3a"/>
<circle cx="502.07" cy="336.95" r="0.9" fill="#4c8a3a"/>
<circle cx="495.63" cy="339.21" r="0.9" fill="#4c8a3a"/>
<circle cx="494.89" cy="326.53" r="0.9" fill="#4c8a3a"/>
<circle cx="497.94" cy="324.14" r="0.9" fill="#4c8a3a"/>
<circle cx="497.18" cy="324.23" r="0.9" fill="#4c8a3a"/>
<circle cx="500.79" cy="323.43" r="0.9" fill="#4c8a3a"/>
<circle cx="500.75" cy="333.58" r="0.9" fill="#4c8a3a"/>
<circle cx="499.19" cy="323.51" r="0.9" fill="#4c8a3a"/>
<circle cx="500.03" cy="330.61" r="0.9" fill="#4c8a3a"/>
<circle cx="495.96" cy="321.37" r="0.9" fill="#4c8a3a"/>
<circle cx="494.38" cy="329.18" r="0.9" fill="#4c8a3a"/>
<circle cx="491.49" cy="327.57" r="0.9" fill="#4c8a3a"/>
<circle cx="498.85" cy="326.72" r="0.9" fill="#4c8a3a"/>
<circle cx="496.22" cy="331.8" r="0.9" fill="#4c8a3a"/>
<circle cx="495.45" cy="335.5" r="0.9" fill="#4c8a3a"/>
<circle cx="502.51" cy="330.55" r="0.9" fill="#4c8a3a"/>
<circle cx="495.86" cy="328.37" r="0.9" fill="#4c8a3a"/>
<circle cx="498.01" cy="337.83" r="0.9" fill="#4c8a3a"/>
<circle cx="499.97" cy="327.5" r="0.9" fill="#4c8a3a"/>
<circle cx="499.03" cy="321.88" r="0.9" fill="#4c8a3a"/>
<circle cx="495.68" cy="339.12" r="0.9" fill="#4c8a3a"/>
<circle cx="495.19" cy="319.43" r="0.9" fill="#4c8a3a"/>
<circle cx="504.85" cy="326.77" r="0.9" fill="#4c8a3a"/>
<circle cx="498.75" cy="328.96" r="0.9" fill="#4c8a3a"/>
<circle cx="497.12" cy="330.39" r="0.9" fill="#4c8a3a"/>
<circle cx="498.29" cy="333.93" r="0.9" fill="#4c8a3a"/>
<circle cx="494.8" cy="330.32" r="0.9" fill="#4c8a3a"/>
<circle cx="494.72" cy="338.91" r="0.9" fill="#4c8a3a"/>
<circle cx="495.7" cy="331.54" r="0.9" fill="#4c8a3a"/>
<circle cx="502.68" cy="328.42" r="0.9" fill="#4c8a3a"/>
<circle cx="494.26" cy="330.56" r="0.9" fill="#4c8a3a"/>
<circle cx="498.3" cy="325.36" r="0.9" fill="#4c8a3a"/>
<circle cx="496.9" cy="342.18" r="0.9" fill="#4c8a3a"/>
<circle cx="498.62" cy="332.31" r="0.9" fill="#4c8a3a"/>
<circle cx="497.38" cy="327.05" r="0.9" fill="#4c8a3a"/>
<circle cx="503.42" cy="342.13" r="0.9" fill="#4c8a3a"/>
<circle cx="499.33" cy="306.64" r="0.9" fill="#4c8a3a"/>
<circle cx="494.07" cy="331.68" r="0.9" fill="#4c8a3a"/>
<circle cx="497.26" cy="336.23" r="0.9" fill="#4c8a3a"/>
<circle cx="495.18" cy="330.67" r="0.9" fill="#4c8a3a"/>
<circle cx="499.57" cy="334.74" r="0.9" fill="#4c8a3a"/>
<circle cx="497.41" cy="337.23" r="0.9" fill="#4c8a3a"/>
<circle cx="500.53" cy="315.44" r="0.9" fill="#4c8a3a"/>
<circle cx="499.56" cy="320.57" r="0.9" fill="#4c8a3a"/>
<circle cx="499.02" cy="335.7" r="0.9" fill="#4c8a3a"/>
<circle cx="494.62" cy="335.22" r="0.9" fill="#4c8a3a"/>
<circle cx="500.85" cy="323.78" r="0.9" fill="#4c8a3a"/>
<circle cx="495.59" cy="321.42" r="0.9" fill="#4c8a3a"/>
<circle cx="500.7" cy="334.94" r="0.9" fill="#4c8a3a"/>
<circle cx="497.02" cy="339.31" r="0.9" fill="#4c8a3a"/>
<circle cx="496.86" cy="337.27" r="0.9" fill="#4c8a3a"/>
<circle cx="501.15" cy="322.3" r="0.9" fill="#4c8a3a"/>
<circle cx="499.17" cy="341.41" r="0.9" fill="#4c8a3a"/>
<circle cx="500.2" cy="338.61" r="0.9" fill="#4c8a3a"/>
<circle cx="493.84" cy="316.62" r="0.9" fill="#4c8a3a"/>
<circle cx="500.93" cy="323.4" r="0.9" fill="#4c8a3a"/>
<circle cx="498.28" cy="332.48" r="0.9" fill="#4c8a3a"/>
<circle cx="500.04" cy="323.07" r="0.9" fill="#4c8a3a"/>
<circle cx="497.04" cy="328.14" r="0.9" fill="#4c8a3a"/>
<circle cx="504.36" cy="334.48" r="0.9" fill="#4c8a3a"/>
<circle cx="500.65" cy="317.88" r="0.9" fill="#4c8a3a"/>
<circle cx="494.99" cy="316.78" r="0.9" fill="#4c8a3a"/>
<circle cx="498.55" cy="332.61" r="0.9" fill="#4c8a3a"/>
<circle cx="500.25" cy="318.75" r="0.9" fill="#4c8a3a"/>
<circle cx="498.15" cy="332.82" r="0.9" fill="#4c8a3a"/>
<circle cx="495.08" cy="331.83" r="0.9" fill="#4c8a3a"/>
<circle cx="498.43" cy="320.6" r="0.9" fill="#4c8a3a"/>
<circle cx="499.49" cy="330.18" r="0.9" fill="#4c8a3a"/>
<circle cx="497.35" cy="332.69" r="0.9" fill="#4c8a3a"/>
<circle cx="499.3" cy="339.87" r="0.9" fill="#4c8a3a"/>
<circle cx="497.46" cy="330.91" r="0.9" fill="#4c8a3a"/>
<circle cx="500.14" cy="330.46" r="0.9" fill="#4c8a3a"/>
<circle cx="498.39" cy="334.08" r="0.9" fill="#4c8a3a"/>
<circle cx="499.38" cy="328.32" r="0.9" fill="#4c8a3a"/>
<circle cx="499.76" cy="331.82" r="0.9" fill="#4c8a3a"/>
<circle cx="498.89" cy="310.39" r="0.9" fill="#4c8a3a"/>
<circle cx="496.9" cy="336.3" r="0.9" fill="#4c8a3a"/>
<circle cx="500.7" cy="332.3" r="0.9" fill="#4c8a3a"/>
<circle cx="494.17" cy="335.17" r="0.9" fill="#4c8a3a"/>
<circle cx="496" cy="321.52" r="0.9" fill="#4c8a3a"/>
<circle cx="498.4" cy="326.36" r="0.9" fill="#4c8a3a"/>
<circle cx="496.25" cy="330.92" r="0.9" fill="#4c8a3a"/>
<circle cx="497.08" cy="324.03" r="0.9" fill="#4c8a3a"/>
<circle cx="499.6" cy="312.28" r="0.9" fill="#4c8a3a"/>
<circle cx="503.16" cy="334.65" r="0.9" fill="#4c8a3a"/>
<circle cx="500.61" cy="323.57" r="0.9" fill="#4c8a3a"/>
<circle cx="499.31" cy="323.69" r="0.9" fill="#4c8a3a"/>
<circle cx="502.02" cy="340.86" r="0.9" fill="#4c8a3a"/>
<circle cx="501.98" cy="334.26" r="0.9" fill="#4c8a3a"/>
<circle cx="491.06" cy="334.12" r="0.9" fill="#4c8a3a"/>
<circle cx="492.06" cy="328.83" r="0.9" fill="#4c8a3a"/>
<circle cx="498.91" cy="324.24" r="0.9" fill="#4c8a3a"/>
<circle cx="496.08" cy="338.4" r="0.9" fill="#4c8a3a"/>
<circle cx="503.26" cy="326.67" r="0.9" fill="#4c8a3a"/>
<circle cx="495.98" cy="330.72" r="0.9" fill="#4c8a3a"/>
<circle cx="500" cy="328.93" r="0.9" fill="#4c8a3a"/>
<circle cx="493.88" cy="328.45" r="0.9" fill="#4c8a3a"/>
<circle cx="496" cy="317.21" r="0.9" fill="#4c8a3a"/>
<circle cx="495.96" cy="328.33" r="0.9" fill="#4c8a3a"/>
<circle cx="498.33" cy="339.81" r="0.9" fill="#4c8a3a"/>
<circle cx="500.99" cy="337.12" r="0.9" fill="#4c8a3a"/>
<circle cx="498.31" cy="334.18" r="0.9" fill="#4c8a3a"/>
<circle cx="495.48" cy="324.2" r="0.9" fill="#4c8a3a"/>
<circle cx="499.22" cy="326.89" r="0.9" fill="#4c8a3a"/>
<circle cx="498.26" cy="319.03" r="0.9" fill="#4c8a3a"/>
<circle cx="496.69" cy="340.75" r="0.9" fill="#4c8a3a"/>
<circle cx="497.45" cy="316.59" r="0.9" fill="#4c8a3a"/>
<circle cx="501.4" cy="323.17" r="0.9" fill="#4c8a3a"/>
<circle cx="500.69" cy="327.8" r="0.9" fill="#4c8a3a"/>
<circle cx="498.51" cy="340.89" r="0.9" fill="#4c8a3a"/>
<circle cx="497.34" cy="319.04" r="0.9" fill="#4c8a3a"/>
<circle cx="498.35" cy="334.06" r="0.9" fill="#4c8a3a"/>
<circle cx="499.4" cy="320.1" r="0.9" fill="#4c8a3a"/>
<circle cx="492.93" cy="333.46" r="0.9" fill="#4c8a3a"/>
<circle cx="495.42" cy="327.78" r="0.9" fill="#4c8a3a"/>
<circle cx="497.63" cy="337.67" r="0.9" fill="#4c8a3a"/>
<circle cx="498.39" cy="327.37" r="0.9" fill="#4c8a3a"/>
<circle cx="501.52" cy="323.8" r="0.9" fill="#4c8a3a"/>
<circle cx="498.29" cy="324.85" r="0.9" fill="#4c8a3a"/>
<circle cx="494.79" cy="330.88" r="0.9" fill="#4c8a3a"/>
<circle cx="496.87" cy="317.42" r="0.9" fill="#4c8a3a"/>
<circle cx="500.19" cy="328.77" r="0.9" fill="#4c8a3a"/>
<circle cx="496.34" cy="333.17" r="0.9" fill="#4c8a3a"/>
<circle cx="499.11" cy="326.08" r="0.9" fill="#4c8a3a"/>
<circle cx="497.65" cy="329.29" r="0.9" fill="#4c8a3a"/>
<circle cx="500.44" cy="343.87" r="0.9" fill="#4c8a3a"/>
<circle cx="501.78" cy="325.24" r="0.9" fill="#4c8a3a"/>
<circle cx="493.27" cy="327.96" r="0.9" fill="#4c8a3a"/>
<circle cx="501.77" cy="320.92" r="0.9" fill="#4c8a3a"/>
<circle cx="498.45" cy="335.1" r="0.9" fill="#4c8a3a"/>
<circle cx="501.83" cy="328.63" r="0.9" fill="#4c8a3a"/>
<circle cx="500.7" cy="321.38" r="0.9" fill="#4c8a3a"/>
<circle cx="497.84" cy="327.66" r="0.9" fill="#4c8a3a"/>
<circle cx="495.2" cy="330.46" r="0.9" fill="#4c8a3a"/>
<circle cx="501.11" cy="342.65" r="0.9" fill="#4c8a3a"/>
<circle cx="499.43" cy="320.43" r="0.9" fill="#4c8a3a"/>
<circle cx="494.23" cy="325.97" r="0.9" fill="#4c8a3a"/>
<circle cx="493.77" cy="326.91" r="0.9" fill="#4c8a3a"/>
<circle cx="498.37" cy="335.49" r="0.9" fill="#4c8a3a"/>
<circle cx="492.1" cy="334.12" r="0.9" fill="#4c8a3a"/>
<circle cx="500.52" cy="325.59" r="0.9" fill="#4c8a3a"/>
<circle cx="500.57" cy="317.9" r="0.9" fill="#4c8a3a"/>
<circle cx="497.35" cy="343.54" r="0.9" fill="#4c8a3a"/>
<circle cx="497.13" cy="323.86" r="0.9" fill="#4c8a3a"/>
<circle cx="500.78" cy="323.09" r="0.9" fill="#4c8a3a"/>
<circle cx="496.77" cy="333.68" r="0.9" fill="#4c8a3a"/>
<circle cx="498.7" cy="323.14" r="0.9" fill="#4c8a3a"/>
<circle cx="495.42" cy="333.34" r="0.9" fill="#4c8a3a"/>
<circle cx="502.32" cy="337.04" r="0.9" fill="#4c8a3a"/>
<circle cx="502.62" cy="332.36" r="0.9" fill="#4c8a3a"/>
<circle cx="504.85" cy="332.76" r="0.9" fill="#4c8a3a"/>
<circle cx="494.34" cy="329.25" r="0.9" fill="#4c8a3a"/>
<circle cx="494.79" cy="333.18" r="0.9" fill="#4c8a3a"/>
<circle cx="501.52" cy="332.23" r="0.9" fill="#4c8a3a"/>
<circle cx="495.04" cy="325.39" r="0.9" fill="#4c8a3a"/>
<circle cx="493.84" cy="323.22" r="0.9" fill="#4c8a3a"/>
<circle cx="498.27" cy="324.24" r="0.9" fill="#4c8a3a"/>
<circle cx="494" cy="322.56" r="0.9" fill="#4c8a3a"/>
<circle cx="499.05" cy="324.96" r="0.9" fill="#4c8a3a"/>
<circle cx="497.47" cy="328.78" r="0.9" fill="#4c8a3a"/>
<circle cx="493.54" cy="326.53" r="0.9" fill="#4c8a3a"/>
<circle cx="502.85" cy="333.69" r="0.9" fill="#4c8a3a"/>
<circle cx="499.39" cy="325.03" r="0.9" fill="#4c8a3a"/>
<circle cx="497.4" cy="332.4" r="0.9" fill="#4c8a3a"/>
<circle cx="497.37" cy="333.03" r="0.9" fill="#4c8a3a"/>
<circle cx="498.8" cy="326.64" r="0.9" fill="#4c8a3a"/>
<circle cx="497.72" cy="316" r="0.9" fill="#4c8a3a"/>
<circle cx="499.89" cy="332.7" r="0.9" fill="#4c8a3a"/>
<circle cx="496.34" cy="332.18" r="0.9" fill="#4c8a3a"/>
<circle cx="499.73" cy="324.29" r="0.9" fill="#4c8a3a"/>
<circle cx="498.09" cy="333.16" r="0.9" fill="#4c8a3a"/>
<circle cx="496.33" cy="330.35" r="0.9" fill="#4c8a3a"/>
<circle cx="501.07" cy="326.51" r="0.9" fill="#4c8a3a"/>
<circle cx="533.51" cy="295.55" r="0.9" fill="#4c8a3a"/>
<circle cx="509.13" cy="320.32" r="0.9" fill="#4c8a3a"/>
<circle cx="519.9" cy="306.81" r="0.9" fill="#4c8a3a"/>
<circle cx="511.55" cy="315.69" r="0.9" fill="#4c8a3a"/>
<circle cx="523.55" cy="308.7" r="0.9" fill="#4c8a3a"/>
<circle cx="513.25" cy="312.45" r="0.9" fill="#4c8a3a"/>
<circle cx="517.08" cy="310.09" r="0.9" fill="#4c8a3a"/>
<circle cx="508.67" cy="316.56" r="0.9" fill="#4c8a3a"/>
<circle cx="533.27" cy="293.27" r="0.9" fill="#4c8a3a"/>
<circle cx="519.46" cy="308.58" r="0.9" fill="#4c8a3a"/>
<circle cx="530.97" cy="296.57" r="0.9" fill="#4c8a3a"/>
<circle cx="514.05" cy="311.5" r="0.9" fill="#4c8a3a"/>
<circle cx="519.58" cy="308.84" r="0.9" fill="#4c8a3a"/>
<circle cx="516.56" cy="312.5" r="0.9" fill="#4c8a3a"/>
<circle cx="511.78" cy="317.39" r="0.9" fill="#4c8a3a"/>
<circle cx="530.7" cy="299.27" r="0.9" fill="#4c8a3a"/>
<circle cx="515.63" cy="307.35" r="0.9" fill="#4c8a3a"/>
<circle cx="510.19" cy="319.87" r="0.9" fill="#4c8a3a"/>
<circle cx="526.49" cy="302.47" r="0.9" fill="#4c8a3a"/>
<circle cx="508.46" cy="314.78" r="0.9" fill="#4c8a3a"/>
<circle cx="516.99" cy="310.05" r="0.9" fill="#4c8a3a"/>
<circle cx="531.95" cy="291.94" r="0.9" fill="#4c8a3a"/>
<circle cx="516.45" cy="313.89" r="0.9" fill="#4c8a3a"/>
<circle cx="512.93" cy="313.84" r="0.9" fill="#4c8a3a"/>
<circle cx="514.75" cy="311.2" r="0.9" fill="#4c8a3a"/>
<circle cx="522.72" cy="305.46" r="0.9" fill="#4c8a3a"/>
<circle cx="530.49" cy="300.03" r="0.9" fill="#4c8a3a"/>
<circle cx="518.55" cy="304.09" r="0.9" fill="#4c8a3a"/>
<circle cx="525.76" cy="300.66" r="0.9" fill="#4c8a3a"/>
<circle cx="523.73" cy="304.46" r="0.9" fill="#4c8a3a"/>
<circle cx="522.78" cy="303.96" r="0.9" fill="#4c8a3a"/>
<circle cx="518.72" cy="308.99" r="0.9" fill="#4c8a3a"/>
<circle cx="527.71" cy="299.24" r="0.9" fill="#4c8a3a"/>
<circle cx="533.9" cy="293.66" r="0.9" fill="#4c8a3a"/>
<circle cx="528.39" cy="295.43" r="0.9" fill="#4c8a3a"/>
<circle cx="524.86" cy="298.43" r="0.9" fill="#4c8a3a"/>
<circle cx="523.92" cy="300.68" r="0.9" fill="#4c8a3a"/>
<circle cx="512.69" cy="316.16" r="0.9" fill="#4c8a3a"/>
<circle cx="511.78" cy="315.65" r="0.9" fill="#4c8a3a"/>
<circle cx="509.36" cy="317.32" r="0.9" fill="#4c8a3a"/>
<circle cx="518.51" cy="312.42" r="0.9" fill="#4c8a3a"/>
<circle cx="516.45" cy="311.87" r="0.9" fill="#4c8a3a"/>
<circle cx="523.11" cy="309.41" r="0.9" fill="#4c8a3a"/>
<circle cx="531.75" cy="292.28" r="0.9" fill="#4c8a3a"/>
<circle cx="528.52" cy="305.71" r="0.9" fill="#4c8a3a"/>
<circle cx="527.05" cy="299.21" r="0.9" fill="#4c8a3a"/>
<circle cx="513.41" cy="316.11" r="0.9" fill="#4c8a3a"/>
<circle cx="529.22" cy="299.61" r="0.9" fill="#4c8a3a"/>
<circle cx="520.86" cy="306.81" r="0.9" fill="#4c8a3a"/>
<circle cx="530.77" cy="298.44" r="0.9" fill="#4c8a3a"/>
<circle cx="523.43" cy="300.3" r="0.9" fill="#4c8a3a"/>
<circle cx="519.74" cy="307.42" r="0.9" fill="#4c8a3a"/>
<circle cx="527.55" cy="301.72" r="0.9" fill="#4c8a3a"/>
<circle cx="526.38" cy="295.97" r="0.9" fill="#4c8a3a"/>
<circle cx="514.01" cy="319.36" r="0.9" fill="#4c8a3a"/>
<circle cx="521.95" cy="309.12" r="0.9" fill="#4c8a3a"/>
<circle cx="524.38" cy="304.53" r="0.9" fill="#4c8a3a"/>
<circle cx="511.47" cy="317.13" r="0.9" fill="#4c8a3a"/>
<circle cx="524.45" cy="303.55" r="0.9" fill="#4c8a3a"/>
<circle cx="521.53" cy="308.39" r="0.9" fill="#4c8a3a"/>
<circle cx="509.32" cy="312.38" r="0.9" fill="#4c8a3a"/>
<circle cx="509.73" cy="318.88" r="0.9" fill="#4c8a3a"/>
<circle cx="514.38" cy="314.5" r="0.9" fill="#4c8a3a"/>
<circle cx="510.16" cy="316.08" r="0.9" fill="#4c8a3a"/>
<circle cx="506.25" cy="323.25" r="0.9" fill="#4c8a3a"/>
<circle cx="509.64" cy="317.23" r="0.9" fill="#4c8a3a"/>
<circle cx="527.96" cy="300.46" r="0.9" fill="#4c8a3a"/>
<circle cx="512.31" cy="316.29" r="0.9" fill="#4c8a3a"/>
<circle cx="525.42" cy="306.42" r="0.9" fill="#4c8a3a"/>
<circle cx="531.71" cy="296.81" r="0.9" fill="#4c8a3a"/>
<circle cx="528.32" cy="302.33" r="0.9" fill="#4c8a3a"/>
<circle cx="512.59" cy="312.9" r="0.9" fill="#4c8a3a"/>
<circle cx="528.41" cy="302.57" r="0.9" fill="#4c8a3a"/>
<circle cx="511.14" cy="317.79" r="0.9" fill="#4c8a3a"/>
<circle cx="517.66" cy="306.35" r="0.9" fill="#4c8a3a"/>
<circle cx="532.33" cy="291.77" r="0.9" fill="#4c8a3a"/>
<circle cx="516.69" cy="313.48" r="0.9" fill="#4c8a3a"/>
<circle cx="520.65" cy="307.85" r="0.9" fill="#4c8a3a"/>
<circle cx="513.35" cy="314.06" r="0.9" fill="#4c8a3a"/>
<circle cx="517.67" cy="313.06" r="0.9" fill="#4c8a3a"/>
<circle cx="513.37" cy="314.59" r="0.9" fill="#4c8a3a"/>
<circle cx="507.22" cy="318.58" r="0.9" fill="#4c8a3a"/>
<circle cx="531.35" cy="297.82" r="0.9" fill="#4c8a3a"/>
<circle cx="518.98" cy="313.01" r="0.9" fill="#4c8a3a"/>
<circle cx="525.89" cy="297.42" r="0.9" fill="#4c8a3a"/>
<circle cx="508.78" cy="316.83" r="0.9" fill="#4c8a3a"/>
<circle cx="528.07" cy="301.77" r="0.9" fill="#4c8a3a"/>
<circle cx="514.6" cy="314.43" r="0.9" fill="#4c8a3a"/>
<circle cx="524.7" cy="300.46" r="0.9" fill="#4c8a3a"/>
<circle cx="509.32" cy="320.46" r="0.9" fill="#4c8a3a"/>
<circle cx="508.87" cy="318" r="0.9" fill="#4c8a3a"/>
<circle cx="533.25" cy="292.64" r="0.9" fill="#4c8a3a"/>
<circle cx="522.61" cy="308.3" r="0.9" fill="#4c8a3a"/>
<circle cx="510.81" cy="317.04" r="0.9" fill="#4c8a3a"/>
<circle cx="513.26" cy="319.18" r="0.9" fill="#4c8a3a"/>
<circle cx="534.35" cy="290.79" r="0.9" fill="#4c8a3a"/>
<circle cx="533.3" cy="293.95" r="0.9" fill="#4c8a3a"/>
<circle cx="529.46" cy="300.38" r="0.9" fill="#4c8a3a"/>
<circle cx="533.71" cy="289.49" r="0.9" fill="#4c8a3a"/>
<circle cx="534.66" cy="291.61" r="0.9" fill="#4c8a3a"/>
<circle cx="510.67" cy="315.61" r="0.9" fill="#4c8a3a"/>
<circle cx="523.66" cy="304.99" r="0.9" fill="#4c8a3a"/>
<circle cx="533.52" cy="296.55" r="0.9" fill="#4c8a3a"/>
<circle cx="513.92" cy="314.94" r="0.9" fill="#4c8a3a"/>
<circle cx="530.24" cy="297.07" r="0.9" fill="#4c8a3a"/>
<circle cx="507.38" cy="318.05" r="0.9" fill="#4c8a3a"/>
<circle cx="524.59" cy="304.6" r="0.9" fill="#4c8a3a"/>
<circle cx="510.59" cy="311.35" r="0.9" fill="#4c8a3a"/>
<circle cx="509.03" cy="315.07" r="0.9" fill="#4c8a3a"/>
<circle cx="531.5" cy="297.83" r="0.9" fill="#4c8a3a"/>
<circle cx="528.8" cy="298.71" r="0.9" fill="#4c8a3a"/>
<circle cx="527.59" cy="299.74" r="0.9" fill="#4c8a3a"/>
<circle cx="533.51" cy="293.65" r="0.9" fill="#4c8a3a"/>
<circle cx="530.83" cy="297.51" r="0.9" fill="#4c8a3a"/>
<circle cx="511.57" cy="315.01" r="0.9" fill="#4c8a3a"/>
<circle cx="508.16" cy="319.65" r="0.9" fill="#4c8a3a"/>
<circle cx="524.19" cy="304.81" r="0.9" fill="#4c8a3a"/>
<circle cx="520.45" cy="307.41" r="0.9" fill="#4c8a3a"/>
<circle cx="507.48" cy="321.2" r="0.9" fill="#4c8a3a"/>
<circle cx="523.06" cy="303.92" r="0.9" fill="#4c8a3a"/>
<circle cx="521.65" cy="306.79" r="0.9" fill="#4c8a3a"/>
<circle cx="511.59" cy="313.36" r="0.9" fill="#4c8a3a"/>
<circle cx="506.77" cy="320.44" r="0.9" fill="#4c8a3a"/>
<circle cx="514.67" cy="311.36" r="0.9" fill="#4c8a3a"/>
<circle cx="530.12" cy="304.02" r="0.9" fill="#4c8a3a"/>
<circle cx="525.2" cy="301.12" r="0.9" fill="#4c8a3a"/>
<circle cx="531.92" cy="296.12" r="0.9" fill="#4c8a3a"/>
<circle cx="534.19" cy="290.5" r="0.9" fill="#4c8a3a"/>
<circle cx="509.25" cy="316.08" r="0.9" fill="#4c8a3a"/>
<circle cx="517.96" cy="306.45" r="0.9" fill="#4c8a3a"/>
<circle cx="531.7" cy="291.2" r="0.9" fill="#4c8a3a"/>
<circle cx="519.49" cy="307.59" r="0.9" fill="#4c8a3a"/>
<circle cx="523.17" cy="304.81" r="0.9" fill="#4c8a3a"/>
<circle cx="526.81" cy="299.81" r="0.9" fill="#4c8a3a"/>
<circle cx="506.51" cy="321.78" r="0.9" fill="#4c8a3a"/>
<circle cx="521.91" cy="305.74" r="0.9" fill="#4c8a3a"/>
<circle cx="526.62" cy="301.21" r="0.9" fill="#4c8a3a"/>
<circle cx="518.07" cy="309.49" r="0.9" fill="#4c8a3a"/>
<circle cx="518.06" cy="304.01" r="0.9" fill="#4c8a3a"/>
<circle cx="522.74" cy="305.05" r="0.9" fill="#4c8a3a"/>
<circle cx="529.65" cy="295.72" r="0.9" fill="#4c8a3a"/>
<circle cx="531.36" cy="299.52" r="0.9" fill="#4c8a3a"/>
<circle cx="517.2" cy="312.51" r="0.9" fill="#4c8a3a"/>
<circle cx="523.5" cy="304.15" r="0.9" fill="#4c8a3a"/>
<circle cx="515.11" cy="313.07" r="0.9" fill="#4c8a3a"/>
<circle cx="514.08" cy="315.51" r="0.9" fill="#4c8a3a"/>
<circle cx="508.47" cy="318.12" r="0.9" fill="#4c8a3a"/>
<circle cx="518.9" cy="307.06" r="0.9" fill="#4c8a3a"/>
<circle cx="515.36" cy="310.12" r="0.9" fill="#4c8a3a"/>
<circle cx="523.46" cy="306.22" r="0.9" fill="#4c8a3a"/>
<circle cx="509.21" cy="313.95" r="0.9" fill="#4c8a3a"/>
<circle cx="507.65" cy="322.15" r="0.9" fill="#4c8a3a"/>
<circle cx="512.45" cy="315.61" r="0.9" fill="#4c8a3a"/>
<circle cx="529.93" cy="300.32" r="0.9" fill="#4c8a3a"/>
<circle cx="505.62" cy="323.73" r="0.9" fill="#4c8a3a"/>
<circle cx="528.81" cy="296.17" r="0.9" fill="#4c8a3a"/>
<circle cx="529.14" cy="298.93" r="0.9" fill="#4c8a3a"/>
<circle cx="531.93" cy="293.71" r="0.9" fill="#4c8a3a"/>
<circle cx="508.49" cy="316.02" r="0.9" fill="#4c8a3a"/>
<circle cx="531.54" cy="298.66" r="0.9" fill="#4c8a3a"/>
<circle cx="513.1" cy="316.87" r="0.9" fill="#4c8a3a"/>
<circle cx="533.94" cy="294" r="0.9" fill="#4c8a3a"/>
<circle cx="533.79" cy="294.3" r="0.9" fill="#4c8a3a"/>
<circle cx="522.52" cy="305.71" r="0.9" fill="#4c8a3a"/>
<circle cx="515.8" cy="308.58" r="0.9" fill="#4c8a3a"/>
<circle cx="511.08" cy="317.48" r="0.9" fill="#4c8a3a"/>
<circle cx="529.58" cy="293.98" r="0.9" fill="#4c8a3a"/>
<circle cx="526.11" cy="304.21" r="0.9" fill="#4c8a3a"/>
<circle cx="510.18" cy="317.76" r="0.9" fill="#4c8a3a"/>
<circle cx="513.45" cy="312.75" r="0.9" fill="#4c8a3a"/>
<circle cx="526.94" cy="301.1" r="0.9" fill="#4c8a3a"/>
<circle cx="532.55" cy="293.96" r="0.9" fill="#4c8a3a"/>
<circle cx="506.03" cy="319.72" r="0.9" fill="#4c8a3a"/>
<circle cx="531.26" cy="299.3" r="0.9" fill="#4c8a3a"/>
<circle cx="522.23" cy="302.53" r="0.9" fill="#4c8a3a"/>
<circle cx="522.62" cy="304.83" r="0.9" fill="#4c8a3a"/>
<circle cx="528.32" cy="296.07" r="0.9" fill="#4c8a3a"/>
<circle cx="505.95" cy="316.78" r="0.9" fill="#4c8a3a"/>
<circle cx="532.54" cy="295.97" r="0.9" fill="#4c8a3a"/>
<circle cx="514.75" cy="312.77" r="0.9" fill="#4c8a3a"/>
<circle cx="508.07" cy="317.17" r="0.9" fill="#4c8a3a"/>
<circle cx="520.67" cy="308.21" r="0.9" fill="#4c8a3a"/>
<circle cx="516.66" cy="308.18" r="0.9" fill="#4c8a3a"/>
<circle cx="533.41" cy="293.98" r="0.9" fill="#4c8a3a"/>
<circle cx="520.33" cy="307.19" r="0.9" fill="#4c8a3a"/>
<circle cx="513.39" cy="310.59" r="0.9" fill="#4c8a3a"/>
<circle cx="515.07" cy="318.56" r="0.9" fill="#4c8a3a"/>
<circle cx="507.05" cy="313.4" r="0.9" fill="#4c8a3a"/>
<circle cx="511.38" cy="312.38" r="0.9" fill="#4c8a3a"/>
<circle cx="517.72" cy="312.09" r="0.9" fill="#4c8a3a"/>
<circle cx="527.42" cy="297.36" r="0.9" fill="#4c8a3a"/>
<circle cx="518.83" cy="305.1" r="0.9" fill="#4c8a3a"/>
<circle cx="513.06" cy="316.57" r="0.9" fill="#4c8a3a"/>
<circle cx="521.88" cy="304.1" r="0.9" fill="#4c8a3a"/>
<circle cx="514.67" cy="311.13" r="0.9" fill="#4c8a3a"/>
<circle cx="525.79" cy="301.31" r="0.9" fill="#4c8a3a"/>
<circle cx="531.37" cy="296.52" r="0.9" fill="#4c8a3a"/>
<circle cx="506.37" cy="320.22" r="0.9" fill="#4c8a3a"/>
<circle cx="520.35" cy="308.2" r="0.9" fill="#4c8a3a"/>
<circle cx="532.68" cy="296.12" r="0.9" fill="#4c8a3a"/>
<circle cx="527.33" cy="301.64" r="0.9" fill="#4c8a3a"/>
<circle cx="530.24" cy="298.63" r="0.9" fill="#4c8a3a"/>
<circle cx="533.94" cy="294.79" r="0.9" fill="#4c8a3a"/>
<circle cx="528.61" cy="296.76" r="0.9" fill="#4c8a3a"/>
<circle cx="534.16" cy="295.5" r="0.9" fill="#4c8a3a"/>
<circle cx="528.09" cy="297.57" r="0.9" fill="#4c8a3a"/>
<circle cx="519.28" cy="307.65" r="0.9" fill="#4c8a3a"/>
<circle cx="519.87" cy="306.44" r="0.9" fill="#4c8a3a"/>
<circle cx="507.32" cy="321.43" r="0.9" fill="#4c8a3a"/>
<circle cx="525.84" cy="303.41" r="0.9" fill="#4c8a3a"/>
<circle cx="522.87" cy="302.78" r="0.9" fill="#4c8a3a"/>
<circle cx="523.84" cy="305.34" r="0.9" fill="#4c8a3a"/>
<circle cx="529.69" cy="299.06" r="0.9" fill="#4c8a3a"/>
<circle cx="508.09" cy="319.79" r="0.9" fill="#4c8a3a"/>
<circle cx="522.6" cy="305.14" r="0.9" fill="#4c8a3a"/>
<circle cx="514.22" cy="312.79" r="0.9" fill="#4c8a3a"/>
<circle cx="507.45" cy="320.17" r="0.9" fill="#4c8a3a"/>
<circle cx="526.11" cy="304.49" r="0.9" fill="#4c8a3a"/>
<circle cx="519.48" cy="308.42" r="0.9" fill="#4c8a3a"/>
<circle cx="532.71" cy="291.13" r="0.9" fill="#4c8a3a"/>
<circle cx="513.32" cy="313.79" r="0.9" fill="#4c8a3a"/>
<circle cx="523.24" cy="308.43" r="0.9" fill="#4c8a3a"/>
<circle cx="514.15" cy="313.18" r="0.9" fill="#4c8a3a"/>
<circle cx="518.59" cy="310.46" r="0.9" fill="#4c8a3a"/>
<circle cx="507.34" cy="323.03" r="0.9" fill="#4c8a3a"/>
<circle cx="526.08" cy="304.58" r="0.9" fill="#4c8a3a"/>
<circle cx="508.47" cy="315.36" r="0.9" fill="#4c8a3a"/>
<circle cx="528.69" cy="296.27" r="0.9" fill="#4c8a3a"/>
<circle cx="517.25" cy="311.82" r="0.9" fill="#4c8a3a"/>
<circle cx="522.91" cy="305.69" r="0.9" fill="#4c8a3a"/>
<circle cx="514.46" cy="311.39" r="0.9" fill="#4c8a3a"/>
<circle cx="530.88" cy="296.73" r="0.9" fill="#4c8a3a"/>
<circle cx="506.75" cy="320.37" r="0.9" fill="#4c8a3a"/>
<circle cx="528.43" cy="307.51" r="0.9" fill="#4c8a3a"/>
<circle cx="520.23" cy="310.31" r="0.9" fill="#4c8a3a"/>
<circle cx="514.12" cy="311.56" r="0.9" fill="#4c8a3a"/>
<circle cx="507.95" cy="319.15" r="0.9" fill="#4c8a3a"/>
<circle cx="508.06" cy="322.66" r="0.9" fill="#4c8a3a"/>
<circle cx="516.55" cy="308.62" r="0.9" fill="#4c8a3a"/>
<circle cx="510.89" cy="315.48" r="0.9" fill="#4c8a3a"/>
<circle cx="513.67" cy="320.8" r="0.9" fill="#4c8a3a"/>
<circle cx="511.39" cy="324.71" r="0.9" fill="#4c8a3a"/>
<circle cx="509.1" cy="322.19" r="0.9" fill="#4c8a3a"/>
<circle cx="511.13" cy="323.29" r="0.9" fill="#4c8a3a"/>
<circle cx="512.23" cy="321.92" r="0.9" fill="#4c8a3a"/>
<circle cx="511.85" cy="321.36" r="0.9" fill="#4c8a3a"/>
<circle cx="517.43" cy="317.89" r="0.9" fill="#4c8a3a"/>
<circle cx="515.97" cy="321.47" r="0.9" fill="#4c8a3a"/>
<circle cx="515.44" cy="321.76" r="0.9" fill="#4c8a3a"/>
<circle cx="513.67" cy="324.5" r="0.9" fill="#4c8a3a"/>
<circle cx="518.21" cy="315.41" r="0.9" fill="#4c8a3a"/>
<circle cx="515.9" cy="321.2" r="0.9" fill="#4c8a3a"/>
<circle cx="512.31" cy="322.38" r="0.9" fill="#4c8a3a"/>
<circle cx="508.16" cy="325.25" r="0.9" fill="#4c8a3a"/>
<circle cx="513.87" cy="323.46" r="0.9" fill="#4c8a3a"/>
<circle cx="511.47" cy="321.05" r="0.9" fill="#4c8a3a"/>
<circle cx="511.82" cy="321.28" r="0.9" fill="#4c8a3a"/>
<circle cx="519.66" cy="323.3" r="0.9" fill="#4c8a3a"/>
<circle cx="509.34" cy="321.15" r="0.9" fill="#4c8a3a"/>
<circle cx="510.74" cy="319.92" r="0.9" fill="#4c8a3a"/>
<circle cx="514.7" cy="323.96" r="0.9" fill="#4c8a3a"/>
<circle cx="510.01" cy="323.22" r="0.9" fill="#4c8a3a"/>
<circle cx="510.51" cy="322.97" r="0.9" fill="#4c8a3a"/>
<circle cx="514.52" cy="320.07" r="0.9" fill="#4c8a3a"/>
<circle cx="514.48" cy="321.78" r="0.9" fill="#4c8a3a"/>
<circle cx="509.18" cy="320.5" r="0.9" fill="#4c8a3a"/>
<circle cx="518.78" cy="319.74" r="0.9" fill="#4c8a3a"/>
<circle cx="509.78" cy="319.5" r="0.9" fill="#4c8a3a"/>
<circle cx="512.88" cy="323.12" r="0.9" fill="#4c8a3a"/>
<circle cx="508.32" cy="323.28" r="0.9" fill="#4c8a3a"/>
<circle cx="508.51" cy="317.91" r="0.9" fill="#4c8a3a"/>
<circle cx="510.96" cy="328.72" r="0.9" fill="#4c8a3a"/>
<circle cx="512.39" cy="322.92" r="0.9" fill="#4c8a3a"/>
<circle cx="512.35" cy="325.54" r="0.9" fill="#4c8a3a"/>
<circle cx="509.42" cy="322.64" r="0.9" fill="#4c8a3a"/>
<circle cx="514.77" cy="323.89" r="0.9" fill="#4c8a3a"/>
<circle cx="512.67" cy="320.02" r="0.9" fill="#4c8a3a"/>
<circle cx="515.37" cy="326.84" r="0.9" fill="#4c8a3a"/>
<circle cx="512.02" cy="324.07" r="0.9" fill="#4c8a3a"/>
<circle cx="512.69" cy="320.5" r="0.9" fill="#4c8a3a"/>
<circle cx="508.95" cy="326.14" r="0.9" fill="#4c8a3a"/>
<circle cx="511.32" cy="320.43" r="0.9" fill="#4c8a3a"/>
<circle cx="510.9" cy="322.18" r="0.9" fill="#4c8a3a"/>
<circle cx="512.46" cy="320.75" r="0.9" fill="#4c8a3a"/>
<circle cx="511.91" cy="320.12" r="0.9" fill="#4c8a3a"/>
<circle cx="516.39" cy="322.26" r="0.9" fill="#4c8a3a"/>
<circle cx="508.8" cy="322.99" r="0.9" fill="#4c8a3a"/>
<circle cx="509.87" cy="320.08" r="0.9" fill="#4c8a3a"/>
<circle cx="511.71" cy="322.18" r="0.9" fill="#4c8a3a"/>
<circle cx="517.75" cy="317" r="0.9" fill="#4c8a3a"/>
<circle cx="512.76" cy="325.67" r="0.9" fill="#4c8a3a"/>
<circle cx="509.95" cy="320.59" r="0.9" fill="#4c8a3a"/>
<circle cx="511.41" cy="322.68" r="0.9" fill="#4c8a3a"/>
<circle cx="511.3" cy="324.42" r="0.9" fill="#4c8a3a"/>
<circle cx="512.1" cy="321.78" r="0.9" fill="#4c8a3a"/>
<circle cx="516.26" cy="319.69" r="0.9" fill="#4c8a3a"/>
<circle cx="506.39" cy="322.13" r="0.9" fill="#4c8a3a"/>
<circle cx="516.15" cy="321.81" r="0.9" fill="#4c8a3a"/>
<circle cx="513.14" cy="322.63" r="0.9" fill="#4c8a3a"/>
<circle cx="508.49" cy="320.96" r="0.9" fill="#4c8a3a"/>
<circle cx="512.26" cy="319.77" r="0.9" fill="#4c8a3a"/>
<circle cx="513.85" cy="324.48" r="0.9" fill="#4c8a3a"/>
<circle cx="511.46" cy="320.73" r="0.9" fill="#4c8a3a"/>
<circle cx="512.81" cy="324.16" r="0.9" fill="#4c8a3a"/>
<circle cx="509" cy="329.44" r="0.9" fill="#4c8a3a"/>
<circle cx="510.58" cy="318.05" r="0.9" fill="#4c8a3a"/>
<circle cx="515.23" cy="324.47" r="0.9" fill="#4c8a3a"/>
<circle cx="505.74" cy="324.64" r="0.9" fill="#4c8a3a"/>
<circle cx="509.51" cy="322.39" r="0.9" fill="#4c8a3a"/>
<circle cx="512.86" cy="322.3" r="0.9" fill="#4c8a3a"/>
<circle cx="513.5" cy="319.39" r="0.9" fill="#4c8a3a"/>
<circle cx="511.13" cy="322.66" r="0.9" fill="#4c8a3a"/>
<circle cx="512.71" cy="319.05" r="0.9" fill="#4c8a3a"/>
<circle cx="516.59" cy="322.77" r="0.9" fill="#4c8a3a"/>
<circle cx="506.27" cy="322.69" r="0.9" fill="#4c8a3a"/>
<circle cx="513.25" cy="322.14" r="0.9" fill="#4c8a3a"/>
<circle cx="510.72" cy="323.31" r="0.9" fill="#4c8a3a"/>
<circle cx="515.29" cy="323.78" r="0.9" fill="#4c8a3a"/>
<circle cx="512.71" cy="323.43" r="0.9" fill="#4c8a3a"/>
<circle cx="514.2" cy="320.59" r="0.9" fill="#4c8a3a"/>
<circle cx="505.68" cy="315.2" r="0.9" fill="#4c8a3a"/>
<circle cx="506.46" cy="315.36" r="0.9" fill="#4c8a3a"/>
<circle cx="496.76" cy="313.8" r="0.9" fill="#4c8a3a"/>
<circle cx="497.86" cy="317.01" r="0.9" fill="#4c8a3a"/>
<circle cx="505.16" cy="316.23" r="0.9" fill="#4c8a3a"/>
<circle cx="504.57" cy="318.3" r="0.9" fill="#4c8a3a"/>
<circle cx="507.5" cy="316.08" r="0.9" fill="#4c8a3a"/>
<circle cx="502.46" cy="318.73" r="0.9" fill="#4c8a3a"/>
<circle cx="501.32" cy="316.66" r="0.9" fill="#4c8a3a"/>
<circle cx="503.34" cy="316.49" r="0.9" fill="#4c8a3a"/>
<circle cx="503.93" cy="317.17" r="0.9" fill="#4c8a3a"/>
<circle cx="498.17" cy="314.82" r="0.9" fill="#4c8a3a"/>
<circle cx="495.71" cy="315.86" r="0.9" fill="#4c8a3a"/>
<circle cx="499.12" cy="318.81" r="0.9" fill="#4c8a3a"/>
<circle cx="498.39" cy="316.69" r="0.9" fill="#4c8a3a"/>
<circle cx="496.09" cy="320.15" r="0.9" fill="#4c8a3a"/>
<circle cx="503.26" cy="312.27" r="0.9" fill="#4c8a3a"/>
<circle cx="499.78" cy="314.08" r="0.9" fill="#4c8a3a"/>
<circle cx="503.91" cy="315.77" r="0.9" fill="#4c8a3a"/>
<circle cx="504.95" cy="317.33" r="0.9" fill="#4c8a3a"/>
<circle cx="508.22" cy="316.64" r="0.9" fill="#4c8a3a"/>
<circle cx="503.08" cy="316.91" r="0.9" fill="#4c8a3a"/>
<circle cx="503.1" cy="320.41" r="0.9" fill="#4c8a3a"/>
<circle cx="506.78" cy="316.35" r="0.9" fill="#4c8a3a"/>
<circle cx="492.6" cy="316.41" r="0.9" fill="#4c8a3a"/>
<circle cx="502.01" cy="316.82" r="0.9" fill="#4c8a3a"/>
<circle cx="506.11" cy="320.12" r="0.9" fill="#4c8a3a"/>
<circle cx="500.67" cy="314.18" r="0.9" fill="#4c8a3a"/>
<circle cx="502.64" cy="313.69" r="0.9" fill="#4c8a3a"/>
<circle cx="504.43" cy="314.55" r="0.9" fill="#4c8a3a"/>
<circle cx="484.48" cy="325.01" r="0.9" fill="#4c8a3a"/>
<circle cx="485.99" cy="316.37" r="0.9" fill="#4c8a3a"/>
<circle cx="489.01" cy="320.94" r="0.9" fill="#4c8a3a"/>
<circle cx="487.5" cy="329.58" r="0.9" fill="#4c8a3a"/>
<circle cx="510.64" cy="339.74" r="0.9" fill="#4c8a3a"/>
<circle cx="516.68" cy="332.12" r="0.9" fill="#4c8a3a"/>
<circle cx="525.73" cy="310.28" r="0.9" fill="#4c8a3a"/>
<circle cx="489.51" cy="335.17" r="0.9" fill="#4c8a3a"/>
<circle cx="533.28" cy="306.72" r="0.9" fill="#4c8a3a"/>
<circle cx="528.25" cy="311.8" r="0.9" fill="#4c8a3a"/>
<circle cx="494.04" cy="310.78" r="0.9" fill="#4c8a3a"/>
<line x1="484.48" y1="341.99" x2="534.78" y2="293.22" stroke="#111" stroke-width="1.2"/>
<line x1="476.5" y1="267" x2="476.5" y2="355.5" stroke="#111" stroke-width="1.5"/>
<line x1="475.9" y1="355.5" x2="565.5" y2="355.5" stroke="#111" stroke-width="1.5"/>
<line x1="474.1" y1="337.2" x2="476.5" y2="337.2" stroke="#222" stroke-width="1.0"/>
<text x="472.5" y="340" font-size="7.8" fill="#646464" stroke="#646464" stroke-width="0.2" text-anchor="end" transform="matrix(1 0 0 1.18 0 -60.69)">−5</text>
<line x1="495.55" y1="355.5" x2="495.55" y2="357.9" stroke="#222" stroke-width="1.0"/>
<text x="495.55" y="365.6" font-size="7.8" fill="#646464" stroke="#646464" stroke-width="0.2" text-anchor="middle" transform="matrix(1 0 0 1.18 0 -65.3)">−5</text>
<line x1="474.1" y1="311.8" x2="476.5" y2="311.8" stroke="#222" stroke-width="1.0"/>
<text x="472.5" y="314.6" font-size="7.8" fill="#646464" stroke="#646464" stroke-width="0.2" text-anchor="end" transform="matrix(1 0 0 1.18 0 -56.12)">0</text>
<line x1="520.7" y1="355.5" x2="520.7" y2="357.9" stroke="#222" stroke-width="1.0"/>
<text x="520.7" y="365.6" font-size="7.8" fill="#646464" stroke="#646464" stroke-width="0.2" text-anchor="middle" transform="matrix(1 0 0 1.18 0 -65.3)">0</text>
<line x1="474.1" y1="286.4" x2="476.5" y2="286.4" stroke="#222" stroke-width="1.0"/>
<text x="472.5" y="289.2" font-size="7.8" fill="#646464" stroke="#646464" stroke-width="0.2" text-anchor="end" transform="matrix(1 0 0 1.18 0 -51.55)">5</text>
<line x1="545.85" y1="355.5" x2="545.85" y2="357.9" stroke="#222" stroke-width="1.0"/>
<text x="545.85" y="365.6" font-size="7.8" fill="#646464" stroke="#646464" stroke-width="0.2" text-anchor="middle" transform="matrix(1 0 0 1.18 0 -65.3)">5</text>
<text x="521" y="375.6" font-size="8.5" fill="#1a1a1a" stroke="#1a1a1a" stroke-width="0.2" text-anchor="middle">Enrich2 Score</text>
<text x="478.3" y="270.9" font-size="7.3" fill="#111" stroke="#111" stroke-width="0.2">score<tspan font-size="4.7" dy="1.5">WT</tspan><tspan dy="-1.5">=0.96(score)+0.97</tspan></text>
<text x="478.3" y="281.2" font-size="7.3" fill="#111" stroke="#111" stroke-width="0.2">R<tspan font-size="4.6" dy="-2.7">2</tspan><tspan dy="2.7">= 0.81</tspan></text>
<text x="574.8" y="255.9" font-size="13" font-weight="bold" fill="#111" stroke="#111" stroke-width="0.25">n</text>
<text x="606.8" y="253.3" font-size="8.4" font-weight="bold" fill="#358039" stroke="#358039" stroke-width="0.25">AA Substitution</text>
<text x="616" y="263" font-size="8.4" font-weight="bold" fill="#358039" stroke="#358039" stroke-width="0.25">Replication</text>
<polygon points="609.14,341.21 611.75,338.85 614.36,336.47 616.97,334.08 619.58,331.68 622.19,329.27 624.8,326.84 627.41,324.39 630.02,321.94 632.62,319.46 635.23,316.98 637.84,314.48 640.45,311.97 643.06,309.44 645.67,306.91 648.28,304.35 650.89,301.79 650.89,304.93 648.28,307.21 645.67,309.51 643.06,311.82 640.45,314.14 637.84,316.48 635.23,318.83 632.62,321.2 630.02,323.57 627.41,325.97 624.8,328.37 622.19,330.79 619.58,333.22 616.97,335.67 614.36,338.13 611.75,340.6 609.14,343.09" fill="#c8c8c8" opacity="0.8"/>
<circle cx="617.37" cy="326.39" r="0.9" fill="#4c8a3a"/>
<circle cx="621.15" cy="327.52" r="0.9" fill="#4c8a3a"/>
<circle cx="617.8" cy="325.37" r="0.9" fill="#4c8a3a"/>
<circle cx="619.93" cy="328.51" r="0.9" fill="#4c8a3a"/>
<circle cx="620.31" cy="329.39" r="0.9" fill="#4c8a3a"/>
<circle cx="617.19" cy="327.18" r="0.9" fill="#4c8a3a"/>
<circle cx="627.13" cy="331.37" r="0.9" fill="#4c8a3a"/>
<circle cx="623.47" cy="330.23" r="0.9" fill="#4c8a3a"/>
<circle cx="623.85" cy="326.36" r="0.9" fill="#4c8a3a"/>
<circle cx="620.96" cy="318.9" r="0.9" fill="#4c8a3a"/>
<circle cx="619.3" cy="328.16" r="0.9" fill="#4c8a3a"/>
<circle cx="622.32" cy="333.68" r="0.9" fill="#4c8a3a"/>
<circle cx="620.99" cy="324.29" r="0.9" fill="#4c8a3a"/>
<circle cx="623.89" cy="326.4" r="0.9" fill="#4c8a3a"/>
<circle cx="624.54" cy="328.76" r="0.9" fill="#4c8a3a"/>
<circle cx="621.73" cy="331.52" r="0.9" fill="#4c8a3a"/>
<circle cx="619.25" cy="331.96" r="0.9" fill="#4c8a3a"/>
<circle cx="620.15" cy="331.09" r="0.9" fill="#4c8a3a"/>
<circle cx="625.22" cy="329.68" r="0.9" fill="#4c8a3a"/>
<circle cx="625.11" cy="328.96" r="0.9" fill="#4c8a3a"/>
<circle cx="620.74" cy="333.34" r="0.9" fill="#4c8a3a"/>
<circle cx="624.93" cy="333.38" r="0.9" fill="#4c8a3a"/>
<circle cx="619.96" cy="331.79" r="0.9" fill="#4c8a3a"/>
<circle cx="622.64" cy="336.7" r="0.9" fill="#4c8a3a"/>
<circle cx="615.65" cy="322.43" r="0.9" fill="#4c8a3a"/>
<circle cx="616.19" cy="325.11" r="0.9" fill="#4c8a3a"/>
<circle cx="619.64" cy="343.63" r="0.9" fill="#4c8a3a"/>
<circle cx="618.02" cy="323.57" r="0.9" fill="#4c8a3a"/>
<circle cx="625.5" cy="333.5" r="0.9" fill="#4c8a3a"/>
<circle cx="627.69" cy="325.88" r="0.9" fill="#4c8a3a"/>
<circle cx="624.12" cy="336.64" r="0.9" fill="#4c8a3a"/>
<circle cx="613.39" cy="325.61" r="0.9" fill="#4c8a3a"/>
<circle cx="622.58" cy="326.89" r="0.9" fill="#4c8a3a"/>
<circle cx="624.26" cy="329.22" r="0.9" fill="#4c8a3a"/>
<circle cx="619.24" cy="324.11" r="0.9" fill="#4c8a3a"/>
<circle cx="623.55" cy="324.78" r="0.9" fill="#4c8a3a"/>
<circle cx="629.33" cy="326.9" r="0.9" fill="#4c8a3a"/>
<circle cx="622.34" cy="328.94" r="0.9" fill="#4c8a3a"/>
<circle cx="618.82" cy="338.61" r="0.9" fill="#4c8a3a"/>
<circle cx="624" cy="329.63" r="0.9" fill="#4c8a3a"/>
<circle cx="617.44" cy="327.31" r="0.9" fill="#4c8a3a"/>
<circle cx="621.72" cy="328" r="0.9" fill="#4c8a3a"/>
<circle cx="621.34" cy="325.01" r="0.9" fill="#4c8a3a"/>
<circle cx="626.04" cy="329.96" r="0.9" fill="#4c8a3a"/>
<circle cx="626.03" cy="332.82" r="0.9" fill="#4c8a3a"/>
<circle cx="619.9" cy="335.29" r="0.9" fill="#4c8a3a"/>
<circle cx="619.77" cy="333.59" r="0.9" fill="#4c8a3a"/>
<circle cx="620.1" cy="327.61" r="0.9" fill="#4c8a3a"/>
<circle cx="625.06" cy="335.14" r="0.9" fill="#4c8a3a"/>
<circle cx="622.28" cy="324.86" r="0.9" fill="#4c8a3a"/>
<circle cx="623.94" cy="326.93" r="0.9" fill="#4c8a3a"/>
<circle cx="616" cy="342.25" r="0.9" fill="#4c8a3a"/>
<circle cx="626.27" cy="329.72" r="0.9" fill="#4c8a3a"/>
<circle cx="625.94" cy="324.42" r="0.9" fill="#4c8a3a"/>
<circle cx="620.98" cy="332.36" r="0.9" fill="#4c8a3a"/>
<circle cx="622" cy="320.65" r="0.9" fill="#4c8a3a"/>
<circle cx="621.92" cy="327.05" r="0.9" fill="#4c8a3a"/>
<circle cx="619.15" cy="327.07" r="0.9" fill="#4c8a3a"/>
<circle cx="620.41" cy="331.72" r="0.9" fill="#4c8a3a"/>
<circle cx="620.31" cy="321.54" r="0.9" fill="#4c8a3a"/>
<circle cx="623.54" cy="333.98" r="0.9" fill="#4c8a3a"/>
<circle cx="620.98" cy="326.89" r="0.9" fill="#4c8a3a"/>
<circle cx="614.07" cy="333.59" r="0.9" fill="#4c8a3a"/>
<circle cx="622.95" cy="329.91" r="0.9" fill="#4c8a3a"/>
<circle cx="617.97" cy="320.21" r="0.9" fill="#4c8a3a"/>
<circle cx="626.16" cy="333.03" r="0.9" fill="#4c8a3a"/>
<circle cx="622.48" cy="325.54" r="0.9" fill="#4c8a3a"/>
<circle cx="619.98" cy="333.88" r="0.9" fill="#4c8a3a"/>
<circle cx="625.05" cy="328.69" r="0.9" fill="#4c8a3a"/>
<circle cx="621.31" cy="326.92" r="0.9" fill="#4c8a3a"/>
<circle cx="621.9" cy="319.64" r="0.9" fill="#4c8a3a"/>
<circle cx="618.82" cy="328.74" r="0.9" fill="#4c8a3a"/>
<circle cx="620.71" cy="330.09" r="0.9" fill="#4c8a3a"/>
<circle cx="619.6" cy="331.48" r="0.9" fill="#4c8a3a"/>
<circle cx="624.79" cy="323.05" r="0.9" fill="#4c8a3a"/>
<circle cx="622.94" cy="336.72" r="0.9" fill="#4c8a3a"/>
<circle cx="621.47" cy="325.76" r="0.9" fill="#4c8a3a"/>
<circle cx="618.67" cy="328.81" r="0.9" fill="#4c8a3a"/>
<circle cx="626.2" cy="332.43" r="0.9" fill="#4c8a3a"/>
<circle cx="621.12" cy="328.46" r="0.9" fill="#4c8a3a"/>
<circle cx="624.05" cy="329.58" r="0.9" fill="#4c8a3a"/>
<circle cx="623.51" cy="331.59" r="0.9" fill="#4c8a3a"/>
<circle cx="620.91" cy="324.2" r="0.9" fill="#4c8a3a"/>
<circle cx="617.89" cy="332.36" r="0.9" fill="#4c8a3a"/>
<circle cx="621.98" cy="331.15" r="0.9" fill="#4c8a3a"/>
<circle cx="620.62" cy="326.75" r="0.9" fill="#4c8a3a"/>
<circle cx="628.14" cy="329.56" r="0.9" fill="#4c8a3a"/>
<circle cx="624.79" cy="323.82" r="0.9" fill="#4c8a3a"/>
<circle cx="623.62" cy="337.12" r="0.9" fill="#4c8a3a"/>
<circle cx="620.52" cy="324.19" r="0.9" fill="#4c8a3a"/>
<circle cx="618.33" cy="332.92" r="0.9" fill="#4c8a3a"/>
<circle cx="618.99" cy="332.13" r="0.9" fill="#4c8a3a"/>
<circle cx="619.61" cy="335.29" r="0.9" fill="#4c8a3a"/>
<circle cx="622.41" cy="328.38" r="0.9" fill="#4c8a3a"/>
<circle cx="625.81" cy="334.81" r="0.9" fill="#4c8a3a"/>
<circle cx="621.23" cy="334.58" r="0.9" fill="#4c8a3a"/>
<circle cx="626.43" cy="331.35" r="0.9" fill="#4c8a3a"/>
<circle cx="624.62" cy="323.35" r="0.9" fill="#4c8a3a"/>
<circle cx="622.98" cy="329.84" r="0.9" fill="#4c8a3a"/>
<circle cx="624.54" cy="340.34" r="0.9" fill="#4c8a3a"/>
<circle cx="618.58" cy="329.78" r="0.9" fill="#4c8a3a"/>
<circle cx="624.7" cy="332.51" r="0.9" fill="#4c8a3a"/>
<circle cx="618.56" cy="336" r="0.9" fill="#4c8a3a"/>
<circle cx="622.96" cy="323.08" r="0.9" fill="#4c8a3a"/>
<circle cx="626.39" cy="320.62" r="0.9" fill="#4c8a3a"/>
<circle cx="624.42" cy="327.96" r="0.9" fill="#4c8a3a"/>
<circle cx="624.74" cy="331.11" r="0.9" fill="#4c8a3a"/>
<circle cx="630.5" cy="327.07" r="0.9" fill="#4c8a3a"/>
<circle cx="620.84" cy="332.73" r="0.9" fill="#4c8a3a"/>
<circle cx="622.09" cy="332.67" r="0.9" fill="#4c8a3a"/>
<circle cx="620.18" cy="329.54" r="0.9" fill="#4c8a3a"/>
<circle cx="620.49" cy="321.46" r="0.9" fill="#4c8a3a"/>
<circle cx="626.14" cy="328.71" r="0.9" fill="#4c8a3a"/>
<circle cx="616.95" cy="334.2" r="0.9" fill="#4c8a3a"/>
<circle cx="619.55" cy="338.4" r="0.9" fill="#4c8a3a"/>
<circle cx="620.4" cy="327.08" r="0.9" fill="#4c8a3a"/>
<circle cx="620.56" cy="326.86" r="0.9" fill="#4c8a3a"/>
<circle cx="621.14" cy="329.78" r="0.9" fill="#4c8a3a"/>
<circle cx="628.4" cy="319.53" r="0.9" fill="#4c8a3a"/>
<circle cx="616.47" cy="332.81" r="0.9" fill="#4c8a3a"/>
<circle cx="618.49" cy="334.02" r="0.9" fill="#4c8a3a"/>
<circle cx="626.24" cy="332.44" r="0.9" fill="#4c8a3a"/>
<circle cx="625.44" cy="340.33" r="0.9" fill="#4c8a3a"/>
<circle cx="616.42" cy="324.76" r="0.9" fill="#4c8a3a"/>
<circle cx="621.65" cy="316.2" r="0.9" fill="#4c8a3a"/>
<circle cx="624.43" cy="330.73" r="0.9" fill="#4c8a3a"/>
<circle cx="618.98" cy="331.15" r="0.9" fill="#4c8a3a"/>
<circle cx="622.35" cy="325.25" r="0.9" fill="#4c8a3a"/>
<circle cx="625.84" cy="332.22" r="0.9" fill="#4c8a3a"/>
<circle cx="624.53" cy="340.02" r="0.9" fill="#4c8a3a"/>
<circle cx="622.33" cy="325.22" r="0.9" fill="#4c8a3a"/>
<circle cx="620.24" cy="326.58" r="0.9" fill="#4c8a3a"/>
<circle cx="618.04" cy="330.33" r="0.9" fill="#4c8a3a"/>
<circle cx="626.41" cy="322.2" r="0.9" fill="#4c8a3a"/>
<circle cx="622.49" cy="329.88" r="0.9" fill="#4c8a3a"/>
<circle cx="616.82" cy="336.44" r="0.9" fill="#4c8a3a"/>
<circle cx="622.3" cy="334.02" r="0.9" fill="#4c8a3a"/>
<circle cx="622.54" cy="329.59" r="0.9" fill="#4c8a3a"/>
<circle cx="620.88" cy="336.88" r="0.9" fill="#4c8a3a"/>
<circle cx="619.38" cy="326.57" r="0.9" fill="#4c8a3a"/>
<circle cx="619.64" cy="331.62" r="0.9" fill="#4c8a3a"/>
<circle cx="623.03" cy="331.42" r="0.9" fill="#4c8a3a"/>
<circle cx="620.58" cy="331.48" r="0.9" fill="#4c8a3a"/>
<circle cx="623.49" cy="333.54" r="0.9" fill="#4c8a3a"/>
<circle cx="624.9" cy="335.28" r="0.9" fill="#4c8a3a"/>
<circle cx="621.99" cy="330.12" r="0.9" fill="#4c8a3a"/>
<circle cx="623.76" cy="330.32" r="0.9" fill="#4c8a3a"/>
<circle cx="627.63" cy="334.14" r="0.9" fill="#4c8a3a"/>
<circle cx="622.7" cy="324.47" r="0.9" fill="#4c8a3a"/>
<circle cx="618.22" cy="327.31" r="0.9" fill="#4c8a3a"/>
<circle cx="621.7" cy="336.78" r="0.9" fill="#4c8a3a"/>
<circle cx="626.53" cy="320.46" r="0.9" fill="#4c8a3a"/>
<circle cx="626.39" cy="331.39" r="0.9" fill="#4c8a3a"/>
<circle cx="620.95" cy="324.62" r="0.9" fill="#4c8a3a"/>
<circle cx="621.09" cy="321.08" r="0.9" fill="#4c8a3a"/>
<circle cx="621.69" cy="343.64" r="0.9" fill="#4c8a3a"/>
<circle cx="617.36" cy="327.29" r="0.9" fill="#4c8a3a"/>
<circle cx="617.72" cy="321.73" r="0.9" fill="#4c8a3a"/>
<circle cx="623.45" cy="329.79" r="0.9" fill="#4c8a3a"/>
<circle cx="624.04" cy="330.18" r="0.9" fill="#4c8a3a"/>
<circle cx="622.15" cy="325.87" r="0.9" fill="#4c8a3a"/>
<circle cx="629.52" cy="328.59" r="0.9" fill="#4c8a3a"/>
<circle cx="625.41" cy="326.44" r="0.9" fill="#4c8a3a"/>
<circle cx="620.69" cy="328.97" r="0.9" fill="#4c8a3a"/>
<circle cx="621.24" cy="332.42" r="0.9" fill="#4c8a3a"/>
<circle cx="624.1" cy="325.63" r="0.9" fill="#4c8a3a"/>
<circle cx="612.26" cy="330.36" r="0.9" fill="#4c8a3a"/>
<circle cx="619.99" cy="325.14" r="0.9" fill="#4c8a3a"/>
<circle cx="623.41" cy="325.88" r="0.9" fill="#4c8a3a"/>
<circle cx="621.4" cy="326.32" r="0.9" fill="#4c8a3a"/>
<circle cx="622.45" cy="327.93" r="0.9" fill="#4c8a3a"/>
<circle cx="619.29" cy="332.46" r="0.9" fill="#4c8a3a"/>
<circle cx="621.16" cy="314.09" r="0.9" fill="#4c8a3a"/>
<circle cx="618.11" cy="324.04" r="0.9" fill="#4c8a3a"/>
<circle cx="616.84" cy="329.87" r="0.9" fill="#4c8a3a"/>
<circle cx="619.58" cy="328.78" r="0.9" fill="#4c8a3a"/>
<circle cx="623.23" cy="328.45" r="0.9" fill="#4c8a3a"/>
<circle cx="621.06" cy="332.43" r="0.9" fill="#4c8a3a"/>
<circle cx="627.92" cy="331.91" r="0.9" fill="#4c8a3a"/>
<circle cx="627.95" cy="330.28" r="0.9" fill="#4c8a3a"/>
<circle cx="622.65" cy="334.75" r="0.9" fill="#4c8a3a"/>
<circle cx="624.75" cy="321.79" r="0.9" fill="#4c8a3a"/>
<circle cx="624.41" cy="335.14" r="0.9" fill="#4c8a3a"/>
<circle cx="619.65" cy="334.89" r="0.9" fill="#4c8a3a"/>
<circle cx="629.47" cy="328.43" r="0.9" fill="#4c8a3a"/>
<circle cx="620.71" cy="332.19" r="0.9" fill="#4c8a3a"/>
<circle cx="617.01" cy="330.5" r="0.9" fill="#4c8a3a"/>
<circle cx="624.5" cy="331.88" r="0.9" fill="#4c8a3a"/>
<circle cx="622.08" cy="336" r="0.9" fill="#4c8a3a"/>
<circle cx="616.46" cy="323.82" r="0.9" fill="#4c8a3a"/>
<circle cx="620.7" cy="332.32" r="0.9" fill="#4c8a3a"/>
<circle cx="615.96" cy="331.19" r="0.9" fill="#4c8a3a"/>
<circle cx="620.46" cy="335.46" r="0.9" fill="#4c8a3a"/>
<circle cx="623.44" cy="334.85" r="0.9" fill="#4c8a3a"/>
<circle cx="619.13" cy="336.01" r="0.9" fill="#4c8a3a"/>
<circle cx="619.03" cy="332.91" r="0.9" fill="#4c8a3a"/>
<circle cx="619.25" cy="325.33" r="0.9" fill="#4c8a3a"/>
<circle cx="618.8" cy="325.68" r="0.9" fill="#4c8a3a"/>
<circle cx="623.76" cy="342.01" r="0.9" fill="#4c8a3a"/>
<circle cx="621.28" cy="321.87" r="0.9" fill="#4c8a3a"/>
<circle cx="619.69" cy="319.28" r="0.9" fill="#4c8a3a"/>
<circle cx="614.63" cy="317.49" r="0.9" fill="#4c8a3a"/>
<circle cx="618.18" cy="314.84" r="0.9" fill="#4c8a3a"/>
<circle cx="620.79" cy="319.54" r="0.9" fill="#4c8a3a"/>
<circle cx="621.96" cy="319.49" r="0.9" fill="#4c8a3a"/>
<circle cx="623.56" cy="320.12" r="0.9" fill="#4c8a3a"/>
<circle cx="620.35" cy="321.55" r="0.9" fill="#4c8a3a"/>
<circle cx="622.34" cy="319.38" r="0.9" fill="#4c8a3a"/>
<circle cx="616.29" cy="316.21" r="0.9" fill="#4c8a3a"/>
<circle cx="620.24" cy="320.21" r="0.9" fill="#4c8a3a"/>
<circle cx="620.02" cy="315.88" r="0.9" fill="#4c8a3a"/>
<circle cx="616.93" cy="318.23" r="0.9" fill="#4c8a3a"/>
<circle cx="617.33" cy="316.83" r="0.9" fill="#4c8a3a"/>
<circle cx="621.97" cy="318.02" r="0.9" fill="#4c8a3a"/>
<circle cx="615.89" cy="317.91" r="0.9" fill="#4c8a3a"/>
<circle cx="620.3" cy="318" r="0.9" fill="#4c8a3a"/>
<circle cx="624.61" cy="318.93" r="0.9" fill="#4c8a3a"/>
<circle cx="623.5" cy="314.99" r="0.9" fill="#4c8a3a"/>
<circle cx="619.47" cy="320.06" r="0.9" fill="#4c8a3a"/>
<circle cx="618.5" cy="322" r="0.9" fill="#4c8a3a"/>
<circle cx="627.06" cy="317.54" r="0.9" fill="#4c8a3a"/>
<circle cx="620.6" cy="319.05" r="0.9" fill="#4c8a3a"/>
<circle cx="617.64" cy="320.87" r="0.9" fill="#4c8a3a"/>
<circle cx="619.84" cy="318.12" r="0.9" fill="#4c8a3a"/>
<circle cx="618.86" cy="316.61" r="0.9" fill="#4c8a3a"/>
<circle cx="624.96" cy="319.62" r="0.9" fill="#4c8a3a"/>
<circle cx="617.87" cy="318.72" r="0.9" fill="#4c8a3a"/>
<circle cx="621.79" cy="317.54" r="0.9" fill="#4c8a3a"/>
<circle cx="617.15" cy="321.43" r="0.9" fill="#4c8a3a"/>
<circle cx="620.68" cy="317.5" r="0.9" fill="#4c8a3a"/>
<circle cx="619.94" cy="318.04" r="0.9" fill="#4c8a3a"/>
<circle cx="619.79" cy="316.49" r="0.9" fill="#4c8a3a"/>
<circle cx="623.92" cy="316.75" r="0.9" fill="#4c8a3a"/>
<circle cx="614.59" cy="320.21" r="0.9" fill="#4c8a3a"/>
<circle cx="632.08" cy="318.94" r="0.9" fill="#4c8a3a"/>
<circle cx="616.94" cy="316.94" r="0.9" fill="#4c8a3a"/>
<circle cx="623.77" cy="320.08" r="0.9" fill="#4c8a3a"/>
<circle cx="623.14" cy="318.63" r="0.9" fill="#4c8a3a"/>
<circle cx="623.92" cy="317.66" r="0.9" fill="#4c8a3a"/>
<circle cx="622.88" cy="318.73" r="0.9" fill="#4c8a3a"/>
<circle cx="620.12" cy="319.05" r="0.9" fill="#4c8a3a"/>
<circle cx="619.36" cy="315.45" r="0.9" fill="#4c8a3a"/>
<circle cx="623.83" cy="316.95" r="0.9" fill="#4c8a3a"/>
<circle cx="625.57" cy="320.13" r="0.9" fill="#4c8a3a"/>
<circle cx="623.21" cy="320.59" r="0.9" fill="#4c8a3a"/>
<circle cx="625.24" cy="317.76" r="0.9" fill="#4c8a3a"/>
<circle cx="621.11" cy="319.15" r="0.9" fill="#4c8a3a"/>
<circle cx="627.44" cy="319.05" r="0.9" fill="#4c8a3a"/>
<circle cx="614.95" cy="315.43" r="0.9" fill="#4c8a3a"/>
<circle cx="620.8" cy="318.98" r="0.9" fill="#4c8a3a"/>
<circle cx="625.03" cy="320.41" r="0.9" fill="#4c8a3a"/>
<circle cx="617.71" cy="317.84" r="0.9" fill="#4c8a3a"/>
<circle cx="622.86" cy="319.37" r="0.9" fill="#4c8a3a"/>
<circle cx="625.8" cy="320.5" r="0.9" fill="#4c8a3a"/>
<circle cx="619.36" cy="316.86" r="0.9" fill="#4c8a3a"/>
<circle cx="646.99" cy="308.7" r="0.9" fill="#4c8a3a"/>
<circle cx="648.36" cy="305.69" r="0.9" fill="#4c8a3a"/>
<circle cx="650.14" cy="302.13" r="0.9" fill="#4c8a3a"/>
<circle cx="635.53" cy="314.98" r="0.9" fill="#4c8a3a"/>
<circle cx="633.4" cy="321.16" r="0.9" fill="#4c8a3a"/>
<circle cx="645.49" cy="306.8" r="0.9" fill="#4c8a3a"/>
<circle cx="649.45" cy="301.3" r="0.9" fill="#4c8a3a"/>
<circle cx="645.56" cy="311.82" r="0.9" fill="#4c8a3a"/>
<circle cx="640.26" cy="313.66" r="0.9" fill="#4c8a3a"/>
<circle cx="634.19" cy="319.74" r="0.9" fill="#4c8a3a"/>
<circle cx="631.84" cy="324.74" r="0.9" fill="#4c8a3a"/>
<circle cx="628.94" cy="329.42" r="0.9" fill="#4c8a3a"/>
<circle cx="631.75" cy="320.6" r="0.9" fill="#4c8a3a"/>
<circle cx="649.54" cy="306.16" r="0.9" fill="#4c8a3a"/>
<circle cx="628.19" cy="326.11" r="0.9" fill="#4c8a3a"/>
<circle cx="643.62" cy="311" r="0.9" fill="#4c8a3a"/>
<circle cx="635.58" cy="315.48" r="0.9" fill="#4c8a3a"/>
<circle cx="638.45" cy="317.23" r="0.9" fill="#4c8a3a"/>
<circle cx="632.46" cy="324.95" r="0.9" fill="#4c8a3a"/>
<circle cx="644.27" cy="309.61" r="0.9" fill="#4c8a3a"/>
<circle cx="631.2" cy="324.29" r="0.9" fill="#4c8a3a"/>
<circle cx="649.32" cy="302.59" r="0.9" fill="#4c8a3a"/>
<circle cx="638.62" cy="314.68" r="0.9" fill="#4c8a3a"/>
<circle cx="646.33" cy="307.42" r="0.9" fill="#4c8a3a"/>
<circle cx="630.71" cy="323.23" r="0.9" fill="#4c8a3a"/>
<circle cx="640.16" cy="311.68" r="0.9" fill="#4c8a3a"/>
<circle cx="650.08" cy="304.43" r="0.9" fill="#4c8a3a"/>
<circle cx="647.12" cy="304.23" r="0.9" fill="#4c8a3a"/>
<circle cx="642.62" cy="312.16" r="0.9" fill="#4c8a3a"/>
<circle cx="625.8" cy="328.02" r="0.9" fill="#4c8a3a"/>
<circle cx="631.55" cy="319.08" r="0.9" fill="#4c8a3a"/>
<circle cx="648.99" cy="305.26" r="0.9" fill="#4c8a3a"/>
<circle cx="625.81" cy="324.07" r="0.9" fill="#4c8a3a"/>
<circle cx="631.01" cy="321.37" r="0.9" fill="#4c8a3a"/>
<circle cx="645.92" cy="310.56" r="0.9" fill="#4c8a3a"/>
<circle cx="643.06" cy="314.28" r="0.9" fill="#4c8a3a"/>
<circle cx="645.08" cy="305.16" r="0.9" fill="#4c8a3a"/>
<circle cx="641.37" cy="313.4" r="0.9" fill="#4c8a3a"/>
<circle cx="644.55" cy="314.89" r="0.9" fill="#4c8a3a"/>
<circle cx="633.1" cy="321.51" r="0.9" fill="#4c8a3a"/>
<circle cx="637.59" cy="315.41" r="0.9" fill="#4c8a3a"/>
<circle cx="632.61" cy="322.37" r="0.9" fill="#4c8a3a"/>
<circle cx="631.06" cy="322.6" r="0.9" fill="#4c8a3a"/>
<circle cx="634.09" cy="321.22" r="0.9" fill="#4c8a3a"/>
<circle cx="637.66" cy="319.65" r="0.9" fill="#4c8a3a"/>
<circle cx="640.35" cy="312.57" r="0.9" fill="#4c8a3a"/>
<circle cx="636.23" cy="315.47" r="0.9" fill="#4c8a3a"/>
<circle cx="635.77" cy="317.01" r="0.9" fill="#4c8a3a"/>
<circle cx="646.29" cy="311.12" r="0.9" fill="#4c8a3a"/>
<circle cx="640.41" cy="316.47" r="0.9" fill="#4c8a3a"/>
<circle cx="639.78" cy="312.21" r="0.9" fill="#4c8a3a"/>
<circle cx="636.62" cy="321.3" r="0.9" fill="#4c8a3a"/>
<circle cx="642.35" cy="309.54" r="0.9" fill="#4c8a3a"/>
<circle cx="637.23" cy="319.51" r="0.9" fill="#4c8a3a"/>
<circle cx="649.7" cy="301.97" r="0.9" fill="#4c8a3a"/>
<circle cx="648.11" cy="300.64" r="0.9" fill="#4c8a3a"/>
<circle cx="633.12" cy="317.33" r="0.9" fill="#4c8a3a"/>
<circle cx="626.76" cy="323.84" r="0.9" fill="#4c8a3a"/>
<circle cx="629.63" cy="323.44" r="0.9" fill="#4c8a3a"/>
<circle cx="646.96" cy="309.12" r="0.9" fill="#4c8a3a"/>
<circle cx="647.75" cy="305.36" r="0.9" fill="#4c8a3a"/>
<circle cx="640.1" cy="311.03" r="0.9" fill="#4c8a3a"/>
<circle cx="631.94" cy="325.14" r="0.9" fill="#4c8a3a"/>
<circle cx="636.49" cy="315.51" r="0.9" fill="#4c8a3a"/>
<circle cx="631.26" cy="321.15" r="0.9" fill="#4c8a3a"/>
<circle cx="635.44" cy="317.53" r="0.9" fill="#4c8a3a"/>
<circle cx="646.78" cy="307.22" r="0.9" fill="#4c8a3a"/>
<circle cx="646.32" cy="309.47" r="0.9" fill="#4c8a3a"/>
<circle cx="645.06" cy="306.76" r="0.9" fill="#4c8a3a"/>
<circle cx="629.35" cy="321.2" r="0.9" fill="#4c8a3a"/>
<circle cx="650.58" cy="300.89" r="0.9" fill="#4c8a3a"/>
<circle cx="650.88" cy="301.27" r="0.9" fill="#4c8a3a"/>
<circle cx="645.51" cy="311.1" r="0.9" fill="#4c8a3a"/>
<circle cx="642.36" cy="317.26" r="0.9" fill="#4c8a3a"/>
<circle cx="639.73" cy="318.38" r="0.9" fill="#4c8a3a"/>
<circle cx="626.77" cy="326.34" r="0.9" fill="#4c8a3a"/>
<circle cx="642.55" cy="306.72" r="0.9" fill="#4c8a3a"/>
<circle cx="638.26" cy="312.05" r="0.9" fill="#4c8a3a"/>
<circle cx="638.96" cy="311.31" r="0.9" fill="#4c8a3a"/>
<circle cx="642.67" cy="312.15" r="0.9" fill="#4c8a3a"/>
<circle cx="626.51" cy="324.35" r="0.9" fill="#4c8a3a"/>
<circle cx="650.84" cy="302.8" r="0.9" fill="#4c8a3a"/>
<circle cx="631.84" cy="321.51" r="0.9" fill="#4c8a3a"/>
<circle cx="625.81" cy="328.19" r="0.9" fill="#4c8a3a"/>
<circle cx="633.24" cy="321.71" r="0.9" fill="#4c8a3a"/>
<circle cx="632.93" cy="316.84" r="0.9" fill="#4c8a3a"/>
<circle cx="647.69" cy="306.62" r="0.9" fill="#4c8a3a"/>
<circle cx="639.71" cy="310.24" r="0.9" fill="#4c8a3a"/>
<circle cx="645.08" cy="316.27" r="0.9" fill="#4c8a3a"/>
<circle cx="628.16" cy="322.55" r="0.9" fill="#4c8a3a"/>
<circle cx="630.71" cy="321.81" r="0.9" fill="#4c8a3a"/>
<circle cx="647.71" cy="301.59" r="0.9" fill="#4c8a3a"/>
<circle cx="631.59" cy="321.21" r="0.9" fill="#4c8a3a"/>
<circle cx="631.02" cy="326.46" r="0.9" fill="#4c8a3a"/>
<circle cx="631.4" cy="325.31" r="0.9" fill="#4c8a3a"/>
<circle cx="628.74" cy="320.99" r="0.9" fill="#4c8a3a"/>
<circle cx="650.7" cy="297.35" r="0.9" fill="#4c8a3a"/>
<circle cx="629.43" cy="321.51" r="0.9" fill="#4c8a3a"/>
<circle cx="636.43" cy="316.61" r="0.9" fill="#4c8a3a"/>
<circle cx="629.09" cy="332.82" r="0.9" fill="#4c8a3a"/>
<circle cx="628.58" cy="325.38" r="0.9" fill="#4c8a3a"/>
<circle cx="629.06" cy="322.62" r="0.9" fill="#4c8a3a"/>
<circle cx="630.55" cy="323.05" r="0.9" fill="#4c8a3a"/>
<circle cx="637.75" cy="311.6" r="0.9" fill="#4c8a3a"/>
<circle cx="650.74" cy="300.06" r="0.9" fill="#4c8a3a"/>
<circle cx="638.62" cy="314.01" r="0.9" fill="#4c8a3a"/>
<circle cx="635.98" cy="317.45" r="0.9" fill="#4c8a3a"/>
<circle cx="647.14" cy="304.2" r="0.9" fill="#4c8a3a"/>
<circle cx="635.65" cy="318.28" r="0.9" fill="#4c8a3a"/>
<circle cx="640.05" cy="313.65" r="0.9" fill="#4c8a3a"/>
<circle cx="642.23" cy="312.24" r="0.9" fill="#4c8a3a"/>
<circle cx="628.51" cy="322.83" r="0.9" fill="#4c8a3a"/>
<circle cx="644.18" cy="308.21" r="0.9" fill="#4c8a3a"/>
<circle cx="627.07" cy="326.45" r="0.9" fill="#4c8a3a"/>
<circle cx="646.02" cy="311.8" r="0.9" fill="#4c8a3a"/>
<circle cx="634.54" cy="318.53" r="0.9" fill="#4c8a3a"/>
<circle cx="641.75" cy="314.09" r="0.9" fill="#4c8a3a"/>
<circle cx="644.93" cy="313.22" r="0.9" fill="#4c8a3a"/>
<circle cx="640.06" cy="311.84" r="0.9" fill="#4c8a3a"/>
<circle cx="642.16" cy="311.17" r="0.9" fill="#4c8a3a"/>
<circle cx="627.24" cy="326.55" r="0.9" fill="#4c8a3a"/>
<circle cx="642.68" cy="309.97" r="0.9" fill="#4c8a3a"/>
<circle cx="636.68" cy="315.68" r="0.9" fill="#4c8a3a"/>
<circle cx="628.1" cy="322.08" r="0.9" fill="#4c8a3a"/>
<circle cx="638.08" cy="317.94" r="0.9" fill="#4c8a3a"/>
<circle cx="642.32" cy="310.43" r="0.9" fill="#4c8a3a"/>
<circle cx="627.21" cy="327.81" r="0.9" fill="#4c8a3a"/>
<circle cx="629.54" cy="323.5" r="0.9" fill="#4c8a3a"/>
<circle cx="625.9" cy="325.08" r="0.9" fill="#4c8a3a"/>
<circle cx="649.56" cy="300.75" r="0.9" fill="#4c8a3a"/>
<circle cx="634.2" cy="323.28" r="0.9" fill="#4c8a3a"/>
<circle cx="635.12" cy="315.24" r="0.9" fill="#4c8a3a"/>
<circle cx="647.73" cy="306.64" r="0.9" fill="#4c8a3a"/>
<circle cx="631.28" cy="323.85" r="0.9" fill="#4c8a3a"/>
<circle cx="648.61" cy="302.66" r="0.9" fill="#4c8a3a"/>
<circle cx="626.79" cy="325.71" r="0.9" fill="#4c8a3a"/>
<circle cx="635.58" cy="316.82" r="0.9" fill="#4c8a3a"/>
<circle cx="645.07" cy="308.03" r="0.9" fill="#4c8a3a"/>
<circle cx="647.03" cy="306.99" r="0.9" fill="#4c8a3a"/>
<circle cx="645.93" cy="307.29" r="0.9" fill="#4c8a3a"/>
<circle cx="639.67" cy="314.9" r="0.9" fill="#4c8a3a"/>
<circle cx="629.95" cy="323.36" r="0.9" fill="#4c8a3a"/>
<circle cx="631.25" cy="320.52" r="0.9" fill="#4c8a3a"/>
<circle cx="640.26" cy="308.52" r="0.9" fill="#4c8a3a"/>
<circle cx="642.38" cy="311.52" r="0.9" fill="#4c8a3a"/>
<circle cx="641.4" cy="315.52" r="0.9" fill="#4c8a3a"/>
<circle cx="627.6" cy="330.12" r="0.9" fill="#4c8a3a"/>
<circle cx="629.24" cy="322.88" r="0.9" fill="#4c8a3a"/>
<circle cx="648.14" cy="303" r="0.9" fill="#4c8a3a"/>
<circle cx="634.39" cy="318.59" r="0.9" fill="#4c8a3a"/>
<circle cx="639.96" cy="308.14" r="0.9" fill="#4c8a3a"/>
<circle cx="645.32" cy="309.31" r="0.9" fill="#4c8a3a"/>
<circle cx="642.07" cy="306.68" r="0.9" fill="#4c8a3a"/>
<circle cx="643.19" cy="310.72" r="0.9" fill="#4c8a3a"/>
<circle cx="637.95" cy="311.41" r="0.9" fill="#4c8a3a"/>
<circle cx="646.82" cy="303.54" r="0.9" fill="#4c8a3a"/>
<circle cx="633.43" cy="319.07" r="0.9" fill="#4c8a3a"/>
<circle cx="631.65" cy="318.17" r="0.9" fill="#4c8a3a"/>
<circle cx="647.31" cy="308.91" r="0.9" fill="#4c8a3a"/>
<circle cx="629.21" cy="319.45" r="0.9" fill="#4c8a3a"/>
<circle cx="628.43" cy="322.29" r="0.9" fill="#4c8a3a"/>
<circle cx="627.61" cy="323.37" r="0.9" fill="#4c8a3a"/>
<circle cx="647.94" cy="306.58" r="0.9" fill="#4c8a3a"/>
<circle cx="627.33" cy="323.43" r="0.9" fill="#4c8a3a"/>
<circle cx="638.91" cy="317.14" r="0.9" fill="#4c8a3a"/>
<circle cx="646.22" cy="301.91" r="0.9" fill="#4c8a3a"/>
<circle cx="629.27" cy="322.52" r="0.9" fill="#4c8a3a"/>
<circle cx="647.68" cy="309.11" r="0.9" fill="#4c8a3a"/>
<circle cx="628.09" cy="326.39" r="0.9" fill="#4c8a3a"/>
<circle cx="645.04" cy="303.04" r="0.9" fill="#4c8a3a"/>
<circle cx="648.73" cy="306.18" r="0.9" fill="#4c8a3a"/>
<circle cx="632.56" cy="319.5" r="0.9" fill="#4c8a3a"/>
<circle cx="638.29" cy="314.3" r="0.9" fill="#4c8a3a"/>
<circle cx="650.13" cy="303.79" r="0.9" fill="#4c8a3a"/>
<circle cx="639.41" cy="311.89" r="0.9" fill="#4c8a3a"/>
<circle cx="629.53" cy="322.99" r="0.9" fill="#4c8a3a"/>
<circle cx="634.28" cy="317.25" r="0.9" fill="#4c8a3a"/>
<circle cx="634.34" cy="321.68" r="0.9" fill="#4c8a3a"/>
<circle cx="629.28" cy="326.19" r="0.9" fill="#4c8a3a"/>
<circle cx="645.72" cy="308.92" r="0.9" fill="#4c8a3a"/>
<circle cx="649.29" cy="303.27" r="0.9" fill="#4c8a3a"/>
<circle cx="637.9" cy="319.12" r="0.9" fill="#4c8a3a"/>
<circle cx="637.38" cy="316.31" r="0.9" fill="#4c8a3a"/>
<circle cx="637.93" cy="314.24" r="0.9" fill="#4c8a3a"/>
<circle cx="638.88" cy="313.64" r="0.9" fill="#4c8a3a"/>
<circle cx="649.02" cy="304.96" r="0.9" fill="#4c8a3a"/>
<circle cx="637.66" cy="315.1" r="0.9" fill="#4c8a3a"/>
<circle cx="633.41" cy="320.54" r="0.9" fill="#4c8a3a"/>
<circle cx="650.77" cy="301.75" r="0.9" fill="#4c8a3a"/>
<circle cx="638.74" cy="316.19" r="0.9" fill="#4c8a3a"/>
<circle cx="630.18" cy="322.2" r="0.9" fill="#4c8a3a"/>
<circle cx="648.86" cy="307.15" r="0.9" fill="#4c8a3a"/>
<circle cx="650.51" cy="306.55" r="0.9" fill="#4c8a3a"/>
<circle cx="639.25" cy="314.49" r="0.9" fill="#4c8a3a"/>
<circle cx="630.34" cy="325.42" r="0.9" fill="#4c8a3a"/>
<circle cx="646.58" cy="308.85" r="0.9" fill="#4c8a3a"/>
<circle cx="641.69" cy="310.35" r="0.9" fill="#4c8a3a"/>
<circle cx="627.19" cy="325.88" r="0.9" fill="#4c8a3a"/>
<circle cx="643.78" cy="311.05" r="0.9" fill="#4c8a3a"/>
<circle cx="636.27" cy="316.74" r="0.9" fill="#4c8a3a"/>
<circle cx="646.03" cy="313.91" r="0.9" fill="#4c8a3a"/>
<circle cx="645.78" cy="311.21" r="0.9" fill="#4c8a3a"/>
<circle cx="629.58" cy="318.39" r="0.9" fill="#4c8a3a"/>
<circle cx="637.46" cy="317.85" r="0.9" fill="#4c8a3a"/>
<circle cx="636.76" cy="319.14" r="0.9" fill="#4c8a3a"/>
<circle cx="643.39" cy="313.31" r="0.9" fill="#4c8a3a"/>
<circle cx="644.73" cy="308.44" r="0.9" fill="#4c8a3a"/>
<circle cx="630.56" cy="321.04" r="0.9" fill="#4c8a3a"/>
<circle cx="637.89" cy="318.2" r="0.9" fill="#4c8a3a"/>
<circle cx="633.41" cy="323.09" r="0.9" fill="#4c8a3a"/>
<circle cx="638.95" cy="316.29" r="0.9" fill="#4c8a3a"/>
<circle cx="643.91" cy="311.07" r="0.9" fill="#4c8a3a"/>
<circle cx="639.76" cy="314.44" r="0.9" fill="#4c8a3a"/>
<circle cx="634.27" cy="320.55" r="0.9" fill="#4c8a3a"/>
<circle cx="629.8" cy="321.82" r="0.9" fill="#4c8a3a"/>
<circle cx="643.58" cy="306.43" r="0.9" fill="#4c8a3a"/>
<circle cx="649.32" cy="307.42" r="0.9" fill="#4c8a3a"/>
<circle cx="635.29" cy="317.21" r="0.9" fill="#4c8a3a"/>
<circle cx="626.66" cy="323.69" r="0.9" fill="#4c8a3a"/>
<circle cx="628.49" cy="323.71" r="0.9" fill="#4c8a3a"/>
<circle cx="625.76" cy="329.75" r="0.9" fill="#4c8a3a"/>
<circle cx="638.08" cy="321.54" r="0.9" fill="#4c8a3a"/>
<circle cx="627.7" cy="325.99" r="0.9" fill="#4c8a3a"/>
<circle cx="634.83" cy="317.41" r="0.9" fill="#4c8a3a"/>
<circle cx="644.96" cy="308.04" r="0.9" fill="#4c8a3a"/>
<circle cx="636" cy="317.3" r="0.9" fill="#4c8a3a"/>
<circle cx="629.74" cy="316.29" r="0.9" fill="#4c8a3a"/>
<circle cx="633.43" cy="318.12" r="0.9" fill="#4c8a3a"/>
<circle cx="639.42" cy="309.66" r="0.9" fill="#4c8a3a"/>
<circle cx="649.57" cy="308.36" r="0.9" fill="#4c8a3a"/>
<circle cx="631.19" cy="325.49" r="0.9" fill="#4c8a3a"/>
<circle cx="630.44" cy="326.33" r="0.9" fill="#4c8a3a"/>
<circle cx="631.01" cy="326.83" r="0.9" fill="#4c8a3a"/>
<circle cx="634.76" cy="332.18" r="0.9" fill="#4c8a3a"/>
<circle cx="628.51" cy="325.84" r="0.9" fill="#4c8a3a"/>
<circle cx="632.92" cy="327.13" r="0.9" fill="#4c8a3a"/>
<circle cx="631.83" cy="329.87" r="0.9" fill="#4c8a3a"/>
<circle cx="633" cy="325.69" r="0.9" fill="#4c8a3a"/>
<circle cx="634.73" cy="327.21" r="0.9" fill="#4c8a3a"/>
<circle cx="630.21" cy="326.65" r="0.9" fill="#4c8a3a"/>
<circle cx="633.12" cy="325.19" r="0.9" fill="#4c8a3a"/>
<circle cx="631.83" cy="327.58" r="0.9" fill="#4c8a3a"/>
<circle cx="628.81" cy="323.05" r="0.9" fill="#4c8a3a"/>
<circle cx="632.42" cy="327.72" r="0.9" fill="#4c8a3a"/>
<circle cx="635.71" cy="328.05" r="0.9" fill="#4c8a3a"/>
<circle cx="636.23" cy="325.56" r="0.9" fill="#4c8a3a"/>
<circle cx="633.2" cy="332.61" r="0.9" fill="#4c8a3a"/>
<circle cx="633.53" cy="327.63" r="0.9" fill="#4c8a3a"/>
<circle cx="632.91" cy="329.67" r="0.9" fill="#4c8a3a"/>
<circle cx="638" cy="329.13" r="0.9" fill="#4c8a3a"/>
<circle cx="635.43" cy="326.77" r="0.9" fill="#4c8a3a"/>
<circle cx="635.21" cy="328.92" r="0.9" fill="#4c8a3a"/>
<circle cx="632.35" cy="325.05" r="0.9" fill="#4c8a3a"/>
<circle cx="630.34" cy="327.73" r="0.9" fill="#4c8a3a"/>
<circle cx="624.99" cy="328.77" r="0.9" fill="#4c8a3a"/>
<circle cx="630.27" cy="331.58" r="0.9" fill="#4c8a3a"/>
<circle cx="634.93" cy="326.51" r="0.9" fill="#4c8a3a"/>
<circle cx="633.6" cy="326.74" r="0.9" fill="#4c8a3a"/>
<circle cx="628.94" cy="327.79" r="0.9" fill="#4c8a3a"/>
<circle cx="629.57" cy="322.27" r="0.9" fill="#4c8a3a"/>
<circle cx="630.18" cy="327.42" r="0.9" fill="#4c8a3a"/>
<circle cx="633.54" cy="326.91" r="0.9" fill="#4c8a3a"/>
<circle cx="630.14" cy="325.78" r="0.9" fill="#4c8a3a"/>
<circle cx="628.29" cy="333.24" r="0.9" fill="#4c8a3a"/>
<circle cx="640.38" cy="326.17" r="0.9" fill="#4c8a3a"/>
<circle cx="630.34" cy="325.3" r="0.9" fill="#4c8a3a"/>
<circle cx="629.2" cy="321.71" r="0.9" fill="#4c8a3a"/>
<circle cx="625.18" cy="324.6" r="0.9" fill="#4c8a3a"/>
<circle cx="628.46" cy="325.05" r="0.9" fill="#4c8a3a"/>
<circle cx="634.07" cy="327.1" r="0.9" fill="#4c8a3a"/>
<circle cx="620.71" cy="349.38" r="0.9" fill="#4c8a3a"/>
<circle cx="623.22" cy="347.86" r="0.9" fill="#4c8a3a"/>
<circle cx="613.16" cy="343.8" r="0.9" fill="#4c8a3a"/>
<circle cx="630.77" cy="335.16" r="0.9" fill="#4c8a3a"/>
<circle cx="638.31" cy="330.08" r="0.9" fill="#4c8a3a"/>
<circle cx="640.83" cy="325" r="0.9" fill="#4c8a3a"/>
<circle cx="645.86" cy="319.92" r="0.9" fill="#4c8a3a"/>
<circle cx="630.77" cy="309.25" r="0.9" fill="#4c8a3a"/>
<circle cx="649.88" cy="313.32" r="0.9" fill="#4c8a3a"/>
<circle cx="633.28" cy="312.81" r="0.9" fill="#4c8a3a"/>
<circle cx="626.75" cy="310.78" r="0.9" fill="#4c8a3a"/>
<line x1="609.14" y1="342.15" x2="650.89" y2="303.36" stroke="#111" stroke-width="1.2"/>
<line x1="591.7" y1="267" x2="591.7" y2="355.8" stroke="#111" stroke-width="1.5"/>
<line x1="591.1" y1="355.8" x2="680.7" y2="355.8" stroke="#111" stroke-width="1.5"/>
<line x1="589.3" y1="337.7" x2="591.7" y2="337.7" stroke="#222" stroke-width="1.0"/>
<text x="587.7" y="340.5" font-size="7.8" fill="#646464" stroke="#646464" stroke-width="0.2" text-anchor="end" transform="matrix(1 0 0 1.18 0 -60.78)">−5</text>
<line x1="610.65" y1="355.8" x2="610.65" y2="358.2" stroke="#222" stroke-width="1.0"/>
<text x="610.65" y="365.9" font-size="7.8" fill="#646464" stroke="#646464" stroke-width="0.2" text-anchor="middle" transform="matrix(1 0 0 1.18 0 -65.36)">−5</text>
<line x1="589.3" y1="312.3" x2="591.7" y2="312.3" stroke="#222" stroke-width="1.0"/>
<text x="587.7" y="315.1" font-size="7.8" fill="#646464" stroke="#646464" stroke-width="0.2" text-anchor="end" transform="matrix(1 0 0 1.18 0 -56.21)">0</text>
<line x1="635.8" y1="355.8" x2="635.8" y2="358.2" stroke="#222" stroke-width="1.0"/>
<text x="635.8" y="365.9" font-size="7.8" fill="#646464" stroke="#646464" stroke-width="0.2" text-anchor="middle" transform="matrix(1 0 0 1.18 0 -65.36)">0</text>
<line x1="589.3" y1="286.9" x2="591.7" y2="286.9" stroke="#222" stroke-width="1.0"/>
<text x="587.7" y="289.7" font-size="7.8" fill="#646464" stroke="#646464" stroke-width="0.2" text-anchor="end" transform="matrix(1 0 0 1.18 0 -51.64)">5</text>
<line x1="660.95" y1="355.8" x2="660.95" y2="358.2" stroke="#222" stroke-width="1.0"/>
<text x="660.95" y="365.9" font-size="7.8" fill="#646464" stroke="#646464" stroke-width="0.2" text-anchor="middle" transform="matrix(1 0 0 1.18 0 -65.36)">5</text>
<text x="636.2" y="375.6" font-size="8.5" fill="#1a1a1a" stroke="#1a1a1a" stroke-width="0.2" text-anchor="middle">Enrich2 Score</text>
<text x="593.5" y="270.9" font-size="7.3" fill="#111" stroke="#111" stroke-width="0.2">score<tspan font-size="4.7" dy="1.5">WT</tspan><tspan dy="-1.5">=0.92(score)-1.00</tspan></text>
<text x="593.5" y="281.2" font-size="7.3" fill="#111" stroke="#111" stroke-width="0.2">R<tspan font-size="4.6" dy="-2.7">2</tspan><tspan dy="2.7">= 0.80</tspan></text>
<text x="7.3" y="312.5" font-size="8.3" fill="#1a1a1a" stroke="#1a1a1a" stroke-width="0.2" text-anchor="middle" transform="rotate(-90 7.3 312.5)">Enrich2 Score<tspan font-size="5" dy="1.8">WT</tspan></text>
</svg>
</body></html>
